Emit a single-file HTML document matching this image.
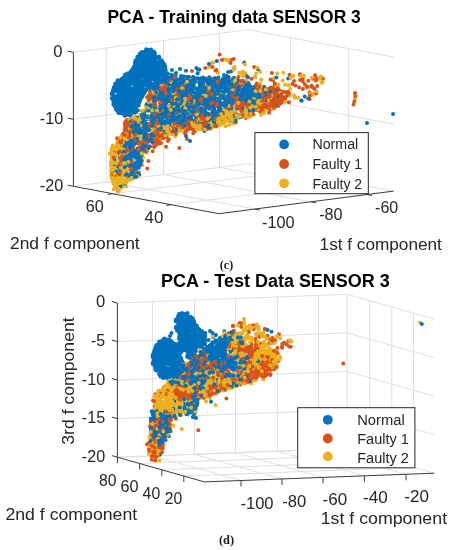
<!DOCTYPE html>
<html><head><meta charset="utf-8"><title>PCA SENSOR 3</title>
<style>html,body{margin:0;padding:0;background:#fff}svg{display:block}</style></head>
<body>
<svg width="454" height="550" viewBox="0 0 454 550">
<rect width="454" height="550" fill="#fff"/>
<line x1="106.3" y1="182.0" x2="106.3" y2="48.0" stroke="#dfdfdf" stroke-width="1"/>
<line x1="106.3" y1="182.0" x2="254.9" y2="209.0" stroke="#dfdfdf" stroke-width="1"/>
<line x1="163.5" y1="174.6" x2="163.5" y2="40.6" stroke="#dfdfdf" stroke-width="1"/>
<line x1="163.5" y1="174.6" x2="311.0" y2="201.8" stroke="#dfdfdf" stroke-width="1"/>
<line x1="219.5" y1="167.4" x2="219.5" y2="33.4" stroke="#dfdfdf" stroke-width="1"/>
<line x1="219.5" y1="167.4" x2="367.1" y2="194.5" stroke="#dfdfdf" stroke-width="1"/>
<line x1="290.6" y1="171.7" x2="290.6" y2="37.7" stroke="#dfdfdf" stroke-width="1"/>
<line x1="112.8" y1="193.7" x2="290.6" y2="171.7" stroke="#dfdfdf" stroke-width="1"/>
<line x1="348.4" y1="182.6" x2="348.4" y2="48.6" stroke="#dfdfdf" stroke-width="1"/>
<line x1="171.3" y1="204.7" x2="348.4" y2="182.6" stroke="#dfdfdf" stroke-width="1"/>
<line x1="73.4" y1="186.3" x2="248.1" y2="163.7" stroke="#dfdfdf" stroke-width="1"/>
<line x1="248.1" y1="163.7" x2="393.6" y2="191.1" stroke="#dfdfdf" stroke-width="1"/>
<line x1="73.4" y1="119.3" x2="248.1" y2="96.7" stroke="#dfdfdf" stroke-width="1"/>
<line x1="248.1" y1="96.7" x2="393.6" y2="124.1" stroke="#dfdfdf" stroke-width="1"/>
<line x1="73.4" y1="52.3" x2="248.1" y2="29.7" stroke="#dfdfdf" stroke-width="1"/>
<line x1="248.1" y1="29.7" x2="393.6" y2="57.1" stroke="#dfdfdf" stroke-width="1"/>
<line x1="152.5" y1="455.9" x2="152.5" y2="301.7" stroke="#dfdfdf" stroke-width="1"/>
<line x1="152.5" y1="455.9" x2="241.0" y2="480.5" stroke="#dfdfdf" stroke-width="1"/>
<line x1="194.5" y1="454.3" x2="194.5" y2="300.1" stroke="#dfdfdf" stroke-width="1"/>
<line x1="194.5" y1="454.3" x2="282.0" y2="479.0" stroke="#dfdfdf" stroke-width="1"/>
<line x1="235.5" y1="452.7" x2="235.5" y2="298.5" stroke="#dfdfdf" stroke-width="1"/>
<line x1="235.5" y1="452.7" x2="323.0" y2="477.4" stroke="#dfdfdf" stroke-width="1"/>
<line x1="277.3" y1="451.1" x2="277.3" y2="296.9" stroke="#dfdfdf" stroke-width="1"/>
<line x1="277.3" y1="451.1" x2="364.4" y2="475.8" stroke="#dfdfdf" stroke-width="1"/>
<line x1="318.5" y1="449.6" x2="318.5" y2="295.4" stroke="#dfdfdf" stroke-width="1"/>
<line x1="318.5" y1="449.6" x2="406.0" y2="474.3" stroke="#dfdfdf" stroke-width="1"/>
<line x1="347.2" y1="448.5" x2="347.2" y2="294.3" stroke="#dfdfdf" stroke-width="1"/>
<line x1="117.4" y1="457.2" x2="347.2" y2="448.5" stroke="#dfdfdf" stroke-width="1"/>
<line x1="369.7" y1="454.9" x2="369.7" y2="300.7" stroke="#dfdfdf" stroke-width="1"/>
<line x1="139.7" y1="463.5" x2="369.7" y2="454.9" stroke="#dfdfdf" stroke-width="1"/>
<line x1="391.8" y1="461.2" x2="391.8" y2="307.0" stroke="#dfdfdf" stroke-width="1"/>
<line x1="161.8" y1="469.8" x2="391.8" y2="461.2" stroke="#dfdfdf" stroke-width="1"/>
<line x1="413.5" y1="467.3" x2="413.5" y2="313.1" stroke="#dfdfdf" stroke-width="1"/>
<line x1="183.8" y1="476.1" x2="413.5" y2="467.3" stroke="#dfdfdf" stroke-width="1"/>
<line x1="117.4" y1="457.2" x2="347.2" y2="448.5" stroke="#dfdfdf" stroke-width="1"/>
<line x1="347.2" y1="448.5" x2="434.2" y2="473.2" stroke="#dfdfdf" stroke-width="1"/>
<line x1="117.4" y1="418.6" x2="347.2" y2="409.9" stroke="#dfdfdf" stroke-width="1"/>
<line x1="347.2" y1="409.9" x2="434.2" y2="434.6" stroke="#dfdfdf" stroke-width="1"/>
<line x1="117.4" y1="380.1" x2="347.2" y2="371.4" stroke="#dfdfdf" stroke-width="1"/>
<line x1="347.2" y1="371.4" x2="434.2" y2="396.1" stroke="#dfdfdf" stroke-width="1"/>
<line x1="117.4" y1="341.6" x2="347.2" y2="332.9" stroke="#dfdfdf" stroke-width="1"/>
<line x1="347.2" y1="332.9" x2="434.2" y2="357.6" stroke="#dfdfdf" stroke-width="1"/>
<line x1="117.4" y1="303.0" x2="347.2" y2="294.3" stroke="#dfdfdf" stroke-width="1"/>
<line x1="347.2" y1="294.3" x2="434.2" y2="319.0" stroke="#dfdfdf" stroke-width="1"/>
<path d="M135.4 125.4h.01M229.4 109.7h.01M116.3 177.9h.01M280.2 338.3h.01M174.8 398.7h.01M240.0 340.8h.01M150.9 109.2h.01M191.0 405.1h.01M231.3 343.8h.01M211.9 378.7h.01M146.8 111.1h.01M240.0 335.0h.01M113.7 183.9h.01M174.8 74.1h.01M196.2 381.4h.01M237.5 381.5h.01M180.1 378.8h.01M175.3 378.4h.01M260.9 361.1h.01M255.5 352.6h.01M177.5 400.9h.01M220.1 120.6h.01M200.5 102.0h.01M113.1 175.5h.01M170.7 399.1h.01M274.6 358.6h.01M209.0 115.6h.01M160.8 120.3h.01M212.3 393.6h.01M257.6 327.5h.01M268.5 100.0h.01M171.3 408.0h.01M257.7 97.4h.01M231.5 387.5h.01M230.6 120.9h.01M230.5 345.1h.01M125.0 122.6h.01M115.2 166.4h.01M187.1 411.7h.01M161.4 407.5h.01M165.2 387.8h.01M166.0 386.9h.01M139.5 135.7h.01M111.4 159.0h.01M153.2 130.9h.01M256.2 372.9h.01M264.9 361.0h.01M164.3 401.1h.01M151.6 426.0h.01M203.9 114.1h.01M177.3 378.7h.01M230.8 342.9h.01M173.5 395.1h.01M175.1 381.4h.01M238.7 361.5h.01M202.0 81.6h.01M238.3 103.3h.01M189.4 394.3h.01M255.2 90.3h.01M249.4 325.6h.01M236.3 108.3h.01M159.6 454.9h.01M256.7 346.1h.01M204.4 373.0h.01M246.7 84.8h.01M267.5 100.3h.01M222.1 123.4h.01M272.6 363.6h.01M251.5 358.9h.01M156.7 411.7h.01M112.1 167.3h.01M260.1 71.7h.01M135.0 123.5h.01M249.5 328.1h.01M123.5 186.3h.01M184.2 406.0h.01M132.6 123.4h.01M162.8 403.7h.01M232.7 123.5h.01M163.5 135.5h.01M124.5 184.1h.01M255.7 341.3h.01M133.7 130.0h.01M157.9 441.2h.01M223.8 374.0h.01M175.4 94.2h.01M140.1 136.1h.01M122.7 162.2h.01M241.3 73.9h.01" stroke="#EDB120" stroke-width="4.0" stroke-linecap="round" fill="none"/>
<path d="M200.7 82.3h.01M161.8 396.5h.01M163.2 428.6h.01M181.1 100.3h.01M157.5 128.8h.01M123.4 150.3h.01M184.9 372.1h.01M176.6 79.8h.01M198.1 371.0h.01M161.0 116.3h.01M166.9 390.8h.01M223.2 358.2h.01M191.8 396.3h.01M176.3 131.6h.01M219.1 356.4h.01M167.9 400.9h.01M273.1 80.6h.01M203.6 81.5h.01M211.2 82.8h.01M238.1 356.6h.01M173.0 84.3h.01M205.1 78.6h.01M294.0 81.1h.01M155.6 106.6h.01M153.2 117.4h.01M150.5 445.6h.01M260.6 369.1h.01M168.0 91.6h.01M172.6 116.9h.01M218.8 360.8h.01M217.4 361.3h.01M284.2 342.9h.01M146.3 129.8h.01M187.8 104.8h.01M153.0 400.5h.01M167.3 388.0h.01M202.8 362.1h.01M126.5 130.7h.01M269.2 103.2h.01M191.7 359.5h.01M244.4 372.7h.01M263.6 365.7h.01M260.2 348.9h.01M156.0 145.0h.01M184.8 133.3h.01M147.7 105.8h.01M263.1 374.9h.01M234.5 101.1h.01M278.9 102.3h.01M122.5 168.5h.01M233.1 347.9h.01M247.6 377.0h.01M210.9 80.3h.01M187.0 95.8h.01M275.6 100.6h.01M157.4 140.8h.01M286.8 92.6h.01M237.4 91.4h.01M217.2 362.8h.01M160.2 103.0h.01M240.6 81.6h.01M221.5 387.8h.01M124.1 163.9h.01M188.0 129.6h.01M122.7 134.3h.01M160.7 420.8h.01M158.2 454.1h.01M202.9 122.7h.01M175.8 130.8h.01M263.3 111.6h.01M133.7 146.0h.01M157.6 441.6h.01M219.0 365.8h.01M199.7 128.4h.01M224.0 359.5h.01M189.3 117.1h.01M268.1 93.4h.01M252.6 349.3h.01M277.6 96.4h.01M166.0 86.3h.01M247.8 370.6h.01M179.3 147.9h.01M202.0 358.8h.01M131.8 148.6h.01M316.5 79.4h.01M174.4 113.3h.01M170.3 411.0h.01M264.3 97.3h.01M190.0 397.0h.01M118.3 174.2h.01M231.4 386.4h.01M208.9 375.9h.01M131.8 145.3h.01M186.9 390.2h.01M198.3 430.2h.01M147.8 140.1h.01M172.0 116.3h.01M259.7 99.9h.01M249.5 374.7h.01M156.6 442.8h.01" stroke="#D95319" stroke-width="4.0" stroke-linecap="round" fill="none"/>
<path d="M127.1 132.9h.01M115.5 166.9h.01M248.5 329.9h.01M195.9 103.5h.01M219.4 113.5h.01M183.5 112.3h.01M155.0 437.8h.01M166.0 413.5h.01M208.0 118.7h.01M212.0 114.3h.01M274.3 363.1h.01M196.0 396.5h.01M199.4 388.7h.01M176.4 391.8h.01M185.7 371.2h.01M233.0 341.6h.01M213.7 111.7h.01M228.9 120.6h.01M194.2 389.2h.01M170.3 93.7h.01M134.3 128.8h.01M121.1 181.1h.01M303.6 76.8h.01M253.8 114.8h.01M221.7 380.1h.01M264.1 93.2h.01M261.5 373.0h.01M228.4 85.7h.01M122.8 143.5h.01M155.5 428.6h.01M271.1 103.1h.01M154.7 135.6h.01M158.6 135.1h.01M156.2 451.0h.01M150.2 436.3h.01M195.6 127.9h.01M313.6 93.8h.01M154.8 421.5h.01M208.6 394.7h.01M245.5 339.8h.01M190.1 80.3h.01M184.7 389.3h.01M151.5 126.7h.01M119.5 171.4h.01M263.4 102.0h.01M130.9 134.4h.01M159.8 396.9h.01M248.7 374.6h.01M153.3 450.4h.01M210.3 63.5h.01M146.5 110.9h.01M208.0 371.7h.01M153.3 110.3h.01M285.0 84.7h.01M253.0 107.4h.01M245.2 346.8h.01M168.1 134.5h.01M160.3 98.3h.01M276.5 361.2h.01M321.8 82.8h.01M157.3 416.3h.01M201.9 356.9h.01M188.5 398.7h.01M259.0 352.8h.01M262.8 342.7h.01M252.7 368.7h.01M230.8 106.2h.01M256.2 361.8h.01M265.2 106.3h.01M194.7 121.5h.01M212.6 366.3h.01M247.1 334.8h.01M274.3 354.6h.01M205.3 388.8h.01M237.2 374.2h.01M253.9 356.3h.01M354.8 98.7h.01M267.2 95.2h.01M115.1 156.2h.01M128.9 138.4h.01M149.2 135.4h.01M175.2 136.5h.01M208.2 388.8h.01M128.2 127.9h.01M171.7 397.8h.01M240.3 334.1h.01M151.0 120.7h.01M246.3 338.6h.01M143.0 157.7h.01M206.5 379.4h.01M154.0 91.7h.01M141.5 151.2h.01M125.6 137.2h.01M176.5 397.9h.01M126.5 182.0h.01M210.6 129.1h.01M256.2 110.1h.01M231.6 348.0h.01" stroke="#EDB120" stroke-width="4.0" stroke-linecap="round" fill="none"/>
<path d="M212.6 109.0h.01M136.2 137.6h.01M306.5 87.2h.01M150.8 441.1h.01M266.3 360.9h.01M232.6 103.2h.01M237.6 96.9h.01M275.5 106.2h.01M182.0 372.6h.01M195.8 372.0h.01M225.4 376.5h.01M261.3 99.9h.01M111.6 175.7h.01M239.4 101.0h.01M204.4 352.1h.01M216.6 342.9h.01M172.0 100.7h.01M208.9 104.1h.01M184.4 375.2h.01M175.2 113.8h.01M147.6 147.1h.01M124.4 142.2h.01M241.2 354.0h.01M158.3 445.6h.01M199.4 102.4h.01M158.8 446.6h.01M174.5 390.5h.01M257.1 366.4h.01M269.7 94.5h.01M246.9 382.1h.01M220.1 366.5h.01M180.2 95.7h.01M212.8 114.5h.01M128.0 155.6h.01M161.1 110.8h.01M244.2 111.8h.01M225.0 371.7h.01M139.4 118.1h.01M243.4 378.2h.01M241.3 327.0h.01M168.1 93.6h.01M190.8 368.4h.01M284.2 91.9h.01M179.9 375.8h.01M221.6 385.0h.01M194.3 396.5h.01M154.5 451.7h.01M259.1 374.1h.01M278.6 96.7h.01M248.5 349.6h.01M158.4 143.4h.01M278.5 360.8h.01M233.1 91.9h.01M177.4 411.5h.01M118.0 191.0h.01M158.3 394.2h.01M162.3 107.0h.01M197.4 400.3h.01M164.5 430.2h.01M155.4 134.3h.01M254.1 325.4h.01M238.8 101.5h.01M205.4 348.7h.01M184.1 98.8h.01M201.3 121.9h.01M255.6 86.3h.01M284.6 98.6h.01M157.8 424.7h.01M205.4 128.4h.01M231.0 91.3h.01M282.9 98.1h.01M257.5 364.0h.01M121.3 147.3h.01M169.3 383.9h.01M230.5 349.3h.01M267.3 335.7h.01M214.8 389.5h.01M258.2 89.7h.01M311.5 85.8h.01M153.8 116.0h.01M237.6 342.3h.01M249.4 360.4h.01M216.9 385.9h.01M131.8 135.7h.01M197.0 405.0h.01M184.0 130.2h.01M188.3 90.0h.01M204.2 392.8h.01M278.3 100.1h.01M200.5 120.8h.01" stroke="#D95319" stroke-width="4.0" stroke-linecap="round" fill="none"/>
<path d="M121.1 178.4h.01M117.9 144.1h.01M133.1 119.2h.01M249.4 358.0h.01M116.9 152.1h.01M253.0 368.0h.01M185.2 92.2h.01M166.2 124.1h.01M159.3 455.2h.01M249.1 108.8h.01M181.9 405.2h.01M191.8 391.6h.01M263.9 346.0h.01M164.9 123.2h.01M113.8 173.6h.01M200.5 377.2h.01M225.2 380.0h.01M184.4 397.2h.01M117.2 143.7h.01M190.8 93.0h.01M225.9 370.4h.01M187.0 406.6h.01M182.7 383.1h.01M189.1 387.2h.01M201.8 395.1h.01M157.2 396.7h.01M242.3 362.0h.01M176.9 381.6h.01M263.5 359.7h.01M242.7 379.1h.01M255.2 103.5h.01M152.3 448.5h.01M236.0 118.9h.01M262.0 374.2h.01M237.4 333.8h.01M143.7 112.9h.01M174.3 405.2h.01M196.2 122.6h.01M193.2 392.9h.01M175.8 393.7h.01M278.3 354.3h.01M204.0 354.3h.01M199.9 398.2h.01M178.4 412.9h.01M147.2 135.1h.01M250.4 350.8h.01M203.1 109.3h.01M224.7 59.2h.01M186.1 84.9h.01M283.3 72.8h.01M154.6 442.0h.01M151.4 116.3h.01M236.9 377.9h.01M219.5 366.3h.01M241.2 370.5h.01M161.4 406.1h.01M121.9 144.6h.01M168.1 402.2h.01M204.1 85.6h.01M134.7 140.6h.01M244.6 346.3h.01M170.3 398.5h.01M126.2 179.2h.01M167.7 386.1h.01M270.8 363.8h.01M148.5 102.6h.01M248.9 338.1h.01M118.5 176.6h.01M228.8 85.5h.01M181.4 100.9h.01M111.2 152.8h.01M182.6 107.8h.01M166.1 132.3h.01M127.6 120.9h.01M161.1 112.4h.01M193.8 393.9h.01M146.0 135.6h.01M171.6 403.8h.01M209.3 385.1h.01M157.6 138.9h.01M164.9 136.8h.01M204.8 397.8h.01M116.6 151.7h.01M274.8 365.4h.01M112.8 180.7h.01M217.0 112.9h.01M189.1 89.3h.01M236.2 333.9h.01M217.7 72.7h.01M215.6 115.0h.01M244.3 330.4h.01M253.3 366.8h.01M265.4 375.4h.01M166.5 126.9h.01M134.3 130.0h.01M180.8 405.3h.01M249.1 104.4h.01M149.4 136.9h.01M117.0 143.1h.01M169.0 403.1h.01M173.8 91.9h.01M211.8 386.5h.01M191.7 124.7h.01" stroke="#EDB120" stroke-width="4.0" stroke-linecap="round" fill="none"/>
<path d="M137.8 149.8h.01M129.8 179.6h.01M169.2 392.2h.01M274.5 91.8h.01M224.5 348.4h.01M199.6 99.6h.01M188.4 390.1h.01M167.9 141.0h.01M196.9 382.1h.01M273.1 103.9h.01M154.9 443.5h.01M156.0 429.9h.01M270.5 87.6h.01M309.8 92.4h.01M133.4 154.8h.01M237.8 373.2h.01M185.4 92.2h.01M255.4 338.8h.01M246.4 83.9h.01M248.6 351.9h.01M235.2 345.0h.01M254.6 378.0h.01M164.1 420.7h.01M200.1 100.4h.01M189.1 391.2h.01M279.0 334.2h.01M160.0 424.4h.01M126.3 158.3h.01M274.4 88.9h.01M268.0 370.6h.01M233.8 99.2h.01M188.8 94.5h.01M288.9 102.2h.01M174.1 378.0h.01M275.8 367.8h.01M230.8 98.8h.01M115.0 164.3h.01M127.3 123.5h.01M161.0 116.0h.01M180.7 120.1h.01M213.7 350.6h.01M190.9 97.5h.01M128.3 132.9h.01M288.4 341.0h.01M158.5 125.9h.01M268.1 93.4h.01M202.2 95.5h.01M153.7 424.8h.01M242.5 347.2h.01M167.9 83.9h.01M147.9 104.9h.01M254.8 360.3h.01M279.3 93.7h.01M249.5 373.9h.01M183.6 405.8h.01M153.0 451.5h.01M165.7 121.0h.01M225.0 389.9h.01M174.5 131.6h.01M159.2 141.2h.01M125.1 148.4h.01M120.2 149.6h.01M242.0 91.6h.01M153.8 100.1h.01M208.0 395.5h.01M219.4 377.2h.01M140.7 118.8h.01M272.9 361.7h.01M226.5 374.6h.01M206.9 395.0h.01M158.0 127.6h.01M265.6 375.5h.01M136.7 155.4h.01M143.0 143.6h.01M244.2 352.2h.01M224.4 86.4h.01M185.5 131.7h.01M284.4 342.8h.01M212.1 112.5h.01M259.3 368.6h.01M278.6 90.3h.01M254.6 349.3h.01M276.9 105.5h.01M226.8 107.6h.01" stroke="#D95319" stroke-width="4.0" stroke-linecap="round" fill="none"/>
<path d="M367.0 123.0h.01" stroke="#0072BD" stroke-width="4.0" stroke-linecap="round" fill="none"/>
<path d="M228.6 120.8h.01M255.7 357.3h.01M263.0 366.8h.01M202.9 394.2h.01M248.6 112.3h.01M248.6 364.0h.01M220.7 385.7h.01M159.3 394.2h.01M161.7 114.5h.01M118.0 171.8h.01M251.3 367.3h.01M273.4 356.5h.01M163.8 405.0h.01M233.8 344.7h.01M233.8 379.3h.01M155.4 128.2h.01M134.9 176.3h.01M160.9 452.5h.01M215.3 121.9h.01M261.1 114.9h.01M185.1 96.0h.01M117.6 147.4h.01M229.6 110.4h.01M257.4 335.2h.01M171.3 412.6h.01M118.7 180.0h.01M237.6 83.6h.01M151.1 434.2h.01M202.3 90.7h.01M178.9 101.0h.01M159.2 447.8h.01M181.0 399.1h.01M193.3 369.5h.01M162.6 403.8h.01M202.5 128.5h.01M175.4 123.1h.01M223.1 389.0h.01M211.1 380.2h.01M181.5 388.2h.01M166.5 408.3h.01M179.4 399.7h.01M135.1 121.2h.01M185.8 389.4h.01M121.3 142.5h.01M223.8 358.4h.01M238.4 334.2h.01M235.0 374.6h.01M177.0 383.2h.01M127.5 127.9h.01M227.6 385.3h.01M212.2 95.7h.01M269.4 354.4h.01M219.3 114.7h.01M116.7 173.3h.01M246.4 113.7h.01M290.2 89.0h.01M168.1 392.2h.01M226.6 120.4h.01M165.0 388.0h.01M115.7 164.0h.01M191.0 398.8h.01M220.6 366.6h.01M143.9 120.7h.01M172.7 127.1h.01M123.4 156.8h.01M180.3 379.9h.01M138.2 134.3h.01M188.3 408.7h.01" stroke="#EDB120" stroke-width="4.0" stroke-linecap="round" fill="none"/>
<path d="M164.1 420.2h.01M187.1 378.3h.01M151.8 129.5h.01M129.4 132.9h.01M147.6 107.0h.01M177.1 122.5h.01M209.9 85.2h.01M239.2 100.1h.01M279.6 90.4h.01M155.9 441.5h.01M186.0 130.1h.01M199.7 366.7h.01M159.6 143.6h.01M244.6 372.5h.01M245.8 379.6h.01M245.4 87.1h.01M162.6 109.2h.01M187.0 128.7h.01M230.8 60.6h.01M205.6 389.9h.01M159.2 391.1h.01M239.7 380.3h.01M232.4 102.6h.01M159.3 424.6h.01M268.7 373.4h.01M214.2 106.4h.01M186.3 124.9h.01M173.0 107.6h.01M148.3 148.2h.01M169.5 125.1h.01M197.1 404.5h.01M220.2 347.7h.01M203.8 104.8h.01M177.9 127.6h.01M133.8 120.5h.01M201.9 85.4h.01M195.4 389.2h.01M270.1 100.8h.01M248.9 113.8h.01M131.7 167.7h.01M323.0 78.9h.01M170.1 383.9h.01M155.6 399.2h.01M205.6 359.7h.01M229.5 95.2h.01M131.0 127.7h.01M213.8 342.3h.01M312.9 78.7h.01M250.3 360.5h.01M117.9 144.4h.01M164.3 82.3h.01M147.3 168.6h.01M226.6 375.4h.01M157.7 125.3h.01M208.5 106.1h.01M128.1 165.4h.01M156.0 436.2h.01M162.3 91.2h.01M172.5 119.3h.01M159.8 87.2h.01M214.8 392.1h.01M265.5 105.5h.01M161.2 443.1h.01M133.1 177.2h.01M119.6 158.3h.01M174.5 112.2h.01M151.5 90.1h.01M252.1 355.8h.01M204.5 97.8h.01M155.7 95.2h.01M203.5 377.0h.01M247.1 346.9h.01M138.9 172.7h.01M149.1 97.0h.01M238.5 99.8h.01M234.2 68.2h.01M185.1 391.4h.01M183.1 370.3h.01M256.6 342.6h.01M240.7 81.1h.01M204.7 356.2h.01M163.5 138.0h.01M237.8 89.1h.01M195.0 131.0h.01M252.2 350.8h.01M226.5 366.1h.01M289.5 74.8h.01" stroke="#D95319" stroke-width="4.0" stroke-linecap="round" fill="none"/>
<path d="M196.0 418.0h.01M210.7 104.9h.01M192.6 381.9h.01M139.9 126.4h.01M229.4 348.7h.01M194.2 111.6h.01M127.5 158.8h.01M213.1 372.9h.01M169.6 87.5h.01M220.7 369.2h.01M244.2 62.5h.01M195.2 402.3h.01M152.3 437.8h.01M195.7 404.3h.01M139.8 130.0h.01M226.8 359.8h.01M184.2 80.8h.01M214.3 388.9h.01M214.1 98.8h.01M146.2 135.2h.01M219.4 384.6h.01M228.8 102.4h.01M148.7 127.0h.01M215.8 369.0h.01M214.9 91.9h.01M220.5 361.2h.01M228.5 99.6h.01M136.9 155.6h.01M129.9 158.0h.01M167.1 95.1h.01M136.2 176.4h.01M248.4 83.1h.01M245.9 96.7h.01" stroke="#0072BD" stroke-width="4.0" stroke-linecap="round" fill="none"/>
<path d="M263.3 379.6h.01M170.1 407.1h.01M112.6 170.8h.01M126.4 173.1h.01M179.0 402.9h.01M179.6 378.5h.01M122.9 163.4h.01M153.1 450.1h.01M262.1 359.8h.01M181.5 382.9h.01M245.0 64.3h.01M159.2 137.3h.01M272.2 368.2h.01M165.5 407.1h.01M192.0 398.1h.01M238.9 384.4h.01M111.3 148.9h.01M206.1 388.0h.01M260.2 98.3h.01M224.7 116.2h.01M293.4 76.0h.01M263.9 356.6h.01M238.4 83.9h.01M238.2 352.9h.01M246.1 108.4h.01M164.2 122.1h.01M229.9 385.2h.01M243.0 109.1h.01M237.6 341.8h.01M160.4 123.5h.01M214.5 372.8h.01M237.0 360.0h.01M121.7 149.4h.01M117.2 184.1h.01M177.7 384.2h.01M215.2 370.9h.01M233.5 383.0h.01M182.6 384.2h.01M186.7 413.9h.01M261.8 350.4h.01M119.3 176.4h.01M268.3 338.8h.01M188.1 383.4h.01M159.4 453.7h.01M157.8 404.7h.01M237.8 366.3h.01M181.4 402.2h.01M167.5 393.0h.01M265.2 104.5h.01M168.1 391.3h.01M251.5 371.8h.01M155.9 398.3h.01M183.5 412.1h.01M198.3 119.9h.01" stroke="#EDB120" stroke-width="4.0" stroke-linecap="round" fill="none"/>
<path d="M155.7 452.4h.01M256.9 83.4h.01M174.3 387.6h.01M243.8 372.2h.01M239.3 86.3h.01M259.3 336.9h.01M275.5 93.4h.01M192.8 399.2h.01M179.2 108.9h.01M272.6 96.1h.01M221.3 345.7h.01M169.3 415.3h.01M167.1 393.8h.01M208.0 96.0h.01M186.4 403.7h.01M311.5 86.2h.01M281.7 91.6h.01M180.8 124.1h.01M196.8 122.5h.01M225.8 385.2h.01M228.1 99.7h.01M252.9 352.7h.01M158.5 443.3h.01M214.3 78.2h.01M278.7 94.4h.01M187.2 128.2h.01M245.5 362.7h.01M243.0 108.6h.01M255.2 86.6h.01M239.0 356.2h.01M179.9 378.4h.01M130.2 119.6h.01M202.0 120.2h.01M157.4 86.0h.01M157.0 432.0h.01M317.2 86.1h.01M252.2 348.7h.01M249.6 378.0h.01M186.3 370.7h.01M260.0 93.3h.01M125.7 145.3h.01M235.7 114.0h.01M204.5 371.9h.01M201.5 378.9h.01M168.6 92.2h.01M183.9 396.3h.01M248.8 116.6h.01M194.9 96.4h.01M124.6 147.3h.01M250.6 351.5h.01M176.6 395.9h.01M261.1 109.1h.01M186.7 376.2h.01M231.0 384.6h.01M177.9 123.8h.01M274.9 95.5h.01M235.7 352.1h.01M225.2 78.8h.01" stroke="#D95319" stroke-width="4.0" stroke-linecap="round" fill="none"/>
<path d="M173.1 121.3h.01M217.5 103.9h.01M232.4 114.3h.01M209.6 366.9h.01M176.3 117.4h.01M189.9 90.5h.01M190.6 407.9h.01M227.1 101.0h.01M132.4 167.9h.01M192.0 108.4h.01M170.3 110.7h.01M220.9 342.3h.01M124.6 130.3h.01M178.3 91.7h.01M220.5 362.5h.01M225.0 362.0h.01M188.9 116.9h.01M229.2 84.7h.01M199.2 369.6h.01M148.8 118.3h.01M149.3 108.1h.01M181.4 407.3h.01M204.3 365.6h.01M239.5 99.1h.01M205.7 350.0h.01M181.7 105.8h.01M113.9 165.8h.01M238.7 364.4h.01M183.6 118.2h.01M250.0 87.9h.01M178.9 410.7h.01M131.5 164.6h.01M236.1 363.6h.01M205.8 80.4h.01M205.2 122.5h.01M182.4 387.0h.01M154.5 426.1h.01M155.8 409.7h.01M203.2 376.7h.01M191.8 87.9h.01M164.4 117.4h.01M165.2 109.7h.01M201.4 80.7h.01M221.2 81.6h.01M221.3 355.8h.01M225.8 343.5h.01M177.4 120.2h.01M192.6 377.5h.01M202.1 85.2h.01M231.0 71.6h.01M259.3 94.5h.01M211.4 350.8h.01M249.2 87.4h.01M193.5 83.5h.01M242.6 366.9h.01M139.4 164.3h.01M128.7 145.4h.01M206.0 383.2h.01M217.5 90.1h.01M182.3 381.0h.01M145.1 125.8h.01M224.3 331.3h.01M245.5 88.1h.01M216.4 106.1h.01M198.8 377.9h.01M225.1 110.7h.01M223.3 349.3h.01M202.0 372.6h.01M172.8 114.7h.01M146.1 105.7h.01M169.0 110.2h.01M199.7 359.5h.01M187.8 367.1h.01M242.5 362.3h.01M226.7 335.5h.01M160.6 119.7h.01" stroke="#0072BD" stroke-width="4.0" stroke-linecap="round" fill="none"/>
<path d="M213.7 364.7h.01M171.9 417.2h.01M240.2 109.9h.01M113.3 181.5h.01M200.9 105.1h.01M172.8 93.1h.01M149.7 442.8h.01M205.6 118.6h.01M167.6 412.1h.01M256.4 359.2h.01M275.8 365.4h.01M228.9 344.2h.01M262.7 97.1h.01M183.6 382.3h.01M214.2 379.1h.01M186.4 377.9h.01M127.0 173.8h.01M118.0 145.6h.01M205.3 396.5h.01M218.9 113.0h.01M213.9 110.0h.01M170.2 407.9h.01M182.1 380.0h.01M243.9 324.4h.01M181.8 408.6h.01M148.9 453.7h.01M246.2 345.8h.01M159.0 454.4h.01M125.1 132.8h.01M270.8 367.9h.01M124.6 122.5h.01M153.9 442.1h.01M111.3 162.3h.01M150.5 99.1h.01M272.3 363.3h.01M254.3 348.2h.01M205.8 98.0h.01M166.2 395.9h.01M207.7 369.9h.01M113.6 152.1h.01M228.6 382.7h.01M112.4 173.5h.01M302.3 101.0h.01M420.0 322.8h.01M258.4 366.4h.01M189.2 390.3h.01M160.6 408.6h.01" stroke="#EDB120" stroke-width="4.0" stroke-linecap="round" fill="none"/>
<path d="M214.2 108.8h.01M221.4 381.6h.01M160.9 426.6h.01M268.7 370.9h.01M207.6 88.8h.01M183.7 384.6h.01M161.6 120.6h.01M240.6 383.9h.01M172.1 83.9h.01M196.9 117.4h.01M154.2 124.1h.01M163.0 427.0h.01M272.5 100.9h.01M127.9 171.1h.01M268.8 358.8h.01M202.6 118.2h.01M200.6 100.3h.01M259.5 103.6h.01M201.4 123.3h.01M262.0 89.3h.01M227.1 97.1h.01M267.6 369.7h.01M249.9 353.2h.01M132.2 155.2h.01M248.3 348.2h.01M205.8 128.6h.01M233.7 375.5h.01M295.4 85.6h.01M190.1 364.9h.01M253.4 379.6h.01M216.0 393.0h.01M168.8 429.2h.01M228.2 102.7h.01M258.7 107.9h.01M126.7 171.2h.01M261.3 357.9h.01M353.5 104.5h.01M224.0 342.8h.01M219.3 365.4h.01M186.4 378.0h.01M227.0 100.6h.01M237.5 355.8h.01M168.5 101.1h.01M322.2 78.3h.01M164.4 136.8h.01M153.1 142.8h.01M161.3 114.5h.01M269.3 343.3h.01M175.0 376.9h.01M198.4 398.7h.01M287.8 91.8h.01M155.5 451.3h.01" stroke="#D95319" stroke-width="4.0" stroke-linecap="round" fill="none"/>
<path d="M211.1 362.5h.01M198.6 384.4h.01M180.1 87.2h.01M223.0 342.2h.01M136.2 142.9h.01M216.0 351.8h.01M225.4 347.9h.01M204.3 88.9h.01M135.4 125.1h.01M229.8 374.3h.01M149.6 116.2h.01M194.5 372.9h.01M224.6 339.3h.01M189.9 116.4h.01M180.1 100.2h.01M244.3 371.2h.01M181.2 80.3h.01M218.6 347.0h.01M221.9 354.1h.01M226.9 348.9h.01M268.0 89.2h.01M151.2 104.0h.01M183.5 121.7h.01M225.2 81.1h.01M198.8 384.4h.01M136.7 163.1h.01M187.2 414.2h.01M249.0 367.5h.01M226.7 111.7h.01M180.9 385.1h.01M230.0 338.2h.01M191.4 127.0h.01M240.5 373.9h.01M219.7 85.4h.01M160.3 432.5h.01M243.8 353.4h.01M139.3 163.1h.01M213.3 110.4h.01M226.6 359.5h.01M208.2 387.8h.01M212.2 342.6h.01M133.2 144.3h.01M132.4 128.1h.01M192.2 391.1h.01M246.0 92.6h.01M214.9 82.4h.01M247.5 98.7h.01M210.6 85.4h.01M143.6 141.5h.01M215.9 106.2h.01M211.0 123.4h.01M163.7 120.6h.01M219.0 348.7h.01M232.4 361.2h.01M244.2 359.4h.01M179.1 115.3h.01M132.8 177.9h.01M139.3 122.5h.01M245.6 358.4h.01M213.8 108.9h.01M197.6 114.8h.01M202.6 83.4h.01M205.6 96.6h.01M199.1 384.0h.01M232.2 357.9h.01M214.8 94.8h.01M165.3 98.0h.01M144.9 131.0h.01M194.3 384.6h.01M163.5 437.3h.01M211.5 353.3h.01M202.9 101.1h.01M173.0 106.3h.01M199.1 101.8h.01M144.2 141.3h.01M130.8 175.7h.01M120.4 164.6h.01M227.1 360.6h.01M146.9 149.9h.01M248.6 103.4h.01M251.1 94.1h.01M234.0 83.2h.01M200.0 91.9h.01M190.9 81.9h.01M136.5 131.0h.01M179.2 399.8h.01M226.3 343.4h.01M206.8 346.7h.01M171.4 119.4h.01" stroke="#0072BD" stroke-width="4.0" stroke-linecap="round" fill="none"/>
<path d="M134.2 136.4h.01M242.4 333.4h.01M133.1 123.9h.01M230.0 382.2h.01M113.6 170.6h.01M119.0 183.7h.01M148.1 115.9h.01M269.6 363.2h.01M263.9 332.3h.01M226.6 110.2h.01M173.5 405.6h.01M153.0 133.4h.01M263.4 357.7h.01M195.8 391.0h.01M230.7 89.7h.01M129.5 120.5h.01M116.1 163.9h.01M246.1 336.5h.01M206.4 385.0h.01M195.2 387.1h.01M112.1 170.7h.01M240.1 353.3h.01M167.1 400.8h.01M154.9 443.7h.01M170.1 130.9h.01M166.9 410.2h.01M153.9 134.0h.01M254.5 380.5h.01M176.8 132.0h.01M289.4 95.6h.01M242.2 357.3h.01M225.1 388.6h.01M181.8 96.7h.01M250.5 359.4h.01M125.3 144.5h.01M168.0 381.5h.01M176.6 381.4h.01M213.3 62.6h.01M234.3 384.5h.01M228.6 347.2h.01M237.4 340.4h.01M149.6 443.3h.01M158.0 416.6h.01M223.7 114.3h.01M147.6 137.9h.01M206.1 397.2h.01M252.3 358.4h.01M174.9 402.0h.01M252.6 376.7h.01M179.7 399.2h.01M148.6 101.1h.01M197.8 78.4h.01M127.6 179.8h.01M268.9 358.1h.01M224.3 332.9h.01M263.2 351.1h.01M229.1 105.5h.01M118.9 174.4h.01M157.6 398.7h.01" stroke="#EDB120" stroke-width="4.0" stroke-linecap="round" fill="none"/>
<path d="M161.4 106.1h.01M117.7 146.4h.01M116.1 184.2h.01M177.3 392.8h.01M222.3 82.7h.01M228.9 382.5h.01M251.2 108.5h.01M155.4 134.2h.01M154.7 449.3h.01M158.4 88.6h.01M128.2 136.5h.01M130.4 131.4h.01M167.4 98.3h.01M195.4 390.1h.01M210.4 122.0h.01M239.3 323.2h.01M267.9 91.6h.01M275.1 94.2h.01M151.1 423.2h.01M227.4 367.3h.01M139.3 150.6h.01M166.5 101.3h.01M168.5 431.3h.01M251.4 101.3h.01M160.5 446.0h.01M240.7 377.5h.01M189.9 122.2h.01M264.8 372.4h.01M205.8 376.9h.01M273.3 107.8h.01M302.8 81.5h.01M268.7 110.3h.01M188.7 120.7h.01M235.8 122.6h.01M178.0 114.4h.01M265.2 351.0h.01M151.0 447.4h.01M151.8 94.6h.01M173.0 126.7h.01M184.5 393.3h.01M276.1 104.0h.01M121.4 149.4h.01M266.2 373.4h.01M256.5 84.5h.01M211.6 114.0h.01M121.0 144.2h.01M204.2 374.9h.01M155.6 419.0h.01M269.7 110.1h.01M158.8 138.2h.01M120.2 151.3h.01M246.4 374.9h.01M161.5 135.6h.01M274.3 86.1h.01M124.6 153.7h.01M213.0 371.1h.01M139.7 123.2h.01M231.3 349.6h.01" stroke="#D95319" stroke-width="4.0" stroke-linecap="round" fill="none"/>
<path d="M152.7 105.3h.01M154.8 434.1h.01M142.0 120.3h.01M229.1 379.0h.01M156.3 413.8h.01M123.1 159.4h.01M199.1 90.1h.01M185.4 97.2h.01M235.2 87.1h.01M242.5 96.5h.01M190.8 78.7h.01M214.2 370.3h.01M171.6 119.5h.01M262.6 98.2h.01M143.3 122.5h.01M197.5 104.9h.01M195.9 357.9h.01M175.6 106.8h.01M167.9 122.5h.01M121.1 144.3h.01M185.8 408.8h.01M226.3 357.9h.01M142.0 115.6h.01M228.8 85.7h.01M196.9 103.5h.01M166.9 432.4h.01M112.3 163.4h.01M178.9 107.5h.01M221.0 366.0h.01M221.2 385.6h.01M190.6 375.0h.01M137.8 162.2h.01M208.2 83.6h.01M230.6 87.6h.01M132.1 147.5h.01M164.2 95.3h.01M199.9 84.4h.01M206.9 351.7h.01M199.0 101.4h.01M209.3 96.2h.01M188.2 87.3h.01M228.5 346.2h.01M165.4 124.1h.01M191.6 109.0h.01M231.3 88.9h.01M156.9 440.9h.01M196.9 88.7h.01M212.8 95.6h.01M141.8 126.7h.01M165.6 436.0h.01M189.7 118.0h.01M159.5 421.7h.01M164.9 111.7h.01M224.0 75.0h.01M127.1 160.4h.01M228.2 375.0h.01M220.9 105.6h.01M165.7 435.6h.01M220.3 95.4h.01M206.5 113.9h.01M174.6 121.3h.01M125.1 166.5h.01M206.6 360.2h.01M226.3 363.3h.01M138.5 131.6h.01M129.7 143.7h.01M243.5 98.0h.01M160.7 414.3h.01M172.9 406.2h.01M192.3 378.1h.01M203.2 99.1h.01" stroke="#0072BD" stroke-width="4.0" stroke-linecap="round" fill="none"/>
<path d="M223.3 390.5h.01M237.8 337.0h.01M233.7 69.7h.01M152.5 112.5h.01M173.5 106.6h.01M273.9 78.4h.01M242.5 350.7h.01M156.9 400.7h.01M156.6 126.5h.01M117.9 139.5h.01M163.0 397.0h.01M251.4 383.6h.01M176.4 99.2h.01M231.8 113.9h.01M237.0 96.7h.01M234.9 342.7h.01M226.6 335.7h.01M195.6 375.6h.01M249.0 368.9h.01M297.8 97.8h.01M115.9 151.5h.01M255.9 334.3h.01M117.5 167.7h.01M243.6 324.2h.01M270.2 360.3h.01M124.0 162.3h.01M121.8 146.7h.01M276.0 86.2h.01M113.9 177.6h.01M259.9 346.9h.01M177.9 388.3h.01M210.6 91.6h.01M202.5 78.1h.01M165.7 409.0h.01M243.8 343.0h.01M261.0 356.3h.01M244.0 322.2h.01M250.7 107.0h.01M244.0 381.7h.01M170.7 421.1h.01M199.9 390.3h.01M113.5 173.7h.01M242.5 112.9h.01M180.5 106.1h.01M254.4 363.4h.01M231.9 384.9h.01M260.7 370.7h.01M240.4 364.4h.01M163.5 127.5h.01M193.5 395.3h.01M119.8 181.8h.01M209.5 67.1h.01M256.1 378.3h.01M228.2 108.3h.01M252.4 354.6h.01M208.1 377.4h.01M271.4 349.9h.01M247.9 365.1h.01M189.1 392.1h.01M235.9 111.4h.01M120.7 144.7h.01M127.8 140.2h.01M249.9 113.1h.01M179.0 100.2h.01M195.4 127.7h.01M154.6 447.7h.01M127.1 179.4h.01M214.4 113.2h.01M177.0 104.7h.01M187.5 111.0h.01" stroke="#EDB120" stroke-width="4.0" stroke-linecap="round" fill="none"/>
<path d="M284.7 97.8h.01M180.3 394.4h.01M198.6 97.9h.01M248.9 84.7h.01M114.9 175.8h.01M215.4 70.6h.01M130.6 167.0h.01M212.7 81.0h.01M272.7 96.0h.01M197.4 116.2h.01M180.2 121.4h.01M262.0 107.9h.01M185.9 374.7h.01M154.5 445.8h.01M179.3 95.7h.01M212.1 109.4h.01M248.9 331.9h.01M266.8 93.1h.01M152.3 107.7h.01M130.1 148.5h.01M243.3 355.6h.01M211.9 118.1h.01M282.2 347.8h.01M199.2 91.1h.01M218.8 365.0h.01M130.0 170.5h.01M184.0 373.8h.01M169.8 431.2h.01M178.3 396.4h.01M275.0 340.8h.01M184.4 380.9h.01M204.2 371.8h.01M289.3 93.4h.01M128.8 131.1h.01M194.7 106.4h.01M234.9 377.1h.01M173.7 78.9h.01M203.4 360.0h.01M200.3 87.7h.01M273.7 98.0h.01M217.2 392.7h.01M257.5 100.0h.01M151.6 456.3h.01M211.0 394.5h.01M225.6 106.2h.01M204.8 98.6h.01M236.1 101.5h.01M174.1 414.6h.01M204.0 374.8h.01M211.1 372.3h.01M158.1 89.1h.01" stroke="#D95319" stroke-width="4.0" stroke-linecap="round" fill="none"/>
<path d="M154.9 116.3h.01M144.1 126.4h.01M393.0 114.0h.01M206.7 350.1h.01M150.1 442.7h.01M162.1 102.5h.01M144.8 149.1h.01M130.6 163.5h.01M223.6 380.2h.01M161.9 100.1h.01M222.9 113.9h.01M274.8 99.8h.01M182.6 115.4h.01M216.1 346.7h.01M222.8 353.5h.01M204.6 367.4h.01M249.2 378.8h.01M265.6 90.5h.01M180.5 379.8h.01M188.7 85.2h.01M174.6 105.2h.01M201.3 375.6h.01M223.4 336.7h.01M225.7 368.0h.01M207.6 365.3h.01M214.5 115.3h.01M242.0 99.8h.01M157.7 433.2h.01M171.2 105.8h.01M139.7 119.1h.01M202.6 380.4h.01M207.4 346.9h.01M177.9 380.8h.01M138.5 163.3h.01M153.3 427.2h.01M182.2 98.5h.01M181.0 387.7h.01M152.6 427.2h.01M152.5 433.8h.01M213.0 356.4h.01M147.1 138.7h.01M213.1 361.5h.01M210.8 107.8h.01M201.5 370.1h.01M172.8 113.9h.01M170.8 86.5h.01M114.5 159.2h.01M196.6 94.9h.01M276.4 77.5h.01M228.5 355.5h.01M225.6 371.1h.01M135.4 156.8h.01M202.3 353.0h.01M157.9 88.1h.01M205.9 359.5h.01M194.5 362.0h.01M233.1 373.9h.01M118.8 167.7h.01M178.8 104.5h.01M157.1 94.3h.01M231.2 365.8h.01M193.8 86.9h.01M191.8 403.3h.01M129.2 166.0h.01M126.4 179.9h.01M195.9 383.5h.01M167.2 427.1h.01" stroke="#0072BD" stroke-width="4.0" stroke-linecap="round" fill="none"/>
<path d="M112.1 167.2h.01M122.4 142.1h.01M268.7 357.2h.01M257.3 366.4h.01M196.5 356.5h.01M205.5 396.7h.01M185.6 129.1h.01M221.4 123.5h.01M252.4 371.1h.01M166.0 432.0h.01M204.9 380.9h.01M128.1 127.9h.01M141.6 155.0h.01M126.7 143.3h.01M230.6 112.4h.01M231.7 387.4h.01M175.2 382.8h.01M146.0 118.1h.01M247.1 108.9h.01M176.1 101.1h.01M147.5 150.5h.01M128.6 170.0h.01M199.7 126.3h.01M225.8 111.3h.01M159.8 398.8h.01M193.2 389.5h.01M207.8 79.6h.01M169.7 405.1h.01M157.6 405.9h.01M225.3 373.1h.01M155.6 410.6h.01M188.6 387.3h.01M236.4 343.4h.01M185.6 407.9h.01M204.7 390.4h.01M223.4 381.9h.01M256.8 324.5h.01M197.5 128.7h.01M137.6 121.9h.01M180.0 376.6h.01M155.5 457.0h.01M225.0 120.2h.01M166.6 137.2h.01M128.1 123.3h.01M127.9 174.2h.01M175.9 395.8h.01M244.1 319.0h.01M179.1 379.0h.01M180.1 383.1h.01M152.5 447.7h.01M226.2 111.1h.01M183.9 91.5h.01M263.5 369.1h.01M248.8 365.3h.01M291.5 341.5h.01" stroke="#EDB120" stroke-width="4.0" stroke-linecap="round" fill="none"/>
<path d="M265.3 371.5h.01M158.4 142.1h.01M276.0 102.8h.01M263.5 99.9h.01M154.4 146.9h.01M190.6 390.4h.01M242.8 99.4h.01M259.6 89.3h.01M111.4 170.1h.01M206.9 117.9h.01M200.0 118.4h.01M175.9 418.7h.01M184.9 375.4h.01M269.0 369.8h.01M176.0 397.8h.01M257.6 110.1h.01M173.2 93.0h.01M208.5 392.4h.01M239.1 374.7h.01M222.4 376.4h.01M160.8 438.9h.01M162.2 437.7h.01M242.7 345.2h.01M270.3 338.9h.01M267.1 97.1h.01M208.8 389.5h.01M251.1 352.3h.01M204.9 375.6h.01M272.6 90.2h.01M156.6 122.2h.01M145.2 144.8h.01M190.0 105.1h.01M302.6 79.0h.01M150.1 146.6h.01M134.3 138.2h.01M234.2 89.5h.01M219.6 377.6h.01M211.2 120.5h.01M216.8 383.9h.01M127.7 122.4h.01M176.2 398.3h.01M163.8 108.7h.01M151.2 436.1h.01M153.6 142.4h.01M284.7 99.0h.01M244.7 113.8h.01M118.0 163.1h.01M262.1 104.0h.01M225.6 80.5h.01M148.4 130.0h.01M123.1 137.7h.01M232.8 334.2h.01M203.4 112.0h.01" stroke="#D95319" stroke-width="4.0" stroke-linecap="round" fill="none"/>
<path d="M133.6 165.3h.01M175.5 124.3h.01M158.7 97.9h.01M215.6 342.7h.01M169.4 105.8h.01M231.9 357.4h.01M205.9 355.9h.01M140.9 134.1h.01M219.2 349.5h.01M155.7 412.8h.01M217.2 91.4h.01M166.0 122.1h.01M223.1 94.4h.01M224.9 356.4h.01M214.8 104.4h.01M200.8 93.4h.01M210.4 87.7h.01M228.2 98.7h.01M202.6 381.0h.01M152.6 436.1h.01M227.1 358.6h.01M210.0 96.2h.01M172.1 416.6h.01M177.5 99.5h.01M237.0 108.0h.01M170.6 116.0h.01M263.6 100.0h.01M188.5 94.1h.01M119.7 168.2h.01M231.7 356.1h.01M165.5 91.3h.01M232.5 367.2h.01M247.0 107.1h.01M223.0 94.2h.01M130.7 155.8h.01M228.3 109.5h.01M241.6 361.7h.01M173.7 109.9h.01M229.6 88.7h.01M201.9 116.0h.01M149.7 128.6h.01M175.5 99.5h.01M170.5 84.3h.01M227.4 91.2h.01M255.4 98.1h.01M158.8 419.3h.01M213.9 365.0h.01M249.1 85.3h.01M224.6 351.4h.01M177.9 90.4h.01M186.1 123.6h.01M209.7 364.5h.01M129.6 154.7h.01M171.2 78.9h.01M158.4 426.5h.01M206.9 89.5h.01M231.8 356.6h.01M197.4 402.4h.01M212.7 346.8h.01M272.9 94.2h.01M157.0 90.5h.01M161.8 95.5h.01M209.0 90.2h.01M184.9 408.3h.01M252.5 101.6h.01M179.3 127.0h.01M239.6 117.4h.01M173.0 78.6h.01M178.7 86.9h.01M157.7 91.1h.01M214.8 116.6h.01M224.6 367.9h.01M220.7 337.7h.01M159.6 413.6h.01M184.2 117.3h.01M250.8 91.0h.01M121.5 157.4h.01M238.3 341.1h.01M169.8 107.8h.01M269.4 95.6h.01M186.6 117.7h.01" stroke="#0072BD" stroke-width="4.0" stroke-linecap="round" fill="none"/>
<path d="M248.2 77.4h.01M171.9 97.6h.01M240.7 338.8h.01M113.7 189.3h.01M240.4 381.7h.01M261.6 356.2h.01M259.9 354.6h.01M264.5 356.4h.01M138.0 143.8h.01M238.9 115.0h.01M169.9 386.2h.01M109.8 153.8h.01M211.5 127.9h.01M170.9 430.7h.01M253.5 359.3h.01M114.6 162.0h.01M212.6 381.7h.01M263.6 361.9h.01M165.7 423.1h.01M269.7 364.8h.01M177.0 410.3h.01M232.5 334.4h.01M204.8 127.9h.01M175.0 128.3h.01M208.5 384.1h.01M219.7 370.0h.01M233.1 111.0h.01M156.8 396.1h.01M217.3 124.6h.01M205.2 388.3h.01M214.4 384.3h.01M189.1 398.0h.01M112.2 166.8h.01M156.1 142.2h.01M114.4 147.8h.01M113.0 181.0h.01M123.2 182.3h.01M282.7 80.5h.01M135.9 140.2h.01M151.3 94.4h.01M157.1 98.0h.01M233.0 340.7h.01M157.5 406.3h.01M154.3 438.0h.01M202.2 127.5h.01M230.1 340.2h.01M142.1 152.4h.01M208.6 92.2h.01M172.8 387.4h.01M220.3 113.9h.01M232.9 119.5h.01M198.3 124.8h.01M270.2 105.9h.01" stroke="#EDB120" stroke-width="4.0" stroke-linecap="round" fill="none"/>
<path d="M280.6 96.4h.01M131.6 152.7h.01M134.8 172.4h.01M201.9 124.5h.01M233.6 334.3h.01M155.4 87.5h.01M270.3 366.7h.01M155.0 85.0h.01M197.2 390.1h.01M237.4 340.1h.01M138.6 151.9h.01M194.8 98.1h.01M271.0 95.5h.01M158.0 92.0h.01M137.7 129.8h.01M265.3 365.1h.01M261.5 105.6h.01M260.0 111.4h.01M224.8 347.2h.01M201.0 115.6h.01M316.2 93.6h.01M218.4 80.3h.01M189.4 393.6h.01M232.4 334.4h.01M173.0 398.7h.01M198.6 359.6h.01M199.9 396.3h.01M189.6 372.1h.01M252.7 108.2h.01M280.6 103.4h.01M233.8 330.8h.01M235.8 381.8h.01M156.7 112.7h.01M267.7 363.9h.01M250.2 107.8h.01M282.6 344.1h.01M163.5 107.3h.01M174.1 390.7h.01M241.0 349.4h.01M153.8 105.4h.01M131.2 152.4h.01M253.0 325.5h.01M232.6 103.1h.01M132.7 120.0h.01M240.7 323.1h.01M143.1 149.7h.01M234.3 347.5h.01M210.8 82.4h.01M231.7 387.5h.01M133.5 176.0h.01M206.8 127.0h.01M183.7 93.0h.01M167.5 108.7h.01M199.8 83.1h.01M178.4 128.9h.01M263.9 365.0h.01M114.9 150.2h.01M181.3 130.1h.01M281.2 95.4h.01" stroke="#D95319" stroke-width="4.0" stroke-linecap="round" fill="none"/>
<path d="M195.0 121.9h.01M188.8 386.6h.01M209.9 92.8h.01M138.7 155.7h.01M171.9 106.9h.01M192.2 115.1h.01M246.1 90.8h.01M167.6 106.4h.01M217.7 98.4h.01M176.6 408.4h.01M197.5 378.3h.01M239.2 343.8h.01M202.3 371.3h.01M225.9 346.8h.01M224.0 107.6h.01M195.2 81.8h.01M257.1 91.2h.01M301.2 100.6h.01M242.4 91.8h.01M128.4 159.6h.01M244.7 350.3h.01M139.0 117.8h.01M233.7 367.4h.01M153.0 112.4h.01M163.9 98.7h.01M215.0 364.8h.01M238.7 89.9h.01M160.9 416.5h.01M158.8 94.1h.01M215.9 334.9h.01M223.0 347.6h.01M240.0 374.4h.01M200.3 115.1h.01M120.7 159.4h.01M235.5 91.1h.01M176.2 127.3h.01M228.4 365.2h.01M209.6 84.6h.01M192.2 386.6h.01M192.0 376.5h.01M184.5 85.9h.01M203.4 92.8h.01M201.0 97.2h.01M242.1 93.7h.01M141.1 131.3h.01M142.5 120.9h.01M238.2 87.3h.01M203.2 82.6h.01M245.0 94.1h.01M150.1 106.8h.01M205.3 349.4h.01M157.2 111.2h.01M173.1 116.7h.01M228.4 339.0h.01M170.0 81.5h.01M155.9 413.9h.01M173.8 96.4h.01M187.3 387.2h.01M146.9 145.7h.01M208.7 347.4h.01M192.7 380.9h.01M249.6 90.9h.01M217.4 344.2h.01M212.9 88.3h.01M138.6 165.2h.01M133.5 155.7h.01M143.3 118.3h.01M202.6 102.2h.01M141.6 148.3h.01M154.5 432.4h.01M222.7 94.9h.01M156.6 95.5h.01M151.1 419.5h.01M182.6 86.5h.01M221.9 353.0h.01M140.8 119.2h.01" stroke="#0072BD" stroke-width="4.0" stroke-linecap="round" fill="none"/>
<path d="M160.6 129.4h.01M248.4 371.6h.01M153.7 458.9h.01M159.6 124.4h.01M119.7 138.9h.01M227.4 114.7h.01M158.1 112.8h.01M143.2 152.0h.01M177.6 383.9h.01M119.5 171.2h.01M117.7 144.7h.01M159.5 118.8h.01M221.5 386.8h.01M193.5 80.6h.01M142.3 155.0h.01M243.3 343.8h.01M152.4 441.6h.01M165.5 133.3h.01M122.0 172.9h.01M172.5 381.1h.01M112.7 166.7h.01M164.2 407.2h.01M162.8 388.8h.01M248.5 337.0h.01M194.5 391.5h.01M227.1 113.5h.01M268.6 349.9h.01M153.1 449.9h.01M163.9 393.8h.01M256.7 358.2h.01M177.0 385.3h.01M239.0 93.4h.01M122.7 184.5h.01M155.3 416.4h.01M112.0 178.8h.01M232.2 379.3h.01M227.2 116.9h.01M167.2 398.9h.01M233.0 119.4h.01M289.8 340.3h.01M240.3 354.3h.01M172.6 396.2h.01M276.8 355.0h.01M206.0 401.6h.01M193.8 122.7h.01M277.0 352.8h.01M129.1 177.7h.01M274.0 108.2h.01M112.6 179.7h.01M165.6 395.0h.01M191.7 381.2h.01M112.3 157.1h.01M269.1 348.7h.01M245.7 365.6h.01M233.7 373.8h.01" stroke="#EDB120" stroke-width="4.0" stroke-linecap="round" fill="none"/>
<path d="M201.8 95.3h.01M192.0 371.8h.01M273.2 96.5h.01M159.7 393.8h.01M173.6 87.5h.01M118.4 155.1h.01M191.5 124.5h.01M230.6 332.5h.01M201.6 371.4h.01M209.5 83.5h.01M199.5 117.4h.01M205.3 67.9h.01M192.6 111.5h.01M237.6 83.9h.01M272.0 88.3h.01M229.4 86.1h.01M262.6 364.9h.01M265.7 93.0h.01M201.0 128.6h.01M200.4 101.0h.01M278.2 106.0h.01M133.6 136.4h.01M204.2 94.7h.01M181.5 116.2h.01M242.5 84.4h.01M194.2 98.4h.01M274.6 90.0h.01M155.0 455.1h.01M218.2 361.6h.01M232.9 326.1h.01M250.4 381.2h.01M355.0 93.0h.01M247.2 375.6h.01M132.5 151.7h.01M267.5 361.7h.01M225.8 380.4h.01M231.0 338.4h.01M153.7 426.9h.01M212.7 112.2h.01M265.5 92.6h.01M135.7 151.8h.01M277.9 95.8h.01M260.8 371.2h.01M231.1 103.5h.01M255.0 368.0h.01" stroke="#D95319" stroke-width="4.0" stroke-linecap="round" fill="none"/>
<path d="M137.1 165.0h.01M143.0 145.5h.01M167.4 122.1h.01M181.3 93.0h.01M136.7 141.7h.01M224.2 92.7h.01M218.1 96.9h.01M225.8 78.7h.01M175.6 106.0h.01M126.8 164.2h.01M147.3 119.2h.01M211.9 84.1h.01M216.3 340.6h.01M247.0 356.3h.01M133.8 172.0h.01M204.4 131.0h.01M200.9 113.7h.01M132.7 175.7h.01M188.4 387.4h.01M222.7 355.3h.01M229.6 79.0h.01M182.4 409.1h.01M197.5 396.9h.01M195.7 405.5h.01M165.1 428.9h.01M181.5 91.6h.01M223.9 348.7h.01M211.4 350.4h.01M220.5 346.7h.01M214.4 348.1h.01M277.2 96.1h.01M154.7 135.5h.01M141.7 152.1h.01M171.9 108.0h.01M164.7 106.9h.01M162.2 419.0h.01M223.7 108.5h.01M248.3 375.9h.01M243.6 112.9h.01M168.8 436.2h.01M180.1 377.3h.01M203.5 93.2h.01M257.6 98.2h.01M196.6 88.6h.01M211.6 79.7h.01M225.4 336.0h.01M165.7 111.8h.01M173.2 77.8h.01M163.6 426.8h.01M202.5 365.4h.01M224.8 367.9h.01M223.5 109.4h.01M124.4 146.3h.01M199.4 365.1h.01M189.4 380.8h.01M192.1 84.5h.01M132.5 167.9h.01M224.6 354.7h.01M135.8 157.8h.01M167.0 124.6h.01M252.2 89.5h.01M126.3 143.0h.01M193.7 417.1h.01M168.6 120.6h.01M247.0 84.8h.01M165.0 119.4h.01M221.7 107.6h.01M197.2 369.7h.01M122.1 174.8h.01M201.5 395.1h.01M193.0 399.4h.01M176.9 411.3h.01M165.9 100.2h.01M159.9 454.5h.01M182.9 99.5h.01M182.7 90.8h.01M223.7 98.1h.01M148.7 135.7h.01M233.6 369.7h.01M209.5 367.0h.01M183.7 76.4h.01M218.0 370.9h.01M170.9 383.9h.01M226.1 347.9h.01M198.2 359.0h.01M155.5 419.8h.01M189.9 412.7h.01M180.8 92.1h.01" stroke="#0072BD" stroke-width="4.0" stroke-linecap="round" fill="none"/>
<path d="M177.0 408.4h.01M199.3 127.4h.01M185.2 408.9h.01M239.8 378.6h.01M312.3 95.1h.01M233.7 376.1h.01M276.4 367.9h.01M195.4 388.5h.01M265.9 354.2h.01M176.6 410.9h.01M143.6 112.3h.01M268.9 348.2h.01M213.9 382.7h.01M112.8 159.3h.01M149.1 101.1h.01M196.2 121.0h.01M215.4 114.7h.01M247.7 346.6h.01M186.6 408.3h.01M251.3 368.5h.01M166.0 94.2h.01M277.3 73.4h.01M122.5 146.7h.01M162.1 393.1h.01M273.0 361.2h.01M250.0 362.6h.01M222.1 117.1h.01M248.2 106.1h.01M261.9 336.5h.01M125.4 126.3h.01M223.2 117.5h.01M222.1 336.5h.01M112.4 156.6h.01M221.0 115.5h.01M178.8 397.0h.01M202.9 377.5h.01M266.5 100.1h.01M199.1 351.3h.01M164.6 408.6h.01M161.4 111.4h.01M233.7 120.2h.01M179.0 386.2h.01M213.4 382.1h.01M126.0 127.8h.01M225.8 382.2h.01M217.4 125.7h.01M157.2 445.1h.01M224.9 388.5h.01M218.8 119.5h.01M248.2 83.9h.01" stroke="#EDB120" stroke-width="4.0" stroke-linecap="round" fill="none"/>
<path d="M200.4 370.1h.01M155.4 394.2h.01M183.4 389.5h.01M155.8 96.1h.01M193.0 128.8h.01M241.2 375.3h.01M282.4 343.8h.01M240.0 359.4h.01M203.2 117.2h.01M126.5 137.0h.01M177.2 120.3h.01M234.1 347.9h.01M177.6 129.6h.01M195.9 386.4h.01M160.5 103.0h.01M265.1 372.7h.01M159.8 448.8h.01M203.0 122.6h.01M154.1 445.3h.01M173.2 414.0h.01M239.0 115.5h.01M246.2 83.2h.01M216.8 121.2h.01M181.6 395.9h.01M225.8 381.3h.01M206.1 360.4h.01M152.6 458.5h.01M154.7 440.5h.01M201.6 371.0h.01M184.6 363.2h.01M122.8 151.9h.01M227.5 381.9h.01M262.6 360.6h.01M126.8 119.8h.01M236.7 93.2h.01M149.0 103.8h.01M251.4 353.7h.01M193.8 104.1h.01M161.1 393.4h.01M173.0 91.2h.01M269.0 362.6h.01M211.1 114.7h.01M189.1 96.7h.01M248.3 100.2h.01M219.0 119.0h.01M254.8 358.2h.01M251.6 372.4h.01" stroke="#D95319" stroke-width="4.0" stroke-linecap="round" fill="none"/>
<path d="M198.0 362.8h.01M213.8 81.1h.01M168.2 408.7h.01M199.3 376.2h.01M231.4 361.4h.01M183.6 79.9h.01M151.3 430.6h.01M166.3 122.9h.01M171.5 132.6h.01M262.2 96.8h.01M118.8 162.4h.01M196.6 405.6h.01M129.5 161.4h.01M222.7 344.2h.01M207.0 106.7h.01M156.8 437.5h.01M169.1 85.4h.01M188.9 407.9h.01M162.7 95.6h.01M185.7 118.8h.01M179.1 117.6h.01M178.3 118.9h.01M180.1 91.5h.01M136.9 161.6h.01M245.4 98.0h.01M128.0 172.8h.01M174.8 416.2h.01M172.2 97.7h.01M194.1 408.3h.01M247.5 97.2h.01M136.7 172.0h.01M175.4 120.5h.01M206.5 92.0h.01M219.8 120.2h.01M183.5 118.7h.01M139.0 129.8h.01M212.8 111.8h.01M172.3 99.5h.01M221.4 103.7h.01M193.2 380.5h.01M186.4 91.0h.01M237.8 362.7h.01M190.9 92.8h.01M150.9 419.1h.01M207.7 348.5h.01M256.2 357.4h.01M187.3 84.1h.01M152.7 118.1h.01M240.1 374.9h.01M180.6 114.0h.01M186.6 102.6h.01M223.1 343.6h.01M158.9 429.9h.01M160.1 96.1h.01M219.9 92.8h.01M175.0 124.9h.01M215.9 348.1h.01M225.2 364.0h.01M163.7 436.8h.01M154.2 411.6h.01M232.0 105.1h.01M187.7 113.1h.01M225.9 87.1h.01M247.1 92.6h.01M202.8 387.8h.01M180.1 83.0h.01M241.0 116.8h.01M209.9 92.2h.01M237.7 90.0h.01M217.9 345.2h.01M216.8 84.1h.01M205.5 348.8h.01M250.5 105.4h.01M192.1 380.8h.01M220.7 87.9h.01M146.2 130.9h.01M216.8 379.7h.01M151.6 123.2h.01M178.5 382.1h.01M214.7 101.7h.01M158.9 115.2h.01M228.1 100.9h.01M237.1 82.6h.01M158.9 435.1h.01M231.2 366.1h.01M250.7 86.7h.01M219.0 109.2h.01M201.5 93.0h.01M175.1 95.4h.01M246.6 370.2h.01M205.6 355.2h.01" stroke="#0072BD" stroke-width="4.0" stroke-linecap="round" fill="none"/>
<path d="M114.9 154.9h.01M113.7 182.2h.01M239.8 333.0h.01M120.5 148.7h.01M159.5 392.4h.01M245.7 80.5h.01M193.1 403.9h.01M264.0 90.8h.01M214.3 380.3h.01M247.1 368.9h.01M218.8 376.2h.01M166.0 133.8h.01M221.3 121.6h.01M224.3 122.2h.01M169.1 415.2h.01M241.5 106.8h.01M228.0 387.5h.01M195.6 398.8h.01M185.9 104.0h.01M115.1 179.2h.01M256.7 360.7h.01M112.9 167.6h.01M191.8 399.3h.01M210.6 120.7h.01M156.7 400.5h.01M111.5 172.2h.01M225.9 380.3h.01M225.5 126.3h.01M262.6 359.6h.01M133.7 132.3h.01M246.4 327.2h.01M269.1 358.6h.01M144.2 119.4h.01M135.1 135.1h.01M260.3 88.4h.01M249.9 373.9h.01M246.3 115.1h.01M242.1 366.4h.01M256.1 379.8h.01M238.5 345.0h.01M250.0 113.3h.01M129.0 119.9h.01M179.8 413.3h.01M231.3 114.6h.01M217.3 369.9h.01M156.5 406.1h.01M203.6 360.3h.01M188.1 382.5h.01M251.4 337.7h.01M236.6 347.7h.01M322.5 81.8h.01M118.3 168.2h.01M121.2 181.6h.01M257.6 109.2h.01M214.5 376.6h.01" stroke="#EDB120" stroke-width="4.0" stroke-linecap="round" fill="none"/>
<path d="M152.1 437.9h.01M261.9 376.3h.01M167.8 82.3h.01M142.8 147.0h.01M253.6 104.8h.01M137.6 148.5h.01M272.6 104.7h.01M179.8 111.2h.01M151.3 128.6h.01M153.5 415.7h.01M234.4 121.0h.01M192.5 99.0h.01M234.0 97.9h.01M266.4 375.0h.01M157.5 427.5h.01M155.7 99.7h.01M210.0 345.6h.01M217.1 390.2h.01M154.4 413.4h.01M276.4 94.7h.01M242.2 344.5h.01M204.2 107.9h.01M248.2 105.1h.01M265.0 328.9h.01M270.5 103.5h.01M161.1 444.8h.01M130.3 171.0h.01M157.3 427.7h.01M218.6 81.7h.01M188.2 372.0h.01M180.2 118.8h.01M158.0 454.4h.01M193.2 390.3h.01M147.5 128.8h.01M167.0 389.3h.01M135.0 141.2h.01M279.0 92.0h.01M246.8 92.8h.01M219.2 363.2h.01M259.9 343.4h.01M123.3 143.7h.01M285.0 98.4h.01M227.9 386.7h.01M245.7 118.1h.01M204.8 368.4h.01M191.6 401.5h.01M269.0 112.8h.01M260.7 98.2h.01M208.4 128.3h.01M160.4 396.5h.01M355.3 96.0h.01M188.1 394.8h.01M249.9 370.6h.01M186.0 94.8h.01M190.4 396.1h.01M268.9 361.6h.01M133.4 171.9h.01M207.9 369.0h.01M199.7 366.5h.01" stroke="#D95319" stroke-width="4.0" stroke-linecap="round" fill="none"/>
<path d="M160.6 124.2h.01M214.8 358.8h.01M134.5 158.2h.01M224.7 106.8h.01M242.0 94.4h.01M222.9 84.8h.01M205.9 103.8h.01M159.1 121.9h.01M194.7 94.2h.01M194.4 383.9h.01M199.5 90.5h.01M199.7 85.8h.01M194.2 385.7h.01M195.6 78.2h.01M215.1 83.0h.01M246.9 91.3h.01M228.6 83.2h.01M210.5 86.8h.01M151.7 428.4h.01M269.6 91.9h.01M193.9 99.8h.01M186.9 411.2h.01M206.2 90.1h.01M241.6 379.7h.01M205.6 353.6h.01M139.2 174.7h.01M212.9 94.3h.01M137.2 119.3h.01M194.2 351.8h.01M140.2 157.8h.01M216.2 97.1h.01M167.6 420.5h.01M221.8 97.6h.01M238.7 367.3h.01M244.3 363.3h.01M203.1 85.8h.01M183.7 116.3h.01M244.2 108.4h.01M162.2 121.3h.01M246.0 99.9h.01M169.6 113.4h.01M138.0 153.4h.01M251.8 98.5h.01M207.9 89.2h.01M226.7 379.6h.01M140.8 138.7h.01M191.8 377.7h.01M191.3 410.6h.01M230.9 101.4h.01M187.5 79.5h.01M170.1 430.9h.01M193.6 85.0h.01M182.9 94.0h.01M173.0 88.3h.01M195.7 408.2h.01M134.3 130.2h.01M197.5 359.8h.01M175.7 87.8h.01M222.1 342.2h.01M179.8 406.2h.01M130.1 158.8h.01M188.3 87.8h.01M126.6 140.4h.01M144.0 133.9h.01M242.7 108.8h.01M248.9 347.1h.01M216.8 341.5h.01M150.2 140.9h.01M234.1 89.0h.01M160.6 108.1h.01M175.6 76.3h.01M230.4 357.1h.01M248.6 105.3h.01M187.1 405.0h.01" stroke="#0072BD" stroke-width="4.0" stroke-linecap="round" fill="none"/>
<path d="M196.3 126.1h.01M186.6 391.8h.01M194.2 128.8h.01M219.1 388.2h.01M196.0 384.8h.01M181.3 405.6h.01M233.2 337.4h.01M220.0 390.4h.01M163.1 408.5h.01M193.9 120.7h.01M123.7 138.3h.01M138.7 143.4h.01M254.8 368.0h.01M161.5 134.8h.01M210.6 383.8h.01M248.8 337.8h.01M239.2 72.7h.01M219.2 121.7h.01M182.1 105.1h.01M184.4 130.1h.01M212.6 62.6h.01M242.8 71.6h.01M169.8 382.5h.01M155.9 125.3h.01M114.3 183.9h.01M186.9 388.0h.01M178.2 408.6h.01M168.6 425.5h.01M308.1 87.8h.01M166.3 407.9h.01M216.6 126.8h.01M137.1 154.3h.01M111.3 172.4h.01M119.1 163.7h.01M158.3 391.2h.01M178.4 386.6h.01M248.3 117.1h.01M158.5 409.8h.01M231.0 113.4h.01M172.8 84.4h.01M229.1 125.1h.01M267.5 355.6h.01M146.4 105.0h.01M113.0 160.4h.01M236.0 348.8h.01M253.9 360.9h.01M175.9 123.2h.01M232.7 339.2h.01" stroke="#EDB120" stroke-width="4.0" stroke-linecap="round" fill="none"/>
<path d="M166.9 80.9h.01M195.6 124.3h.01M202.3 113.2h.01M201.3 82.9h.01M221.0 367.6h.01M232.3 346.1h.01M316.0 80.4h.01M140.2 127.9h.01M188.0 396.2h.01M208.1 98.9h.01M168.6 98.1h.01M258.8 372.2h.01M158.2 434.1h.01M219.1 366.1h.01M247.3 84.8h.01M133.1 124.4h.01M171.4 391.3h.01M125.3 152.0h.01M188.7 399.3h.01M147.1 97.2h.01M236.4 92.9h.01M253.1 371.5h.01M192.0 71.0h.01M299.8 74.7h.01M253.6 351.8h.01M158.6 394.4h.01M213.6 370.1h.01M150.9 431.7h.01M144.5 135.9h.01M225.7 380.6h.01M242.6 91.9h.01M160.2 430.1h.01M278.0 90.0h.01M236.9 102.7h.01M135.1 132.0h.01M204.0 80.8h.01M198.1 90.3h.01M216.5 69.9h.01M238.7 103.7h.01M266.6 105.6h.01M209.1 384.3h.01M155.2 401.9h.01M207.2 87.3h.01M175.0 104.2h.01M172.0 111.2h.01M153.7 440.5h.01M164.8 84.7h.01M166.2 408.8h.01M155.2 402.3h.01M120.7 152.2h.01M160.9 109.3h.01M154.9 107.1h.01M240.0 97.1h.01M113.0 171.4h.01M204.2 127.2h.01M218.1 82.4h.01M162.9 422.0h.01M246.7 379.0h.01M179.1 128.1h.01" stroke="#D95319" stroke-width="4.0" stroke-linecap="round" fill="none"/>
<path d="M229.9 119.9h.01M159.4 95.2h.01M213.4 92.3h.01M197.3 101.6h.01M174.1 105.0h.01M221.5 345.1h.01M240.5 347.6h.01M221.1 352.2h.01M200.8 94.2h.01M236.0 91.3h.01M248.6 92.9h.01M181.2 80.4h.01M176.7 109.8h.01M141.7 139.4h.01M138.8 159.9h.01M212.0 350.3h.01M158.1 409.6h.01M149.9 139.2h.01M119.8 147.9h.01M250.8 99.4h.01M202.1 383.7h.01M200.9 80.8h.01M131.0 175.8h.01M172.8 111.0h.01M205.0 99.4h.01M175.6 90.0h.01M208.2 353.7h.01M172.8 106.2h.01M208.5 97.6h.01M237.1 108.2h.01M187.1 95.9h.01M188.7 107.7h.01M247.8 98.1h.01M141.7 120.1h.01M138.5 167.7h.01M179.4 101.4h.01M193.0 88.7h.01M132.9 166.0h.01M198.1 70.2h.01M254.6 91.5h.01M179.1 93.4h.01M206.5 376.9h.01M208.9 64.0h.01M192.1 94.8h.01M224.6 353.7h.01M167.8 427.0h.01M232.3 369.3h.01M161.1 413.4h.01M233.9 77.7h.01M135.8 156.3h.01M227.8 358.6h.01M176.9 90.6h.01M170.3 113.0h.01M168.7 92.4h.01M240.4 378.4h.01M206.4 359.7h.01M126.2 162.0h.01M222.6 106.2h.01M205.4 89.7h.01M168.4 116.6h.01M196.0 384.5h.01M134.5 155.7h.01M230.3 94.3h.01M209.7 105.5h.01M221.8 370.1h.01M183.6 80.8h.01M213.7 367.6h.01M162.8 101.3h.01M172.2 117.0h.01M222.9 376.8h.01M170.4 120.2h.01M223.3 86.4h.01M210.0 85.2h.01M267.6 330.1h.01M229.8 364.7h.01M247.6 103.9h.01M198.7 373.6h.01M165.1 100.2h.01M129.0 148.4h.01M225.9 342.7h.01M224.6 106.7h.01" stroke="#0072BD" stroke-width="4.0" stroke-linecap="round" fill="none"/>
<path d="M159.5 449.4h.01M210.2 398.3h.01M201.6 392.5h.01M212.5 370.9h.01M172.9 407.3h.01M275.8 353.3h.01M217.9 392.2h.01M245.1 73.0h.01M266.0 91.7h.01M254.3 327.8h.01M184.7 91.9h.01M164.3 409.2h.01M253.3 370.6h.01M187.3 385.4h.01M137.0 118.4h.01M227.2 387.9h.01M152.8 122.6h.01M145.8 105.5h.01M155.2 454.4h.01M153.3 413.7h.01M121.0 187.9h.01M222.9 121.1h.01M276.1 364.3h.01M132.4 119.3h.01M211.4 108.6h.01M142.2 165.1h.01M196.6 125.6h.01M122.2 178.5h.01M204.5 392.5h.01M231.1 355.6h.01M117.7 186.8h.01M320.8 76.4h.01M200.7 127.0h.01M201.4 395.3h.01M155.3 446.8h.01M216.7 390.0h.01M177.0 405.5h.01M213.7 382.9h.01M207.1 92.7h.01M200.1 386.6h.01M251.1 371.2h.01M210.0 95.3h.01M187.5 386.9h.01M243.7 345.6h.01M163.8 409.5h.01M264.0 366.9h.01M161.1 138.0h.01M175.8 398.0h.01M249.3 113.5h.01M247.9 112.6h.01M230.0 377.3h.01M267.1 110.1h.01M201.5 378.1h.01M236.1 374.5h.01M270.6 360.1h.01M174.8 381.4h.01M140.4 120.7h.01M175.4 411.8h.01" stroke="#EDB120" stroke-width="4.0" stroke-linecap="round" fill="none"/>
<path d="M267.0 365.5h.01M160.6 135.7h.01M268.7 367.3h.01M256.8 359.0h.01M180.2 397.7h.01M208.5 80.4h.01M154.7 86.5h.01M157.5 128.2h.01M187.9 107.1h.01M206.1 92.7h.01M186.5 119.4h.01M147.0 135.7h.01M152.9 428.4h.01M157.4 120.8h.01M160.7 393.4h.01M304.8 84.3h.01M202.7 374.6h.01M255.7 370.2h.01M190.1 373.1h.01M124.3 155.7h.01M153.9 459.2h.01M133.8 149.7h.01M153.7 89.7h.01M198.6 358.5h.01M254.6 87.9h.01M170.4 424.7h.01M130.2 127.6h.01M169.6 412.8h.01M153.3 428.3h.01M193.9 357.4h.01M219.3 87.9h.01M245.6 358.5h.01M268.9 97.3h.01M243.2 378.9h.01M157.6 84.3h.01M224.8 389.3h.01M163.1 394.9h.01M240.4 384.5h.01M209.4 368.2h.01M161.9 138.0h.01M138.8 147.9h.01M205.6 117.6h.01M151.9 459.8h.01M185.1 126.6h.01M131.7 169.0h.01" stroke="#D95319" stroke-width="4.0" stroke-linecap="round" fill="none"/>
<path d="M182.5 89.8h.01M216.7 105.9h.01M160.0 106.7h.01M209.5 94.2h.01M158.9 436.3h.01M126.5 149.3h.01M139.1 158.6h.01M203.3 356.5h.01M168.0 427.5h.01M182.8 109.6h.01M183.3 107.5h.01M237.3 355.9h.01M170.7 99.1h.01M288.1 78.4h.01M183.6 380.9h.01M209.5 357.9h.01M118.9 166.8h.01M212.7 353.1h.01M152.6 93.6h.01M141.2 115.4h.01M225.2 344.7h.01M207.8 120.8h.01M304.7 96.5h.01M153.5 102.8h.01M202.4 81.7h.01M221.1 369.7h.01M202.6 359.7h.01M213.3 118.7h.01M145.0 127.7h.01M187.6 125.7h.01M166.6 422.1h.01M234.7 363.6h.01M174.6 404.8h.01M246.0 91.6h.01M188.9 112.2h.01M194.8 357.3h.01M117.8 166.0h.01M253.9 108.4h.01M139.9 151.1h.01M164.6 97.4h.01M236.4 86.7h.01M257.9 69.2h.01M139.2 165.8h.01M224.9 356.8h.01M224.7 374.7h.01M141.2 164.3h.01M172.3 415.1h.01M203.8 371.8h.01M210.8 86.0h.01M162.3 436.0h.01M211.9 381.0h.01M234.2 364.8h.01M114.9 156.3h.01M140.8 132.9h.01M210.6 352.0h.01M163.9 103.2h.01M202.7 113.4h.01M237.7 108.2h.01M244.5 370.9h.01M182.4 95.2h.01M171.4 124.5h.01M215.1 95.8h.01M163.5 104.9h.01M208.4 90.6h.01M172.3 381.3h.01M220.4 90.9h.01M254.9 92.3h.01M135.2 151.8h.01M138.9 157.4h.01M180.5 92.8h.01M207.7 89.9h.01M178.5 379.3h.01M160.5 414.3h.01M141.4 118.1h.01M205.7 380.4h.01M161.5 99.6h.01M135.7 143.3h.01M172.6 112.0h.01M124.6 160.5h.01M162.0 436.9h.01M225.5 89.8h.01M199.6 109.4h.01M153.2 417.1h.01M251.4 88.6h.01M165.4 105.6h.01" stroke="#0072BD" stroke-width="4.0" stroke-linecap="round" fill="none"/>
<path d="M125.2 137.3h.01M235.2 112.3h.01M114.2 146.7h.01M230.3 388.0h.01M190.4 388.8h.01M125.1 135.8h.01M264.9 89.5h.01M241.5 356.7h.01M157.5 400.9h.01M169.5 383.4h.01M177.2 100.1h.01M241.4 381.9h.01M251.6 338.7h.01M269.8 356.5h.01M161.9 396.1h.01M121.0 142.3h.01M175.7 99.6h.01M154.7 96.0h.01M263.0 357.0h.01M190.9 92.4h.01M240.3 347.8h.01M163.6 390.9h.01M180.1 404.9h.01M230.4 337.9h.01M216.5 370.6h.01M232.0 79.3h.01M219.4 384.1h.01M165.6 87.1h.01M211.4 380.8h.01M141.3 163.2h.01M231.8 384.6h.01M257.5 361.5h.01M188.8 387.1h.01M118.5 138.9h.01M119.7 150.7h.01M171.7 134.2h.01M165.2 129.7h.01M264.7 346.2h.01M168.5 392.7h.01M177.9 382.2h.01M276.7 363.9h.01M114.5 178.9h.01M212.6 394.3h.01M153.6 457.1h.01M148.2 147.4h.01M118.4 145.1h.01M138.0 118.2h.01M152.2 449.2h.01M243.4 338.2h.01M246.1 108.3h.01M170.1 412.1h.01M117.0 184.5h.01M171.5 419.7h.01M234.4 67.0h.01M183.5 129.7h.01M154.5 408.0h.01M237.8 385.4h.01M187.2 405.0h.01M274.5 343.1h.01M219.1 381.1h.01M255.0 372.3h.01" stroke="#EDB120" stroke-width="4.0" stroke-linecap="round" fill="none"/>
<path d="M237.6 84.7h.01M183.3 86.5h.01M196.7 396.6h.01M146.4 125.3h.01M270.9 370.0h.01M183.7 86.2h.01M193.6 106.0h.01M162.7 445.7h.01M216.3 106.1h.01M207.8 78.4h.01M153.2 419.2h.01M261.2 374.4h.01M242.4 104.3h.01M175.8 130.3h.01M232.5 115.3h.01M182.7 128.0h.01M258.4 106.2h.01M228.6 333.2h.01M188.7 365.7h.01M158.4 84.0h.01M193.2 133.2h.01M251.3 343.5h.01M261.1 100.6h.01M155.8 428.8h.01M191.3 83.5h.01M223.8 86.9h.01M259.0 369.3h.01M269.5 370.6h.01M274.2 364.4h.01M263.4 369.6h.01M155.2 451.4h.01M177.2 90.8h.01M227.4 384.5h.01M223.2 388.1h.01M292.6 84.0h.01M232.5 375.2h.01M156.8 433.0h.01M151.9 88.5h.01M238.2 86.3h.01M213.8 352.2h.01M268.4 357.3h.01M197.1 122.4h.01M270.8 367.2h.01M146.9 134.9h.01M251.5 78.7h.01M184.3 391.3h.01M269.6 102.4h.01M243.9 85.6h.01" stroke="#D95319" stroke-width="4.0" stroke-linecap="round" fill="none"/>
<path d="M167.3 427.2h.01M210.5 353.9h.01M129.3 171.5h.01M215.6 340.6h.01M121.7 159.7h.01M127.0 142.3h.01M156.6 429.6h.01M221.1 367.2h.01M193.6 377.7h.01M241.3 369.9h.01M208.5 339.9h.01M245.8 94.1h.01M226.7 86.1h.01M219.2 100.3h.01M215.0 102.2h.01M232.9 101.8h.01M239.6 87.1h.01M210.8 97.0h.01M264.4 87.0h.01M162.5 123.3h.01M125.0 170.0h.01M182.0 101.0h.01M167.5 115.0h.01M227.0 364.4h.01M167.8 91.2h.01M257.3 98.1h.01M156.1 100.0h.01M238.7 89.6h.01M165.2 119.0h.01M240.1 116.9h.01M231.6 108.3h.01M138.4 158.5h.01M155.5 100.5h.01M162.7 101.4h.01M250.9 90.6h.01M135.4 162.2h.01M219.1 102.3h.01M224.4 367.7h.01M170.0 431.6h.01M211.2 85.5h.01M221.2 111.6h.01M213.1 82.3h.01M114.6 160.4h.01M211.5 120.6h.01M171.3 114.5h.01M205.9 92.9h.01M152.7 432.0h.01M149.7 116.2h.01M249.3 90.8h.01M157.8 431.3h.01M211.8 122.2h.01M188.1 389.9h.01M189.4 400.1h.01M223.2 93.7h.01M210.3 86.1h.01M206.0 102.5h.01M219.8 354.7h.01M159.8 426.7h.01M180.9 88.9h.01M248.4 102.0h.01M151.9 111.8h.01M185.1 409.4h.01M138.0 118.4h.01M187.4 88.6h.01M191.9 406.4h.01M222.9 94.3h.01M167.7 112.8h.01M147.4 126.9h.01M189.1 406.8h.01M227.9 363.2h.01M196.6 124.2h.01M200.8 106.6h.01M184.1 112.2h.01M215.2 364.9h.01M134.0 150.9h.01M193.0 110.0h.01M222.4 369.1h.01M198.2 111.1h.01M190.1 86.7h.01" stroke="#0072BD" stroke-width="4.0" stroke-linecap="round" fill="none"/>
<path d="M160.9 110.4h.01M189.5 409.0h.01M219.0 116.8h.01M116.6 155.4h.01M243.1 374.0h.01M237.0 349.7h.01M196.1 129.2h.01M239.8 116.3h.01M136.7 137.5h.01M113.5 148.0h.01M153.2 437.1h.01M219.8 370.6h.01M248.6 366.1h.01M187.3 388.6h.01M262.5 335.3h.01M167.4 404.1h.01M254.0 368.5h.01M187.8 407.3h.01M151.5 424.1h.01M251.2 356.9h.01M209.3 377.1h.01M121.9 135.3h.01M118.8 139.4h.01M176.3 377.9h.01M234.2 375.1h.01M113.4 147.8h.01M182.0 400.6h.01M280.5 357.0h.01M156.0 410.8h.01M207.4 395.4h.01M152.4 447.2h.01M120.5 162.8h.01M271.2 343.4h.01M176.2 125.2h.01M221.3 124.0h.01M164.6 395.1h.01M153.8 107.3h.01M187.2 391.4h.01M146.8 110.4h.01M124.6 128.5h.01M128.3 127.4h.01M222.9 117.9h.01M239.3 381.1h.01M177.8 102.1h.01M116.2 146.9h.01M234.6 119.6h.01M156.8 139.3h.01M279.4 359.5h.01M159.4 406.3h.01M251.8 361.8h.01M172.5 91.3h.01M112.8 175.3h.01M181.4 415.0h.01M204.7 392.1h.01M112.1 161.4h.01M258.8 327.0h.01M161.2 406.1h.01M243.3 383.0h.01M157.0 408.0h.01M148.1 118.5h.01M166.1 397.1h.01" stroke="#EDB120" stroke-width="4.0" stroke-linecap="round" fill="none"/>
<path d="M251.0 103.8h.01M214.9 360.3h.01M264.8 107.2h.01M202.7 84.8h.01M243.7 85.1h.01M188.2 392.7h.01M129.8 147.0h.01M252.5 356.0h.01M144.3 133.2h.01M187.7 127.1h.01M174.9 82.1h.01M118.3 173.4h.01M147.8 142.5h.01M173.0 411.4h.01M161.6 131.5h.01M274.1 102.9h.01M178.3 124.5h.01M256.0 108.3h.01M181.0 124.4h.01M267.5 95.9h.01M263.0 107.6h.01M155.5 453.5h.01M149.0 442.7h.01M230.7 60.0h.01M176.0 396.9h.01M273.9 96.3h.01M263.9 376.7h.01M268.4 93.5h.01M189.1 398.7h.01M231.9 346.9h.01M229.0 81.2h.01M193.5 114.0h.01M286.8 344.5h.01M256.9 368.8h.01M230.5 101.9h.01M262.9 366.1h.01M277.3 89.9h.01M309.7 99.1h.01M250.2 362.8h.01M247.5 363.1h.01M238.6 359.5h.01M264.2 370.2h.01M213.5 385.5h.01M186.9 81.9h.01M274.0 369.3h.01M168.8 84.6h.01M268.3 107.8h.01M177.2 129.3h.01M206.2 348.3h.01M238.2 367.1h.01M183.5 121.2h.01" stroke="#D95319" stroke-width="4.0" stroke-linecap="round" fill="none"/>
<path d="M177.9 104.7h.01M219.1 105.5h.01M136.5 137.6h.01M191.2 376.3h.01M169.7 88.5h.01M236.4 353.9h.01M207.1 100.9h.01M155.0 419.9h.01M167.8 113.1h.01M191.7 94.2h.01M180.1 124.7h.01M208.5 347.5h.01M140.9 156.0h.01M223.2 355.2h.01M167.0 100.4h.01M230.4 367.2h.01M209.8 345.7h.01M141.0 123.8h.01M261.2 357.9h.01M205.6 103.5h.01M220.3 360.3h.01M122.1 146.6h.01M169.8 99.8h.01M221.3 85.4h.01M219.7 338.2h.01M155.0 89.2h.01M165.8 103.2h.01M188.5 104.4h.01M262.9 99.8h.01M183.1 110.8h.01M206.8 359.1h.01M188.4 80.0h.01M249.0 110.3h.01M128.4 176.2h.01M150.7 420.9h.01M164.7 120.9h.01M205.4 87.8h.01M253.0 88.2h.01M141.3 116.1h.01M197.6 112.1h.01M191.6 401.9h.01M252.3 110.5h.01M210.5 356.0h.01M213.0 357.7h.01M196.9 109.3h.01M216.8 82.1h.01M142.8 124.8h.01M215.2 91.8h.01M163.9 422.0h.01M141.0 123.1h.01M181.0 79.7h.01M254.9 104.4h.01M219.6 102.9h.01M195.8 118.5h.01M153.7 130.6h.01M224.6 377.1h.01M211.7 347.0h.01M143.0 130.4h.01M196.6 89.0h.01M251.7 93.2h.01M209.0 92.7h.01M206.2 93.4h.01M177.2 80.0h.01M168.4 124.9h.01M231.7 86.3h.01M191.3 110.0h.01M155.5 119.8h.01M218.1 365.0h.01M196.6 399.9h.01M146.6 117.2h.01M121.3 156.4h.01M200.5 123.5h.01M236.8 344.8h.01M141.1 155.5h.01M172.5 114.3h.01M149.0 110.6h.01M253.2 107.6h.01" stroke="#0072BD" stroke-width="4.0" stroke-linecap="round" fill="none"/>
<path d="M121.9 148.8h.01M153.0 92.6h.01M176.7 381.4h.01M209.2 371.1h.01M120.7 157.2h.01M288.6 85.3h.01M168.8 386.6h.01M204.0 110.1h.01M221.2 120.2h.01M258.1 376.2h.01M178.3 412.5h.01M157.5 447.9h.01M128.6 146.3h.01M243.0 112.1h.01M198.5 72.2h.01M245.5 373.7h.01M132.9 135.1h.01M176.1 403.2h.01M193.4 125.1h.01M228.4 335.8h.01M193.3 96.1h.01M245.6 330.2h.01M184.2 398.5h.01M245.5 351.3h.01M230.4 379.6h.01M167.6 402.8h.01M181.7 406.0h.01M178.8 403.1h.01M186.0 383.8h.01M241.6 350.0h.01M173.8 396.1h.01M178.5 126.9h.01M158.2 398.9h.01M179.9 376.6h.01M156.1 132.1h.01M255.4 101.1h.01M190.2 108.9h.01M166.3 408.4h.01M168.2 386.9h.01M114.9 184.6h.01M196.5 124.3h.01M114.2 156.5h.01M163.0 128.9h.01M201.9 357.0h.01M214.8 89.1h.01M135.5 170.2h.01M294.8 97.8h.01M118.9 147.4h.01M113.9 154.9h.01M222.3 117.3h.01" stroke="#EDB120" stroke-width="4.0" stroke-linecap="round" fill="none"/>
<path d="M157.6 142.4h.01M247.6 375.3h.01M164.9 86.3h.01M206.3 124.8h.01M210.2 104.0h.01M244.2 99.6h.01M226.0 374.4h.01M186.4 374.4h.01M199.3 379.8h.01M207.9 362.0h.01M246.3 75.8h.01M124.7 157.9h.01M266.5 100.6h.01M226.6 379.4h.01M166.0 146.8h.01M169.2 390.6h.01M221.8 366.4h.01M189.0 100.3h.01M221.4 121.2h.01M236.4 355.4h.01M234.0 112.1h.01M242.4 341.4h.01M281.9 346.8h.01M166.6 423.6h.01M247.6 382.0h.01M250.8 347.4h.01M261.0 100.1h.01M185.4 373.7h.01M207.1 129.1h.01M176.1 134.0h.01M178.4 129.9h.01M226.7 103.7h.01M155.8 122.4h.01M264.3 91.1h.01M251.4 355.1h.01M187.8 116.9h.01M185.6 103.7h.01M238.5 346.5h.01M274.6 102.9h.01M246.9 380.6h.01M146.2 151.9h.01M161.4 126.9h.01M209.6 368.5h.01M216.6 123.1h.01M198.5 365.5h.01M200.9 106.2h.01M184.6 394.3h.01M233.8 98.2h.01M122.6 144.2h.01M199.3 364.1h.01M210.9 123.9h.01M220.6 385.4h.01M189.1 385.4h.01M182.2 80.1h.01M249.9 379.7h.01M154.2 127.1h.01" stroke="#D95319" stroke-width="4.0" stroke-linecap="round" fill="none"/>
<path d="M243.0 93.2h.01M220.2 102.6h.01M268.9 89.8h.01M234.2 82.8h.01M192.1 105.4h.01M132.8 141.8h.01M217.0 356.9h.01M245.2 90.2h.01M227.1 357.8h.01M143.1 140.9h.01M242.1 359.6h.01M231.6 350.6h.01M193.5 412.8h.01M185.7 410.5h.01M153.3 104.2h.01M232.6 356.1h.01M207.8 378.2h.01M192.2 394.1h.01M220.8 96.8h.01M215.8 98.9h.01M213.1 351.0h.01M138.8 133.7h.01M161.7 97.4h.01M145.4 133.5h.01M215.3 79.3h.01M219.5 100.2h.01M162.9 91.2h.01M190.0 94.4h.01M265.3 100.8h.01M192.0 383.9h.01M114.7 166.0h.01M170.8 419.4h.01M189.9 123.9h.01M216.3 114.4h.01M216.4 346.7h.01M216.8 103.0h.01M171.4 416.5h.01M167.5 413.0h.01M226.8 82.8h.01M199.8 115.2h.01M140.9 134.2h.01M223.3 358.0h.01M228.3 342.4h.01M159.9 98.6h.01M232.9 367.0h.01M222.1 371.1h.01M198.4 386.6h.01M174.0 120.7h.01M203.8 348.7h.01M140.4 151.9h.01M129.7 142.0h.01M213.3 364.0h.01M190.9 84.2h.01M211.7 79.2h.01M242.8 89.3h.01M208.5 362.7h.01M182.4 79.2h.01M171.6 121.9h.01M228.1 72.0h.01M224.6 361.8h.01M197.2 371.7h.01M174.7 110.3h.01M138.5 128.2h.01M193.4 364.4h.01M230.3 88.9h.01M212.9 89.9h.01M208.5 371.1h.01M210.4 352.7h.01M168.2 79.9h.01M152.5 413.9h.01M194.6 413.7h.01M208.6 125.1h.01M218.8 107.2h.01M126.2 157.1h.01M209.3 359.4h.01M153.5 433.8h.01M207.1 90.7h.01M248.5 102.2h.01M204.3 110.5h.01M195.2 399.0h.01M188.9 380.5h.01M215.1 102.0h.01" stroke="#0072BD" stroke-width="4.0" stroke-linecap="round" fill="none"/>
<path d="M185.6 111.4h.01M261.5 96.3h.01M188.8 383.6h.01M168.1 382.6h.01M224.7 379.7h.01M247.1 112.0h.01M275.8 350.0h.01M265.3 356.4h.01M188.2 404.3h.01M195.1 100.3h.01M244.4 356.0h.01M175.6 404.8h.01M223.2 117.0h.01M178.8 127.0h.01M171.1 81.8h.01M211.2 80.0h.01M196.9 393.7h.01M251.9 112.9h.01M243.0 369.6h.01M161.0 412.7h.01M193.9 396.3h.01M161.2 110.6h.01M126.1 175.5h.01M151.7 446.3h.01M237.0 342.8h.01M160.8 411.8h.01M127.5 128.4h.01M122.0 149.5h.01M235.1 335.2h.01M178.8 404.4h.01M183.6 124.9h.01M160.1 404.6h.01M259.0 357.6h.01M172.5 411.9h.01M110.9 161.9h.01M213.7 376.0h.01M264.6 351.5h.01M186.8 126.3h.01M163.0 404.2h.01M316.6 91.5h.01M184.0 115.6h.01M209.6 361.6h.01M163.3 387.2h.01M267.8 351.6h.01M174.1 388.4h.01M236.2 384.1h.01M207.7 385.3h.01M245.3 375.6h.01M181.8 429.0h.01M172.5 403.4h.01M157.2 454.7h.01M177.6 378.4h.01M132.0 126.8h.01M258.5 346.1h.01M131.2 178.9h.01M233.5 382.9h.01M145.1 109.7h.01M205.0 393.3h.01" stroke="#EDB120" stroke-width="4.0" stroke-linecap="round" fill="none"/>
<path d="M166.2 127.8h.01M160.8 429.0h.01M163.1 442.9h.01M177.0 386.7h.01M152.8 451.9h.01M225.4 110.7h.01M163.3 438.6h.01M213.8 393.3h.01M151.4 120.0h.01M196.5 369.9h.01M254.8 350.5h.01M265.9 365.9h.01M246.2 374.3h.01M250.2 363.9h.01M271.9 72.9h.01M158.9 435.7h.01M274.7 102.7h.01M228.0 96.7h.01M270.5 79.6h.01M200.1 373.4h.01M179.4 111.5h.01M194.6 392.4h.01M253.5 329.2h.01M153.4 141.5h.01M123.6 175.6h.01M279.3 99.7h.01M155.7 436.4h.01M241.4 93.5h.01M237.9 95.9h.01M157.3 94.7h.01M218.1 375.3h.01M149.3 450.7h.01M167.9 426.1h.01M278.6 103.9h.01M190.3 373.4h.01M154.8 143.0h.01M193.7 121.1h.01M148.4 127.9h.01M216.2 363.4h.01M261.5 91.4h.01M203.5 366.7h.01M214.2 390.7h.01M125.9 151.8h.01M207.5 115.4h.01M190.2 84.8h.01M203.1 85.7h.01M277.2 89.6h.01M153.5 139.8h.01M130.4 166.0h.01M204.3 350.5h.01M223.6 122.0h.01M234.3 96.0h.01" stroke="#D95319" stroke-width="4.0" stroke-linecap="round" fill="none"/>
<path d="M193.8 370.4h.01M139.9 133.3h.01M162.2 424.3h.01M136.3 166.6h.01M140.6 162.4h.01M152.4 123.9h.01M182.7 114.6h.01M196.9 401.9h.01M189.2 82.5h.01M226.9 83.9h.01M164.2 104.5h.01M136.2 158.8h.01M120.6 186.1h.01M204.1 357.7h.01M255.1 77.2h.01M154.4 413.3h.01M226.4 83.8h.01M127.6 158.1h.01M193.9 362.7h.01M179.5 122.7h.01M190.5 362.3h.01M139.2 163.8h.01M207.4 80.5h.01M265.2 96.2h.01M193.3 78.6h.01M225.2 376.3h.01M201.1 85.9h.01M151.1 97.9h.01M204.9 97.5h.01M253.8 103.5h.01M172.0 75.6h.01M184.3 377.3h.01M222.4 340.0h.01M162.0 121.5h.01M181.3 83.8h.01M221.1 98.1h.01M198.0 78.4h.01M154.4 134.4h.01M180.7 91.8h.01M210.1 353.7h.01M217.3 92.8h.01M211.2 352.8h.01M218.1 91.0h.01M195.0 92.6h.01M193.6 354.4h.01M188.8 404.6h.01M233.0 79.3h.01M203.4 388.7h.01M212.2 100.3h.01M235.5 94.6h.01M174.4 401.4h.01M194.7 374.5h.01M139.0 129.2h.01M188.1 106.1h.01M254.0 95.6h.01M236.9 94.4h.01M126.9 158.7h.01M192.2 399.4h.01M221.7 87.2h.01M263.4 95.2h.01M220.7 387.6h.01M241.6 368.6h.01M127.0 161.3h.01M229.4 81.2h.01M154.9 110.2h.01M208.0 105.3h.01M200.9 79.4h.01M191.8 383.5h.01M164.8 131.2h.01M179.2 394.4h.01M204.8 344.1h.01M186.8 77.0h.01M191.9 402.3h.01M175.0 84.2h.01M228.6 77.0h.01M251.5 377.5h.01M192.5 405.3h.01M151.1 429.9h.01" stroke="#0072BD" stroke-width="4.0" stroke-linecap="round" fill="none"/>
<path d="M157.1 411.3h.01M232.9 383.4h.01M206.4 383.3h.01M164.1 127.9h.01M122.7 143.0h.01M209.9 121.7h.01M141.6 135.2h.01M256.1 353.5h.01M124.5 183.4h.01M154.1 142.7h.01M167.2 126.6h.01M191.7 128.8h.01M231.9 356.8h.01M129.7 126.2h.01M270.2 352.8h.01M177.7 382.8h.01M238.2 360.1h.01M212.7 123.9h.01M185.2 112.2h.01M164.4 397.1h.01M246.4 110.5h.01M177.9 402.8h.01M249.5 367.9h.01M229.7 339.5h.01M264.0 113.2h.01M209.2 121.4h.01M252.0 327.7h.01M157.5 109.3h.01M173.7 93.3h.01M200.5 120.4h.01M157.8 109.2h.01M126.0 186.2h.01M218.4 115.6h.01M192.1 385.9h.01M255.2 106.6h.01M255.8 363.7h.01M258.6 361.0h.01M168.7 128.4h.01M167.8 403.5h.01M189.0 110.4h.01M169.7 131.7h.01M262.8 101.6h.01M159.9 400.1h.01M188.7 387.3h.01M179.3 131.0h.01M290.9 341.4h.01M123.3 149.1h.01M181.2 410.0h.01M225.9 117.2h.01M160.0 434.9h.01M166.6 402.8h.01M180.5 102.6h.01M273.1 351.9h.01M259.9 351.9h.01" stroke="#EDB120" stroke-width="4.0" stroke-linecap="round" fill="none"/>
<path d="M290.8 346.7h.01M150.0 426.2h.01M155.8 131.3h.01M187.8 128.8h.01M168.3 423.1h.01M266.5 89.4h.01M274.9 83.6h.01M267.5 366.4h.01M198.6 374.0h.01M134.3 141.0h.01M178.0 393.1h.01M132.1 169.0h.01M229.9 107.3h.01M154.0 146.4h.01M219.8 372.7h.01M164.3 421.2h.01M284.8 99.6h.01M263.0 105.8h.01M113.7 157.8h.01M268.6 99.0h.01M182.9 85.7h.01M276.4 105.2h.01M209.9 93.7h.01M190.5 395.0h.01M121.0 137.7h.01M157.2 109.8h.01M188.0 373.3h.01M212.8 391.6h.01M153.3 141.6h.01M166.2 86.2h.01M263.7 99.8h.01M156.5 142.3h.01M190.7 105.0h.01M314.4 88.8h.01M237.6 104.6h.01M235.5 349.5h.01M168.4 413.4h.01M164.3 428.2h.01M127.3 126.1h.01M196.5 361.4h.01M276.7 103.2h.01M170.1 429.0h.01M123.4 134.1h.01M234.6 92.4h.01M151.1 419.8h.01M250.1 378.2h.01M236.4 91.6h.01M134.1 173.4h.01M127.8 148.6h.01M154.9 123.8h.01M156.2 436.8h.01M254.2 66.9h.01M239.6 105.6h.01M165.2 411.2h.01" stroke="#D95319" stroke-width="4.0" stroke-linecap="round" fill="none"/>
<path d="M172.2 109.4h.01M147.2 125.1h.01M194.7 380.7h.01M200.3 80.7h.01M186.3 414.1h.01M228.0 342.7h.01M148.0 140.3h.01M135.2 158.7h.01M199.2 89.4h.01M241.1 96.9h.01M137.6 149.5h.01M206.9 350.6h.01M226.0 338.8h.01M225.1 351.0h.01M225.0 82.9h.01M166.2 108.3h.01M155.1 89.6h.01M145.8 139.9h.01M218.7 116.1h.01M193.2 363.1h.01M184.7 92.1h.01M195.1 107.1h.01M208.1 92.8h.01M164.2 439.1h.01M175.9 129.8h.01M159.1 438.1h.01M174.2 89.9h.01M210.8 345.1h.01M208.0 105.1h.01M240.9 116.4h.01M208.8 347.5h.01M257.3 93.4h.01M152.0 106.4h.01M178.3 113.1h.01M125.2 183.5h.01M198.2 102.5h.01M146.8 104.1h.01M155.2 117.5h.01M210.5 82.2h.01M200.0 105.0h.01M138.1 149.0h.01M140.0 164.6h.01M245.1 358.6h.01M180.0 414.9h.01M163.9 90.0h.01M246.1 90.6h.01M160.4 91.0h.01M170.9 121.8h.01M166.1 432.3h.01M213.8 82.8h.01M212.8 98.5h.01M248.2 100.2h.01M179.7 79.2h.01M174.9 117.2h.01M217.4 354.1h.01M220.5 343.6h.01M240.9 98.4h.01M135.7 159.7h.01M221.8 346.2h.01M186.3 103.6h.01M187.5 78.6h.01M246.7 90.8h.01M171.8 119.6h.01M138.6 167.5h.01M216.6 81.0h.01M144.3 112.8h.01M218.8 343.4h.01M187.2 77.4h.01M248.2 372.9h.01M120.0 174.0h.01M169.3 108.3h.01M238.2 87.4h.01M165.2 430.6h.01M221.8 368.8h.01M160.6 114.6h.01M128.6 159.8h.01M185.1 110.4h.01M230.6 92.2h.01M145.3 131.2h.01M186.1 89.4h.01" stroke="#0072BD" stroke-width="4.0" stroke-linecap="round" fill="none"/>
<path d="M234.8 386.4h.01M117.2 163.9h.01M230.6 119.0h.01M161.9 412.4h.01M157.7 129.6h.01M256.2 378.2h.01M207.9 364.0h.01M130.3 127.8h.01M221.6 385.6h.01M161.6 448.5h.01M266.4 339.1h.01M209.4 84.9h.01M252.6 366.5h.01M242.4 382.9h.01M168.5 415.3h.01M182.5 130.9h.01M253.2 369.4h.01M214.6 369.7h.01M261.3 79.5h.01M183.1 384.1h.01M231.8 112.6h.01M158.9 415.7h.01M234.7 106.4h.01M148.9 102.2h.01M193.8 104.9h.01M219.9 125.0h.01M157.1 404.0h.01M257.1 333.2h.01M208.4 114.0h.01M129.8 139.2h.01M202.9 374.5h.01M125.6 169.8h.01M122.4 172.9h.01M260.4 356.1h.01M165.7 392.4h.01M167.9 126.3h.01M250.1 342.3h.01M290.7 77.8h.01M163.4 410.3h.01M188.8 391.8h.01M244.7 351.4h.01M223.4 109.0h.01M167.1 130.1h.01M152.5 104.5h.01M173.1 405.4h.01M271.3 358.6h.01M158.4 394.3h.01M125.1 171.3h.01M228.5 348.8h.01M141.6 110.8h.01M206.9 393.6h.01M156.7 428.9h.01M254.2 360.7h.01M203.7 110.3h.01M278.6 84.5h.01M187.4 89.2h.01M221.7 376.3h.01M255.9 106.6h.01M224.8 116.7h.01M173.8 375.8h.01" stroke="#EDB120" stroke-width="4.0" stroke-linecap="round" fill="none"/>
<path d="M158.4 438.2h.01M187.3 393.1h.01M200.1 96.1h.01M244.3 349.7h.01M212.8 362.4h.01M157.1 112.6h.01M222.0 385.3h.01M300.2 74.3h.01M191.8 391.8h.01M247.3 375.4h.01M247.2 365.7h.01M166.3 88.9h.01M239.4 348.1h.01M257.9 369.7h.01M156.9 120.6h.01M183.6 122.3h.01M235.6 84.8h.01M267.4 373.3h.01M133.7 173.6h.01M170.8 411.4h.01M199.2 100.0h.01M198.0 359.5h.01M238.7 342.8h.01M158.3 99.4h.01M262.1 87.0h.01M251.0 355.5h.01M312.5 87.2h.01M210.8 79.5h.01M193.3 129.8h.01M302.9 89.0h.01M195.7 405.7h.01M210.7 394.8h.01M201.9 113.7h.01M180.9 393.4h.01M343.2 363.6h.01M195.9 397.4h.01M168.0 385.2h.01M190.6 128.5h.01M216.2 118.3h.01M192.7 106.3h.01M224.0 83.5h.01M160.5 110.4h.01M242.7 345.9h.01M190.4 105.7h.01M268.5 368.6h.01M233.7 59.1h.01M221.2 369.5h.01M168.4 82.1h.01M181.9 126.1h.01M242.8 377.4h.01M250.8 369.8h.01M198.2 110.4h.01M191.4 103.5h.01" stroke="#D95319" stroke-width="4.0" stroke-linecap="round" fill="none"/>
<path d="M165.0 133.9h.01M149.8 136.2h.01M192.8 412.4h.01M218.7 111.6h.01M169.4 79.3h.01M227.5 99.9h.01M204.4 103.1h.01M162.7 99.4h.01M240.2 115.9h.01M172.6 83.9h.01M159.5 412.0h.01M227.7 100.7h.01M176.2 82.2h.01M259.6 95.7h.01M191.4 101.4h.01M142.8 113.2h.01M178.8 386.2h.01M210.1 100.4h.01M209.9 100.6h.01M154.0 89.2h.01M150.8 418.7h.01M214.2 384.5h.01M151.7 411.3h.01M148.3 127.0h.01M140.5 135.9h.01M191.8 85.8h.01M135.2 121.9h.01M156.9 118.8h.01M127.9 172.3h.01M211.4 86.9h.01M179.1 392.6h.01M147.8 110.2h.01M210.2 353.6h.01M184.1 370.8h.01M264.1 87.5h.01M168.3 110.1h.01M188.0 106.8h.01M168.3 100.0h.01M191.0 80.3h.01M231.8 85.7h.01M199.2 361.8h.01M129.3 150.7h.01M237.7 79.7h.01M189.2 109.8h.01M217.7 97.5h.01M218.2 100.0h.01M172.9 81.3h.01M244.8 98.2h.01M135.0 161.6h.01M204.0 80.2h.01M134.9 166.5h.01M226.4 374.9h.01M239.8 372.3h.01M132.6 172.3h.01M217.2 97.1h.01M197.4 403.1h.01M223.5 78.6h.01M211.4 360.8h.01M217.4 357.3h.01M139.6 157.7h.01M165.3 423.1h.01M211.1 90.0h.01M152.7 142.4h.01M194.0 112.3h.01M159.2 439.9h.01M146.0 124.4h.01M184.1 403.6h.01M199.4 104.3h.01M168.4 417.0h.01M182.7 100.6h.01M156.8 93.6h.01M192.7 396.2h.01M201.5 98.0h.01M148.8 99.9h.01M253.8 103.7h.01" stroke="#0072BD" stroke-width="4.0" stroke-linecap="round" fill="none"/>
<path d="M229.2 86.9h.01M181.9 404.0h.01M154.3 444.5h.01M122.0 144.8h.01M185.2 108.2h.01M179.7 383.2h.01M142.3 136.6h.01M228.3 105.7h.01M311.6 77.8h.01M226.3 59.8h.01M250.7 89.0h.01M157.3 131.1h.01M257.3 371.2h.01M201.3 390.9h.01M166.5 395.8h.01M152.7 133.1h.01M234.1 111.7h.01M187.5 391.1h.01M228.4 60.7h.01M167.6 403.1h.01M114.5 167.7h.01M189.3 378.0h.01M268.9 100.6h.01M188.7 387.7h.01M245.3 115.7h.01M114.9 187.7h.01M272.0 338.0h.01M196.0 392.7h.01M150.5 448.8h.01M267.7 346.5h.01M147.0 145.0h.01M249.5 365.4h.01M229.5 116.3h.01M276.3 366.6h.01M221.8 108.4h.01M159.4 460.6h.01M176.4 406.4h.01M221.4 93.4h.01M263.9 342.1h.01M165.2 133.7h.01M169.0 395.4h.01M269.8 106.1h.01M159.2 137.7h.01M261.4 359.5h.01M280.5 93.1h.01M230.5 346.8h.01M151.1 431.7h.01" stroke="#EDB120" stroke-width="4.0" stroke-linecap="round" fill="none"/>
<path d="M186.5 98.1h.01M235.2 380.4h.01M277.3 352.7h.01M253.4 88.2h.01M275.5 98.9h.01M242.1 106.1h.01M126.3 124.6h.01M272.8 338.2h.01M202.8 80.1h.01M212.4 67.1h.01M130.4 145.0h.01M194.4 391.1h.01M205.6 377.7h.01M183.7 381.7h.01M280.7 95.7h.01M150.9 95.3h.01M269.0 90.6h.01M172.4 384.7h.01M203.2 103.5h.01M118.8 164.7h.01M237.9 371.6h.01M186.5 392.0h.01M117.3 148.4h.01M251.6 344.9h.01M166.5 88.5h.01M267.9 373.5h.01M271.1 94.6h.01M249.8 357.2h.01M222.8 387.1h.01M128.9 149.9h.01M148.9 448.9h.01M175.6 98.5h.01M121.0 142.6h.01M171.8 415.9h.01M261.9 95.1h.01M172.2 131.4h.01M249.2 377.0h.01M187.9 367.5h.01M156.8 140.4h.01M277.2 90.0h.01M272.3 340.7h.01M158.6 424.0h.01M156.8 134.5h.01M160.8 110.7h.01M264.4 89.7h.01M235.4 113.7h.01M235.4 85.2h.01M177.9 389.3h.01M259.1 90.0h.01M277.4 347.9h.01M188.3 366.1h.01M264.6 97.9h.01M161.5 429.8h.01M242.3 84.8h.01" stroke="#D95319" stroke-width="4.0" stroke-linecap="round" fill="none"/>
<path d="M242.2 115.6h.01M237.4 339.9h.01M248.1 90.3h.01M213.5 358.5h.01M221.6 80.7h.01M198.5 380.3h.01M245.3 94.4h.01M169.2 79.0h.01M195.0 369.9h.01M167.1 121.3h.01M199.8 93.6h.01M209.3 77.2h.01M257.3 90.4h.01M163.1 93.1h.01M197.5 101.1h.01M191.2 365.6h.01M208.8 114.2h.01M141.6 149.0h.01M205.0 375.1h.01M217.0 97.8h.01M161.0 93.8h.01M151.9 116.3h.01M192.1 111.3h.01M154.9 406.3h.01M231.7 340.6h.01M232.7 89.3h.01M157.1 410.7h.01M193.1 398.6h.01M172.6 85.2h.01M203.4 100.1h.01M208.7 346.7h.01M179.6 115.6h.01M145.0 115.6h.01M192.7 79.0h.01M231.8 385.8h.01M148.9 116.9h.01M144.1 149.6h.01M193.0 372.9h.01M142.1 142.5h.01M184.6 115.9h.01M174.2 130.4h.01M210.3 359.5h.01M131.4 143.2h.01M197.1 389.7h.01M209.4 346.2h.01M180.8 116.2h.01M159.8 95.9h.01M179.7 386.1h.01M230.3 357.7h.01M152.0 125.5h.01M224.0 339.7h.01M208.7 107.4h.01M198.3 78.8h.01M197.0 361.3h.01M245.0 99.8h.01M191.3 371.3h.01M232.1 98.7h.01M129.3 144.4h.01M200.2 385.0h.01M181.6 81.7h.01M135.2 159.9h.01M224.9 90.1h.01M213.2 112.0h.01M211.7 358.4h.01M223.6 363.7h.01M170.4 381.9h.01M242.6 81.1h.01M166.0 419.0h.01M214.2 109.7h.01M172.1 381.4h.01M155.3 412.1h.01M201.6 380.3h.01M225.2 336.8h.01M214.1 122.8h.01M207.5 368.5h.01M134.5 127.4h.01M232.8 366.7h.01M230.1 85.9h.01M231.0 361.0h.01M218.7 374.5h.01M118.2 152.8h.01M168.0 98.7h.01M149.2 146.6h.01M235.2 83.2h.01M202.5 81.6h.01M192.7 79.4h.01M191.1 116.7h.01" stroke="#0072BD" stroke-width="4.0" stroke-linecap="round" fill="none"/>
<path d="M196.2 392.8h.01M114.1 168.9h.01M226.7 113.9h.01M197.9 112.5h.01M272.4 367.4h.01M256.1 73.4h.01M119.2 160.8h.01M259.3 103.1h.01M220.7 373.0h.01M169.9 410.3h.01M149.4 446.1h.01M152.7 444.0h.01M115.0 163.0h.01M234.5 117.5h.01M181.2 388.9h.01M213.3 126.7h.01M226.1 385.6h.01M171.0 398.2h.01M223.9 384.7h.01M136.3 119.1h.01M159.3 398.9h.01M219.3 389.2h.01M257.4 353.7h.01M214.3 390.2h.01M263.5 354.3h.01M155.0 408.0h.01M170.2 405.7h.01M228.1 358.7h.01M268.6 372.2h.01M156.5 131.7h.01M215.4 405.0h.01M175.2 123.2h.01M235.0 353.2h.01M157.3 93.3h.01M257.2 67.7h.01M230.7 383.3h.01M179.4 382.1h.01M148.6 107.5h.01M156.5 405.3h.01M182.0 400.0h.01M202.7 384.1h.01M275.6 357.6h.01M148.5 115.5h.01M151.3 89.9h.01M165.9 405.3h.01M234.1 343.1h.01M226.1 382.5h.01M233.7 377.4h.01" stroke="#EDB120" stroke-width="4.0" stroke-linecap="round" fill="none"/>
<path d="M270.0 106.0h.01M185.9 386.1h.01M271.1 104.0h.01M124.9 124.3h.01M210.6 364.7h.01M163.3 416.0h.01M154.9 115.3h.01M252.6 366.4h.01M200.6 355.3h.01M148.7 128.7h.01M211.9 371.1h.01M271.6 366.3h.01M227.7 384.8h.01M289.1 346.5h.01M209.1 395.5h.01M211.3 104.4h.01M205.8 355.1h.01M170.8 418.6h.01M160.9 402.4h.01M257.1 373.9h.01M179.4 395.8h.01M152.7 151.2h.01M158.4 116.8h.01M177.9 125.8h.01M113.0 174.1h.01M181.5 386.8h.01M239.3 108.3h.01M158.1 123.4h.01M134.9 133.0h.01M257.5 347.9h.01M260.3 363.9h.01M272.6 362.6h.01M254.1 86.8h.01M265.7 371.2h.01M241.7 371.1h.01M155.1 456.7h.01M212.5 94.0h.01M186.4 376.1h.01M270.6 92.1h.01M206.0 122.0h.01M154.2 442.0h.01M207.1 393.8h.01M180.6 376.3h.01M207.1 389.7h.01M246.0 348.1h.01M263.2 361.5h.01M158.9 447.8h.01M247.5 100.2h.01M266.5 357.3h.01M203.3 397.8h.01M354.3 101.5h.01M254.7 86.7h.01M213.1 78.8h.01" stroke="#D95319" stroke-width="4.0" stroke-linecap="round" fill="none"/>
<path d="M195.8 386.1h.01M207.7 105.6h.01M138.8 141.8h.01M145.9 129.1h.01M141.8 161.0h.01M171.3 88.9h.01M149.9 105.6h.01M256.7 97.0h.01M223.2 352.7h.01M196.6 399.9h.01M124.5 163.8h.01M198.3 380.2h.01M151.9 115.8h.01M243.0 369.1h.01M156.1 115.7h.01M170.7 110.5h.01M125.8 129.5h.01M128.7 134.4h.01M216.8 358.1h.01M218.2 121.6h.01M220.5 109.0h.01M220.3 355.6h.01M231.2 341.4h.01M159.5 136.1h.01M249.8 95.4h.01M143.6 124.1h.01M161.7 91.3h.01M191.3 382.4h.01M233.4 375.8h.01M170.5 101.5h.01M213.5 83.6h.01M229.3 373.9h.01M152.5 135.8h.01M209.9 127.6h.01M223.0 358.5h.01M167.3 90.0h.01M236.1 357.2h.01M171.8 120.0h.01M223.2 79.0h.01M203.5 372.2h.01M158.4 98.1h.01M210.5 371.9h.01M200.8 366.1h.01M194.6 107.8h.01M235.2 88.7h.01M189.5 404.9h.01M162.1 91.0h.01M236.7 92.3h.01M132.7 160.3h.01M202.5 86.8h.01M169.1 96.5h.01M135.5 165.1h.01M246.7 376.7h.01M226.1 99.6h.01M233.6 382.8h.01M161.8 119.2h.01M189.2 118.0h.01M234.6 99.0h.01M187.7 410.4h.01M203.6 96.6h.01M207.7 107.0h.01M253.5 95.2h.01M244.7 362.2h.01M165.6 134.1h.01M213.3 353.1h.01M227.3 80.9h.01M139.3 123.5h.01M195.5 383.5h.01M223.0 78.7h.01M265.3 92.5h.01M136.0 129.1h.01M228.7 363.4h.01M164.6 94.3h.01M228.7 91.4h.01M131.6 153.4h.01M142.1 146.8h.01M238.6 374.0h.01M225.7 342.5h.01M143.0 136.4h.01M252.1 96.3h.01M201.2 94.2h.01M175.2 82.7h.01M195.7 376.3h.01M192.6 83.2h.01M216.0 368.5h.01M124.8 155.2h.01M172.9 111.9h.01" stroke="#0072BD" stroke-width="4.0" stroke-linecap="round" fill="none"/>
<path d="M185.4 363.7h.01M273.1 361.8h.01M169.8 394.1h.01M276.5 359.5h.01M167.1 109.8h.01M260.2 83.2h.01M219.9 378.4h.01M112.7 146.4h.01M167.0 435.7h.01M230.8 354.2h.01M137.0 136.2h.01M224.1 122.1h.01M303.8 75.8h.01M184.8 103.1h.01M197.8 396.0h.01M135.7 127.7h.01M208.2 381.1h.01M203.5 391.0h.01M160.5 132.0h.01M232.3 117.2h.01M166.9 404.0h.01M266.4 344.8h.01M257.6 362.4h.01M257.8 361.4h.01M120.1 183.1h.01M150.1 102.7h.01M285.2 101.7h.01M158.7 398.8h.01M138.4 122.1h.01M249.2 366.0h.01M235.1 335.5h.01M111.4 170.2h.01M250.8 116.3h.01M171.2 82.0h.01M171.1 390.7h.01M160.6 402.7h.01M222.9 118.1h.01M263.4 348.1h.01M226.9 111.4h.01M294.1 95.5h.01M179.6 115.0h.01M244.1 117.1h.01M229.2 378.7h.01M187.1 402.7h.01M125.7 179.4h.01M256.0 91.2h.01M210.7 382.5h.01M117.3 148.4h.01M172.5 415.0h.01M153.1 110.1h.01M258.4 368.5h.01" stroke="#EDB120" stroke-width="4.0" stroke-linecap="round" fill="none"/>
<path d="M257.7 375.0h.01M228.6 117.4h.01M215.3 100.3h.01M175.9 393.8h.01M231.1 94.9h.01M204.3 365.7h.01M274.2 108.1h.01M142.5 125.6h.01M273.9 351.1h.01M173.8 129.2h.01M146.6 134.3h.01M220.7 370.3h.01M283.2 99.1h.01M246.1 103.8h.01M244.8 377.0h.01M169.1 96.8h.01M162.7 448.6h.01M181.5 392.6h.01M187.0 139.0h.01M127.4 134.0h.01M201.0 99.1h.01M152.6 456.1h.01M263.2 365.7h.01M242.0 104.4h.01M161.0 443.8h.01M169.0 419.4h.01M166.3 394.0h.01M238.4 76.9h.01M161.3 448.3h.01M165.3 120.4h.01M115.8 154.4h.01M150.2 139.3h.01M201.0 373.1h.01M125.2 127.2h.01M195.8 113.4h.01M242.2 81.7h.01M138.9 143.4h.01M207.4 394.4h.01M242.4 115.8h.01M183.2 396.8h.01M156.0 96.7h.01M164.7 119.5h.01M196.6 121.4h.01M201.3 365.0h.01M182.1 394.9h.01M206.6 365.7h.01M133.1 154.7h.01M244.1 351.6h.01M158.6 135.1h.01" stroke="#D95319" stroke-width="4.0" stroke-linecap="round" fill="none"/>
<path d="M308.2 98.5h.01M220.8 112.8h.01M202.3 371.5h.01M230.4 360.4h.01M261.5 88.9h.01M163.6 411.9h.01M134.1 160.3h.01M206.4 102.7h.01M215.7 351.0h.01M187.8 118.8h.01M172.5 108.6h.01M172.2 383.7h.01M210.0 98.7h.01M238.4 90.4h.01M169.3 86.2h.01M186.9 86.8h.01M232.2 87.2h.01M221.9 95.8h.01M180.5 103.2h.01M163.0 415.7h.01M183.1 377.1h.01M189.3 85.5h.01M120.2 158.1h.01M169.0 97.1h.01M194.2 373.4h.01M206.3 91.4h.01M215.8 94.7h.01M214.3 355.7h.01M228.4 373.9h.01M197.5 73.5h.01M203.8 104.2h.01M196.5 385.7h.01M246.0 101.6h.01M140.4 115.0h.01M199.5 109.7h.01M230.0 340.8h.01M148.3 147.9h.01M195.2 115.6h.01M230.4 351.4h.01M216.3 111.8h.01M190.2 408.9h.01M214.3 353.7h.01M234.7 368.9h.01M155.4 131.1h.01M178.2 94.4h.01M204.4 381.4h.01M124.1 159.1h.01M208.2 356.7h.01M200.7 388.5h.01M125.6 157.6h.01M167.1 423.6h.01M132.0 145.7h.01M193.3 361.4h.01M189.2 80.2h.01M133.5 154.2h.01M164.0 115.6h.01M150.4 105.3h.01M256.7 102.4h.01M225.7 101.0h.01M158.6 92.9h.01M222.2 85.6h.01M160.8 423.8h.01M198.8 92.9h.01M190.0 141.0h.01M223.5 87.2h.01M216.4 87.4h.01M155.6 114.7h.01M224.0 81.2h.01M192.6 86.4h.01M179.7 407.6h.01M254.0 87.6h.01M200.8 382.6h.01M130.9 165.7h.01M149.8 87.7h.01M240.9 361.1h.01M220.8 82.4h.01M174.2 416.1h.01M204.3 381.5h.01M209.7 346.7h.01M153.7 122.5h.01M248.2 84.0h.01M166.6 102.5h.01M209.1 80.1h.01M170.0 95.5h.01M204.5 110.3h.01M155.2 113.0h.01M277.4 89.2h.01M177.3 377.3h.01" stroke="#0072BD" stroke-width="4.0" stroke-linecap="round" fill="none"/>
<path d="M240.0 116.4h.01M253.9 99.0h.01M122.5 182.3h.01M211.9 125.1h.01M164.1 119.3h.01M241.9 346.7h.01M177.8 99.4h.01M200.7 374.1h.01M257.1 371.3h.01M157.0 92.0h.01M126.7 134.5h.01M233.4 100.0h.01M126.6 139.5h.01M199.3 128.9h.01M262.0 349.2h.01M178.1 402.0h.01M174.2 387.0h.01M118.3 188.7h.01M219.2 119.9h.01M272.9 109.0h.01M252.2 375.9h.01M243.7 73.8h.01M154.5 396.4h.01M275.1 361.1h.01M259.9 351.3h.01M176.9 97.2h.01M131.3 178.7h.01M275.7 106.8h.01M233.8 113.8h.01M196.6 350.3h.01M172.1 401.2h.01M152.1 110.5h.01M259.2 353.5h.01M260.6 355.6h.01M159.3 126.8h.01M237.7 372.4h.01M189.6 77.4h.01M237.3 362.7h.01M140.0 137.2h.01M239.7 376.8h.01M213.3 369.3h.01M173.2 426.1h.01M165.7 385.4h.01M113.2 149.0h.01M204.2 395.3h.01M257.9 362.8h.01M239.5 116.5h.01M231.9 116.1h.01M183.2 389.7h.01M171.2 87.7h.01M218.3 368.9h.01" stroke="#EDB120" stroke-width="4.0" stroke-linecap="round" fill="none"/>
<path d="M119.9 172.7h.01M165.9 90.1h.01M238.0 371.0h.01M208.5 83.4h.01M153.4 437.8h.01M162.4 81.8h.01M190.6 398.7h.01M203.0 354.8h.01M188.8 92.5h.01M149.1 99.8h.01M268.9 363.7h.01M315.0 75.3h.01M157.8 119.3h.01M219.4 390.5h.01M162.3 135.1h.01M201.4 106.7h.01M121.7 171.1h.01M281.7 102.3h.01M276.6 366.7h.01M148.4 136.8h.01M141.5 141.0h.01M253.8 377.0h.01M148.9 95.3h.01M196.5 108.0h.01M260.9 96.5h.01M195.3 362.8h.01M148.3 134.8h.01M124.6 152.7h.01M160.4 110.1h.01M258.6 90.1h.01M243.0 359.0h.01M131.5 127.0h.01M154.8 439.8h.01M162.9 429.7h.01M236.9 347.2h.01M172.8 124.1h.01M190.5 391.5h.01M224.3 362.4h.01M159.0 136.6h.01M281.5 95.4h.01M247.6 379.7h.01M221.7 362.3h.01M255.5 377.8h.01M128.5 137.1h.01M270.3 374.3h.01M245.4 94.8h.01M247.8 347.9h.01M165.5 436.6h.01M200.0 378.5h.01M121.0 158.3h.01M235.2 102.6h.01M307.3 86.5h.01M308.3 80.7h.01M227.8 370.6h.01" stroke="#D95319" stroke-width="4.0" stroke-linecap="round" fill="none"/>
<path d="M140.4 126.1h.01M162.7 94.6h.01M135.2 164.6h.01M196.4 98.5h.01M184.6 380.2h.01M169.8 415.9h.01M231.6 365.2h.01M166.1 117.5h.01M181.9 116.1h.01M216.2 351.6h.01M173.3 98.0h.01M209.0 83.9h.01M174.0 117.5h.01M167.0 95.6h.01M237.3 366.7h.01M165.0 416.7h.01M201.5 81.9h.01M166.4 427.5h.01M143.2 118.6h.01M116.2 171.4h.01M198.2 96.6h.01M224.2 83.4h.01M126.2 174.8h.01M227.2 358.2h.01M201.9 383.5h.01M219.6 95.5h.01M145.3 134.4h.01M253.2 101.3h.01M196.3 68.1h.01M226.2 104.3h.01M258.1 361.2h.01M222.5 371.8h.01M195.9 375.2h.01M184.7 111.3h.01M249.0 381.5h.01M130.3 158.7h.01M142.2 135.1h.01M221.6 352.5h.01M235.1 349.4h.01M218.4 77.4h.01M221.4 84.8h.01M246.4 86.1h.01M143.0 115.1h.01M159.8 427.5h.01M208.8 120.1h.01M228.4 89.5h.01M190.7 404.9h.01M185.0 121.7h.01M124.5 145.9h.01M229.7 102.1h.01M137.4 117.6h.01M169.6 91.0h.01M201.5 92.6h.01M222.0 371.3h.01M224.5 102.7h.01M124.1 168.2h.01M155.0 435.7h.01M154.5 431.6h.01M243.5 92.5h.01M234.8 334.9h.01M247.4 110.6h.01M196.9 363.2h.01M165.9 114.7h.01M192.1 106.8h.01M215.6 84.4h.01M205.0 114.7h.01M249.7 97.6h.01M171.4 88.8h.01M205.5 108.7h.01M202.6 345.0h.01M275.9 105.4h.01M135.3 124.0h.01M265.3 96.5h.01M202.8 98.7h.01M207.6 98.7h.01M187.7 91.0h.01M179.8 116.0h.01M142.6 116.4h.01M231.3 362.9h.01M131.0 121.4h.01M143.0 126.2h.01M235.1 115.8h.01M151.4 125.1h.01M214.8 386.3h.01" stroke="#0072BD" stroke-width="4.0" stroke-linecap="round" fill="none"/>
<path d="M244.6 377.8h.01M151.9 442.3h.01M235.2 352.4h.01M260.3 333.2h.01M224.8 120.4h.01M139.2 119.1h.01M249.0 112.6h.01M118.9 191.3h.01M310.6 93.8h.01M161.7 412.1h.01M264.7 336.7h.01M170.8 110.0h.01M160.6 129.6h.01M166.7 399.8h.01M116.9 178.3h.01M200.8 354.6h.01M196.3 121.3h.01M208.3 371.6h.01M120.5 155.4h.01M272.0 364.4h.01M189.5 387.8h.01M140.8 125.6h.01M116.1 149.7h.01M245.5 383.2h.01M113.4 169.0h.01M168.3 384.9h.01M217.2 95.3h.01M205.8 394.3h.01M194.5 385.1h.01M183.2 373.0h.01M231.9 112.5h.01M235.2 335.3h.01M255.0 77.2h.01M235.7 350.6h.01M175.4 397.4h.01M272.9 95.3h.01M208.4 355.4h.01M221.0 122.5h.01M229.2 382.0h.01M111.9 177.8h.01M123.3 171.0h.01M143.2 113.1h.01M233.3 82.6h.01M318.9 78.7h.01M177.2 387.6h.01M250.4 327.5h.01M173.6 105.7h.01M116.9 180.0h.01M126.0 135.2h.01M163.8 402.8h.01M256.1 345.9h.01M227.2 113.2h.01M242.3 366.0h.01M157.8 439.1h.01M124.2 168.4h.01M130.2 179.3h.01" stroke="#EDB120" stroke-width="4.0" stroke-linecap="round" fill="none"/>
<path d="M208.2 91.2h.01M145.8 147.4h.01M129.7 162.1h.01M237.7 105.3h.01M196.2 114.7h.01M260.6 88.8h.01M268.5 369.5h.01M197.3 390.8h.01M195.1 121.8h.01M154.3 447.2h.01M121.1 140.2h.01M120.0 161.8h.01M167.4 114.7h.01M119.6 151.6h.01M125.1 134.9h.01M254.2 372.9h.01M241.6 111.3h.01M270.7 364.0h.01M232.9 379.6h.01M256.2 89.4h.01M195.3 393.7h.01M272.2 360.0h.01M265.3 359.4h.01M255.6 348.1h.01M201.8 99.3h.01M215.2 118.6h.01M152.0 97.0h.01M192.4 359.5h.01M117.1 138.2h.01M226.4 398.5h.01M253.1 113.9h.01M309.8 95.8h.01M231.1 95.2h.01M177.9 94.9h.01M274.7 93.2h.01M251.6 372.3h.01M250.9 348.8h.01M281.5 94.1h.01M266.0 105.6h.01M243.8 82.4h.01M154.2 428.1h.01M208.7 390.8h.01M125.0 130.2h.01M284.2 97.4h.01M224.2 80.4h.01" stroke="#D95319" stroke-width="4.0" stroke-linecap="round" fill="none"/>
<path d="M153.5 414.2h.01M197.3 382.5h.01M250.1 97.8h.01M249.4 110.7h.01M231.8 332.2h.01M132.9 155.8h.01M124.5 156.8h.01M220.2 351.8h.01M165.6 82.3h.01M237.9 337.4h.01M253.7 101.6h.01M197.0 106.3h.01M194.7 81.0h.01M205.0 349.7h.01M259.7 94.3h.01M216.1 78.6h.01M243.4 83.7h.01M214.0 80.7h.01M253.3 93.9h.01M247.4 358.2h.01M147.5 117.0h.01M192.8 417.0h.01M150.9 428.0h.01M195.5 106.1h.01M193.1 76.7h.01M162.2 106.9h.01M144.0 138.8h.01M165.6 107.5h.01M270.4 91.4h.01M239.2 367.5h.01M213.6 350.4h.01M129.4 148.4h.01M236.7 92.7h.01M211.1 358.2h.01M224.4 80.2h.01M167.4 420.7h.01M167.1 416.6h.01M203.7 376.0h.01M218.7 362.2h.01M129.6 155.1h.01M217.8 93.5h.01M246.1 96.5h.01M129.3 143.0h.01M196.6 112.9h.01M196.1 395.6h.01M179.7 411.7h.01M190.8 383.5h.01M224.3 347.5h.01M134.7 122.7h.01M231.1 357.4h.01M178.0 83.9h.01M224.0 366.1h.01M215.1 78.3h.01M213.7 84.4h.01M144.8 122.7h.01M210.5 347.7h.01M181.9 81.2h.01M207.7 349.4h.01M231.8 364.6h.01M130.7 140.6h.01M226.5 88.1h.01M184.7 399.2h.01M227.1 360.3h.01M229.1 361.2h.01M250.1 100.8h.01M216.8 352.0h.01M202.7 383.4h.01M242.3 95.4h.01M155.2 108.6h.01M142.4 131.0h.01M219.6 111.2h.01M144.5 136.5h.01M161.5 97.3h.01M264.3 97.0h.01M202.4 351.6h.01M165.8 116.5h.01M185.2 376.9h.01M243.4 91.0h.01M171.0 97.3h.01M183.9 113.1h.01M139.4 159.5h.01M154.2 118.6h.01M207.1 113.3h.01M225.4 106.4h.01M226.3 75.7h.01M189.7 381.7h.01M215.7 114.5h.01" stroke="#0072BD" stroke-width="4.0" stroke-linecap="round" fill="none"/>
<path d="M260.4 90.9h.01M117.7 187.9h.01M218.2 119.3h.01M192.9 122.9h.01M159.9 408.7h.01M140.3 115.4h.01M115.9 154.6h.01M157.4 413.3h.01M162.4 83.7h.01M140.7 135.8h.01M276.7 337.2h.01M126.9 181.3h.01M167.2 387.1h.01M203.5 94.1h.01M236.8 340.7h.01M152.7 424.0h.01M265.8 89.4h.01M173.5 403.4h.01M233.4 345.9h.01M242.8 348.1h.01M208.9 384.9h.01M235.3 80.3h.01" stroke="#EDB120" stroke-width="4.0" stroke-linecap="round" fill="none"/>
<path d="M145.7 143.2h.01M256.4 374.0h.01M257.1 376.8h.01M154.5 452.5h.01M128.4 150.5h.01M213.0 377.7h.01M162.0 452.3h.01M199.6 119.6h.01M274.6 96.4h.01M205.7 125.2h.01M215.5 387.4h.01M195.6 355.7h.01M268.1 374.3h.01M239.7 325.0h.01M275.1 103.9h.01M186.0 131.3h.01M228.6 371.7h.01M204.7 119.5h.01M258.2 371.5h.01M216.2 126.1h.01M157.0 123.0h.01M191.1 404.8h.01M161.1 130.1h.01M316.9 78.3h.01M169.8 420.3h.01M185.9 89.9h.01M241.6 349.5h.01M233.8 92.6h.01M175.4 122.6h.01M231.9 348.6h.01M152.7 435.5h.01M199.3 102.7h.01" stroke="#D95319" stroke-width="4.0" stroke-linecap="round" fill="none"/>
<path d="M199.5 376.3h.01M154.3 104.5h.01M138.8 152.8h.01M164.9 417.9h.01M184.6 407.5h.01M186.6 368.8h.01M178.9 111.5h.01M196.1 405.5h.01M161.5 432.1h.01M219.3 89.9h.01M234.2 358.8h.01M193.5 96.5h.01M196.5 370.7h.01M187.8 404.2h.01M216.9 61.1h.01M199.1 355.9h.01M234.5 115.6h.01M168.4 128.8h.01M242.6 93.6h.01M169.4 79.7h.01M155.3 434.2h.01M144.9 122.6h.01M189.1 377.9h.01M234.9 363.0h.01M223.7 341.0h.01M164.7 121.6h.01M209.2 108.7h.01M188.2 341.3h.01M198.3 341.6h.01M128.2 105.3h.01M190.9 330.6h.01M153.7 65.1h.01M127.8 111.4h.01M199.9 331.4h.01M195.8 337.9h.01M164.2 356.6h.01M122.6 105.7h.01M182.9 368.0h.01M128.4 85.6h.01M122.8 105.7h.01M191.4 354.4h.01M148.0 81.2h.01M158.5 358.5h.01M162.7 346.4h.01M181.4 365.8h.01M188.5 329.7h.01M175.3 371.6h.01M164.6 366.9h.01M132.9 72.2h.01M213.0 337.0h.01M187.0 321.4h.01M179.4 328.7h.01M190.5 328.9h.01M162.3 362.5h.01M129.1 100.7h.01M161.4 361.7h.01M125.9 98.2h.01M154.4 67.3h.01M129.3 108.4h.01M246.6 97.8h.01M126.5 107.1h.01M192.2 343.8h.01M161.9 60.6h.01M166.6 357.9h.01M149.1 74.2h.01M163.6 363.6h.01M154.7 52.7h.01M149.9 81.3h.01M133.7 67.2h.01M172.5 356.1h.01M149.4 83.6h.01M180.2 348.3h.01M203.0 334.1h.01M205.4 361.7h.01M163.4 81.6h.01M129.6 95.4h.01M164.4 436.1h.01M167.2 374.2h.01M138.5 79.1h.01M146.5 130.5h.01M176.2 356.6h.01M154.3 56.9h.01M200.1 342.8h.01M186.2 329.5h.01M180.7 123.1h.01M160.1 351.6h.01M195.2 344.0h.01M135.1 95.4h.01M191.4 320.0h.01M243.2 365.3h.01M170.5 374.2h.01M143.4 91.2h.01M188.1 343.5h.01M158.9 344.4h.01M159.1 71.0h.01M138.3 125.5h.01M138.2 62.6h.01M201.1 339.5h.01M192.4 318.4h.01M194.2 343.4h.01M157.3 71.5h.01M131.6 71.6h.01M139.8 92.3h.01M130.5 90.4h.01M174.7 347.0h.01M118.6 110.4h.01M131.5 173.3h.01M195.2 334.9h.01M181.7 327.6h.01M214.1 356.6h.01M208.8 104.7h.01M138.6 82.7h.01M171.3 350.1h.01M136.8 93.3h.01M144.4 74.8h.01M148.8 73.7h.01M138.6 70.9h.01M126.2 91.6h.01M169.2 341.0h.01M166.7 339.5h.01M167.1 376.0h.01M195.0 342.2h.01M158.9 81.1h.01M152.2 53.5h.01M193.7 353.2h.01M164.1 72.2h.01M249.7 86.6h.01M167.1 373.9h.01M239.2 100.1h.01M126.4 144.5h.01M196.0 393.1h.01M159.7 109.8h.01M166.0 361.9h.01M174.2 353.4h.01" stroke="#0072BD" stroke-width="4.0" stroke-linecap="round" fill="none"/>
<path d="M243.0 75.9h.01M173.0 124.4h.01M244.6 370.4h.01M229.3 116.4h.01M198.7 382.9h.01M137.2 176.6h.01M231.7 112.2h.01M242.7 353.2h.01M246.9 327.5h.01M201.5 394.7h.01M234.7 380.3h.01M248.2 371.4h.01M195.5 411.8h.01M165.0 388.2h.01M191.1 407.8h.01M167.9 400.7h.01" stroke="#EDB120" stroke-width="4.0" stroke-linecap="round" fill="none"/>
<path d="M168.8 139.3h.01M166.2 136.9h.01M201.8 365.3h.01M148.4 161.0h.01M171.9 103.6h.01M255.9 344.7h.01M262.4 364.8h.01M209.5 386.6h.01M155.1 103.7h.01M120.0 141.7h.01M217.5 81.8h.01M230.5 63.0h.01M278.9 103.2h.01M233.0 325.7h.01M127.1 122.3h.01M221.9 377.7h.01M271.5 100.9h.01M239.2 347.7h.01M155.4 131.6h.01M264.8 329.1h.01" stroke="#D95319" stroke-width="4.0" stroke-linecap="round" fill="none"/>
<path d="M149.9 50.1h.01M186.9 341.5h.01M163.5 77.5h.01M119.0 80.2h.01M169.6 361.9h.01M160.5 65.3h.01M141.2 98.1h.01M151.6 52.5h.01M131.5 82.1h.01M111.8 98.2h.01M255.7 101.8h.01M128.6 91.5h.01M185.0 378.4h.01M151.8 51.6h.01M119.4 103.4h.01M121.8 95.8h.01M125.9 159.9h.01M211.0 401.8h.01M150.0 79.8h.01M139.7 61.0h.01M231.3 82.9h.01M165.7 339.4h.01M155.9 65.9h.01M153.5 66.4h.01M148.4 74.1h.01M189.8 355.0h.01M251.0 93.1h.01M225.6 375.3h.01M152.6 68.1h.01M152.5 55.8h.01M159.4 342.2h.01M226.0 105.2h.01M137.2 103.6h.01M174.0 369.1h.01M121.9 113.5h.01M190.4 327.7h.01M213.5 109.5h.01M172.7 374.8h.01M167.5 357.0h.01M185.8 93.2h.01M161.9 72.3h.01M170.6 352.6h.01M156.3 92.2h.01M144.5 56.9h.01M163.6 373.6h.01M136.1 82.1h.01M200.6 346.0h.01M178.6 350.5h.01M180.4 342.3h.01M130.3 104.0h.01M187.0 329.5h.01M170.5 99.6h.01M144.9 79.7h.01M139.3 138.8h.01M160.7 80.3h.01M152.1 67.4h.01M222.3 342.8h.01M196.0 338.6h.01M181.2 323.1h.01M137.9 96.1h.01M151.1 55.4h.01M145.6 62.9h.01M195.6 347.0h.01M149.8 82.9h.01M242.6 367.9h.01M167.7 363.2h.01M146.6 74.8h.01M125.0 88.7h.01M162.2 71.7h.01M123.9 80.5h.01M127.0 80.9h.01M182.2 314.4h.01M160.9 62.5h.01M123.8 83.3h.01M212.7 353.6h.01M181.3 345.6h.01M144.7 54.6h.01M188.4 333.4h.01M168.0 84.0h.01M115.6 106.8h.01M223.8 343.7h.01M142.0 51.9h.01M171.8 363.4h.01M177.7 79.5h.01M194.0 347.5h.01M132.5 106.5h.01M185.5 329.8h.01M140.5 59.5h.01M151.9 120.7h.01M202.5 110.6h.01M129.9 79.7h.01M142.6 56.2h.01M179.2 369.9h.01M133.3 78.6h.01M171.7 367.4h.01M162.5 77.5h.01M135.7 84.9h.01M166.8 353.6h.01M186.6 341.3h.01M159.0 366.6h.01M139.3 55.3h.01M140.0 54.6h.01M156.0 348.6h.01M163.7 79.3h.01M157.9 76.8h.01M148.8 78.3h.01M171.3 371.3h.01M171.1 74.7h.01M155.4 347.7h.01M177.3 321.6h.01M173.8 83.3h.01M198.8 343.5h.01M194.1 330.0h.01M182.8 319.7h.01M220.4 340.2h.01M199.1 346.6h.01M133.2 93.3h.01M166.1 78.7h.01M113.2 89.6h.01M144.7 90.8h.01M152.3 51.9h.01M199.4 69.6h.01M213.2 372.0h.01M127.3 77.3h.01M114.5 98.5h.01M175.7 121.7h.01M122.2 84.4h.01M135.8 62.6h.01M242.2 94.2h.01M180.8 369.5h.01M201.1 354.4h.01M161.7 348.8h.01M172.2 103.1h.01M159.0 81.7h.01M190.0 325.6h.01M149.4 69.1h.01M251.5 89.3h.01M161.3 346.2h.01M156.1 363.2h.01M140.6 59.4h.01M152.9 73.9h.01M129.9 87.8h.01M168.4 113.6h.01M153.8 120.7h.01M140.6 67.1h.01M191.3 119.2h.01M215.2 86.5h.01M163.2 373.1h.01M200.4 338.0h.01M193.8 324.5h.01M152.8 412.9h.01M144.0 138.5h.01" stroke="#0072BD" stroke-width="4.0" stroke-linecap="round" fill="none"/>
<path d="M116.2 178.7h.01M141.5 153.2h.01M124.9 165.1h.01M162.6 408.5h.01M158.4 450.9h.01M156.4 395.5h.01M117.7 160.4h.01M252.2 106.3h.01M124.5 180.9h.01M260.7 86.8h.01M162.0 390.5h.01M226.1 111.3h.01M149.5 437.7h.01M255.1 357.2h.01M181.7 381.5h.01M133.0 118.0h.01M180.8 388.8h.01M207.0 388.5h.01M170.6 398.2h.01M245.1 344.3h.01M156.3 129.7h.01M175.6 97.8h.01" stroke="#EDB120" stroke-width="4.0" stroke-linecap="round" fill="none"/>
<path d="M155.3 460.6h.01M236.7 106.0h.01M129.3 136.5h.01M164.1 86.8h.01M160.0 87.3h.01M165.8 93.3h.01M162.2 88.9h.01M180.0 399.8h.01M247.9 351.5h.01M145.8 142.2h.01M171.1 100.2h.01M217.5 391.1h.01M238.0 345.1h.01M278.0 88.2h.01M132.7 120.9h.01M271.5 104.8h.01M157.7 442.4h.01M188.1 396.9h.01M300.1 79.9h.01M244.1 350.0h.01M204.2 126.0h.01" stroke="#D95319" stroke-width="4.0" stroke-linecap="round" fill="none"/>
<path d="M184.8 344.9h.01M126.5 100.5h.01M132.4 112.3h.01M188.2 357.5h.01M179.4 357.3h.01M153.7 360.6h.01M138.3 102.2h.01M180.4 314.9h.01M139.2 73.4h.01M187.8 351.2h.01M193.0 343.5h.01M190.2 374.5h.01M121.8 83.1h.01M141.9 115.5h.01M117.4 80.6h.01M166.0 431.0h.01M199.5 123.8h.01M135.1 81.2h.01M236.8 101.4h.01M158.7 363.0h.01M122.6 96.0h.01M173.1 374.2h.01M115.3 90.4h.01M177.8 325.8h.01M178.1 362.7h.01M146.2 68.9h.01M162.3 73.2h.01M129.3 109.7h.01M200.1 335.4h.01M225.7 85.4h.01M175.2 361.2h.01M118.6 112.4h.01M160.1 75.1h.01M186.3 348.0h.01M220.0 108.5h.01M150.5 63.5h.01M167.6 349.8h.01M169.1 370.7h.01M175.6 321.2h.01M180.8 352.1h.01M155.4 362.7h.01M172.1 374.9h.01M145.2 90.1h.01M154.9 62.4h.01M182.4 366.4h.01M115.1 102.8h.01M271.5 331.7h.01M239.8 363.6h.01M221.2 370.1h.01M113.5 102.2h.01M159.5 444.7h.01M174.5 343.9h.01M150.6 441.1h.01M169.0 353.6h.01M161.3 73.8h.01M118.6 86.2h.01M111.8 93.5h.01M194.2 321.3h.01M119.4 94.2h.01M175.1 360.0h.01M113.9 90.0h.01M169.8 90.2h.01M127.8 102.4h.01M162.2 367.6h.01M155.9 67.5h.01M186.6 351.1h.01M147.1 60.1h.01M119.9 94.6h.01M202.4 86.3h.01M147.4 81.5h.01M154.8 85.5h.01M156.1 67.0h.01M181.4 323.2h.01M189.9 355.0h.01M160.8 74.2h.01M178.6 323.9h.01M183.6 333.3h.01M138.0 97.0h.01M164.4 78.2h.01M145.8 145.9h.01M152.7 60.0h.01M255.2 90.0h.01M121.8 106.0h.01M121.8 103.5h.01M183.1 336.7h.01M160.3 74.3h.01M148.8 70.3h.01M190.0 327.1h.01M217.7 92.8h.01M175.0 373.2h.01M160.9 418.6h.01M169.5 350.6h.01M175.0 80.0h.01M192.3 331.8h.01M135.8 100.0h.01M128.0 95.1h.01M178.9 346.4h.01M211.0 349.2h.01M128.0 73.3h.01M146.2 69.2h.01M199.2 340.2h.01M206.5 127.3h.01M192.7 354.5h.01M182.0 349.4h.01M201.8 331.0h.01M157.1 67.3h.01M173.4 409.0h.01M197.2 329.6h.01M194.6 378.9h.01M137.7 103.5h.01M134.7 66.2h.01M162.0 118.8h.01M154.1 74.7h.01M188.4 352.8h.01M140.2 60.7h.01M186.5 327.5h.01M141.1 84.9h.01M177.5 346.6h.01M157.3 356.6h.01M150.4 80.1h.01M168.6 371.2h.01M253.5 93.4h.01M147.5 67.1h.01M189.8 357.8h.01M231.4 84.5h.01M159.6 81.2h.01M201.2 344.4h.01M128.5 95.0h.01M171.5 365.1h.01M207.5 83.0h.01M138.0 76.9h.01M116.3 97.4h.01M216.0 353.2h.01M198.9 330.4h.01M183.6 346.6h.01M140.2 54.5h.01M161.2 353.7h.01M177.0 365.9h.01M132.4 108.3h.01M174.4 362.6h.01M185.5 95.6h.01M177.0 330.4h.01M215.2 94.5h.01M158.6 82.2h.01M151.6 76.6h.01" stroke="#0072BD" stroke-width="4.0" stroke-linecap="round" fill="none"/>
<path d="M115.7 187.3h.01M301.1 75.9h.01M228.1 120.4h.01M116.6 179.5h.01M164.6 386.4h.01M242.4 84.5h.01M241.2 353.9h.01M188.4 391.5h.01M245.9 110.3h.01M111.9 149.8h.01M201.5 107.4h.01M238.2 325.6h.01M206.2 372.5h.01M255.3 91.1h.01M112.8 145.6h.01M123.7 153.8h.01M192.0 391.1h.01M246.1 338.6h.01" stroke="#EDB120" stroke-width="4.0" stroke-linecap="round" fill="none"/>
<path d="M186.3 124.7h.01M140.2 144.4h.01M256.0 370.6h.01M250.5 374.9h.01M212.4 368.3h.01M242.8 380.6h.01M161.0 143.1h.01M177.9 393.4h.01M234.4 89.6h.01M286.7 96.0h.01M238.8 350.4h.01M189.3 96.4h.01M201.6 115.5h.01M188.7 364.1h.01M177.3 90.1h.01M247.2 106.3h.01" stroke="#D95319" stroke-width="4.0" stroke-linecap="round" fill="none"/>
<path d="M191.7 345.2h.01M156.2 65.3h.01M195.5 366.3h.01M176.1 374.6h.01M160.5 374.3h.01M191.0 346.0h.01M163.9 348.7h.01M126.6 100.4h.01M135.3 98.1h.01M148.7 62.3h.01M173.5 361.8h.01M165.6 70.0h.01M201.4 108.4h.01M125.2 92.1h.01M154.3 436.6h.01M177.0 364.4h.01M161.8 69.2h.01M182.0 347.2h.01M230.2 365.3h.01M126.4 115.1h.01M192.5 330.4h.01M178.3 382.8h.01M186.2 327.2h.01M173.6 366.0h.01M224.1 80.8h.01M154.6 53.3h.01M152.8 418.8h.01M142.1 86.7h.01M163.4 368.4h.01M192.2 353.3h.01M155.9 351.3h.01M188.0 334.3h.01M222.4 91.5h.01M169.8 371.1h.01M176.3 327.5h.01M186.0 70.8h.01M164.9 73.5h.01M140.7 56.4h.01M177.4 375.0h.01M120.7 98.5h.01M188.6 328.3h.01M230.0 337.4h.01M169.5 375.9h.01M166.6 109.3h.01M202.9 341.0h.01M168.4 364.3h.01M177.4 325.4h.01M133.2 72.4h.01M123.6 80.2h.01M175.1 371.8h.01M146.7 139.1h.01M190.3 328.4h.01M177.9 354.2h.01M169.0 363.4h.01M165.7 76.0h.01M155.2 60.5h.01M121.5 81.3h.01M202.9 355.1h.01M126.6 74.9h.01M165.4 376.0h.01M142.2 77.2h.01M137.8 86.7h.01M191.3 342.9h.01M202.8 344.1h.01M166.6 347.7h.01M137.0 81.7h.01M175.1 353.4h.01M236.4 385.4h.01M155.7 364.5h.01M179.6 117.4h.01M224.4 359.7h.01M133.8 71.6h.01M146.7 81.1h.01M133.2 92.5h.01M168.1 354.8h.01M179.7 320.2h.01M138.7 105.5h.01M194.4 324.6h.01M174.6 358.5h.01M181.6 121.6h.01M163.8 122.5h.01M123.7 113.3h.01M148.7 68.6h.01M130.2 107.1h.01M125.4 86.2h.01M136.3 108.7h.01M193.2 321.3h.01M167.8 371.1h.01M154.0 416.8h.01M146.1 57.3h.01M188.9 343.0h.01M132.7 73.4h.01M177.6 359.9h.01M119.8 91.3h.01M197.2 346.6h.01M152.9 364.3h.01M175.8 103.2h.01M136.6 83.3h.01M167.1 376.1h.01M154.0 61.6h.01M139.4 80.3h.01M159.2 348.0h.01M130.1 115.4h.01M185.1 333.9h.01M192.4 320.0h.01M129.0 78.5h.01M173.9 360.9h.01M159.4 58.0h.01M138.1 101.7h.01M169.9 344.9h.01M177.6 345.1h.01M218.6 361.2h.01M186.8 317.5h.01M189.0 342.8h.01M177.1 99.5h.01M167.8 358.3h.01M152.4 70.8h.01M205.0 79.2h.01M173.3 374.4h.01M163.8 81.3h.01M136.0 107.6h.01M190.0 327.2h.01M209.6 356.2h.01M151.4 57.2h.01M162.3 79.5h.01M126.3 77.0h.01M149.0 57.3h.01M201.3 395.5h.01M132.7 141.0h.01M199.0 329.6h.01M193.3 321.8h.01M161.2 69.0h.01M162.8 64.3h.01M125.3 107.9h.01M225.1 99.4h.01M153.5 77.4h.01M121.2 106.5h.01M203.9 364.0h.01M155.7 350.2h.01M133.8 95.0h.01M122.8 107.6h.01M127.2 75.1h.01M199.7 344.4h.01M183.5 331.8h.01M173.1 91.6h.01M213.1 80.1h.01M181.8 339.1h.01M162.4 341.6h.01M210.4 80.1h.01M181.4 338.0h.01M155.0 351.4h.01M159.1 354.7h.01M186.8 89.5h.01M119.9 169.5h.01" stroke="#0072BD" stroke-width="4.0" stroke-linecap="round" fill="none"/>
<path d="M194.7 375.0h.01M167.7 128.5h.01M319.8 78.8h.01M196.5 373.3h.01M157.0 110.4h.01M205.9 96.0h.01M172.1 409.7h.01M230.5 114.4h.01M116.8 162.8h.01M165.6 135.6h.01M245.8 111.0h.01" stroke="#EDB120" stroke-width="4.0" stroke-linecap="round" fill="none"/>
<path d="M281.6 101.2h.01M201.0 111.5h.01M262.2 355.9h.01M202.5 351.4h.01M249.4 362.2h.01M147.0 444.2h.01M154.6 138.6h.01M201.0 360.7h.01M218.1 372.4h.01M239.5 379.4h.01M228.4 379.6h.01M264.3 106.2h.01M189.6 399.2h.01M261.6 101.1h.01M270.4 374.9h.01M243.7 368.3h.01M197.2 386.4h.01M243.8 104.2h.01M149.9 91.4h.01M252.2 112.0h.01M197.3 366.9h.01" stroke="#D95319" stroke-width="4.0" stroke-linecap="round" fill="none"/>
<path d="M137.4 56.7h.01M180.5 357.9h.01M157.5 130.0h.01M187.2 318.4h.01M238.1 375.8h.01M167.2 357.7h.01M187.2 369.9h.01M190.1 320.8h.01M181.3 322.8h.01M137.2 101.6h.01M119.9 82.4h.01M161.0 80.9h.01M158.3 117.3h.01M184.1 399.3h.01M129.9 107.2h.01M119.0 87.3h.01M160.5 368.7h.01M168.9 429.3h.01M126.5 99.0h.01M177.7 370.6h.01M141.2 65.5h.01M187.5 404.0h.01M215.3 99.4h.01M142.0 53.6h.01M135.5 84.3h.01M175.8 319.9h.01M164.8 373.2h.01M198.5 329.1h.01M128.8 104.3h.01M166.7 369.8h.01M135.4 104.7h.01M164.2 365.7h.01M162.0 357.5h.01M182.0 87.0h.01M124.7 167.1h.01M197.0 326.3h.01M156.1 67.1h.01M204.6 337.4h.01M152.0 66.0h.01M126.6 76.0h.01M115.5 90.6h.01M225.6 366.9h.01M118.5 85.1h.01M157.1 63.9h.01M161.5 354.1h.01M179.0 314.3h.01M179.2 366.3h.01M211.2 354.9h.01M129.0 108.5h.01M155.3 78.9h.01M192.6 121.3h.01M132.4 72.0h.01M194.3 388.1h.01M160.5 366.3h.01M137.6 84.9h.01M177.6 357.8h.01M149.6 51.3h.01M159.8 349.8h.01M140.3 55.3h.01M145.1 84.0h.01M121.1 92.3h.01M127.3 93.6h.01M156.6 358.2h.01M145.1 53.3h.01M168.9 351.2h.01M183.5 328.7h.01M137.4 71.1h.01M244.4 99.8h.01M113.7 87.2h.01M143.8 84.5h.01M200.8 352.1h.01M133.2 81.2h.01M157.2 359.3h.01M193.7 342.1h.01M120.7 101.4h.01M149.9 60.7h.01M145.9 77.8h.01M179.7 336.1h.01M240.8 337.5h.01M195.9 342.1h.01M166.8 353.5h.01M140.4 74.5h.01M124.4 99.5h.01M132.6 96.0h.01M152.8 85.3h.01M145.5 84.9h.01M146.2 49.2h.01M194.7 332.4h.01M153.0 88.3h.01M171.4 368.2h.01M190.0 337.1h.01M119.3 112.9h.01M176.8 86.8h.01M130.4 83.2h.01M132.8 111.6h.01M165.2 343.4h.01M122.5 80.7h.01M150.8 71.5h.01M139.1 94.5h.01M164.5 103.3h.01M195.2 407.9h.01M180.5 328.5h.01M189.2 319.2h.01M122.7 108.4h.01M158.6 72.1h.01M169.2 347.8h.01M184.2 318.2h.01M163.1 433.2h.01M158.5 64.8h.01M194.2 337.9h.01M178.2 122.2h.01M203.1 77.4h.01M158.1 87.9h.01M227.9 95.4h.01M122.0 79.2h.01M135.2 89.0h.01M199.6 116.2h.01M193.6 340.9h.01M142.6 88.3h.01M122.3 89.8h.01M143.6 68.4h.01M160.2 363.1h.01M161.4 344.3h.01M137.1 86.1h.01M194.3 326.7h.01M113.5 91.0h.01M155.4 363.2h.01M159.9 369.8h.01M160.2 121.0h.01M218.4 367.2h.01M253.5 110.6h.01M159.8 69.8h.01M183.1 332.6h.01M164.0 358.3h.01M145.3 66.8h.01M126.2 86.8h.01M154.8 57.2h.01M147.9 75.1h.01M157.9 368.3h.01M177.5 348.9h.01M163.1 372.9h.01M180.3 344.9h.01M120.6 109.1h.01M158.9 56.7h.01M118.4 100.6h.01M130.0 110.7h.01M194.6 399.4h.01M143.9 70.1h.01M135.0 85.5h.01M134.7 74.9h.01M222.9 360.5h.01M166.5 372.8h.01M162.4 433.9h.01M194.8 327.8h.01M144.1 72.7h.01M140.1 74.8h.01" stroke="#0072BD" stroke-width="4.0" stroke-linecap="round" fill="none"/>
<path d="M134.5 115.9h.01M219.6 118.2h.01M269.6 365.1h.01M239.8 369.0h.01M131.8 177.7h.01M120.4 137.8h.01M264.9 359.2h.01M157.5 441.0h.01M125.7 182.8h.01M169.2 394.1h.01M217.8 122.2h.01M128.3 171.7h.01M196.8 114.5h.01M230.3 347.7h.01M128.1 161.9h.01M249.3 101.6h.01M276.2 363.7h.01M111.4 164.2h.01M163.3 431.5h.01" stroke="#EDB120" stroke-width="4.0" stroke-linecap="round" fill="none"/>
<path d="M263.2 105.6h.01M203.4 358.2h.01M174.6 77.5h.01M259.1 86.3h.01M125.7 121.8h.01M162.2 446.5h.01M237.5 101.4h.01M162.8 421.8h.01M155.1 421.5h.01M174.2 123.7h.01M234.9 98.6h.01M138.7 149.2h.01M207.4 359.4h.01M228.2 356.1h.01M249.6 114.5h.01M235.5 99.4h.01M142.3 141.4h.01M151.7 445.7h.01M158.5 419.4h.01M261.8 100.5h.01M200.3 118.9h.01" stroke="#D95319" stroke-width="4.0" stroke-linecap="round" fill="none"/>
<path d="M173.9 357.8h.01M229.7 376.3h.01M120.8 96.3h.01M194.0 360.6h.01M144.0 57.1h.01M179.4 333.8h.01M162.7 376.9h.01M191.3 324.5h.01M125.7 97.9h.01M168.5 376.8h.01M166.2 75.9h.01M179.8 329.6h.01M178.0 358.5h.01M165.2 66.3h.01M192.4 321.7h.01M140.9 88.6h.01M242.2 98.6h.01M118.3 83.4h.01M155.1 350.3h.01M131.7 88.7h.01M160.8 346.1h.01M115.2 98.0h.01M188.1 330.9h.01M165.7 351.3h.01M140.0 133.1h.01M201.3 343.4h.01M175.9 382.2h.01M240.4 379.4h.01M142.7 91.2h.01M146.6 74.8h.01M118.5 104.1h.01M124.1 108.3h.01M159.9 347.2h.01M169.7 347.8h.01M177.8 328.0h.01M190.3 353.8h.01M130.4 90.1h.01M121.5 96.4h.01M140.1 53.2h.01M244.5 368.4h.01M158.5 71.2h.01M122.1 88.8h.01M184.0 342.1h.01M238.7 87.7h.01M144.9 91.9h.01M139.3 64.6h.01M123.5 93.9h.01M119.3 95.7h.01M161.2 97.3h.01M139.4 58.1h.01M136.4 92.5h.01M195.9 334.6h.01M183.3 339.8h.01M178.0 329.4h.01M165.9 372.2h.01M199.0 340.4h.01M115.5 100.0h.01M180.6 366.7h.01M154.6 357.3h.01M178.4 98.9h.01M136.7 75.3h.01M218.8 347.8h.01M125.8 87.5h.01M137.6 99.3h.01M157.7 68.0h.01M188.5 321.3h.01M153.9 67.2h.01M151.0 49.6h.01M134.3 89.0h.01M171.8 355.5h.01M203.2 92.2h.01M127.4 76.3h.01M156.9 63.4h.01M159.5 362.5h.01M139.7 91.0h.01M129.6 86.9h.01M165.2 66.4h.01M126.6 77.5h.01M186.4 347.1h.01M157.6 67.0h.01M140.0 66.3h.01M181.0 76.0h.01M192.7 324.5h.01M182.0 88.3h.01M179.8 353.6h.01M179.3 338.1h.01M163.9 366.9h.01M181.7 344.4h.01M200.7 78.5h.01M191.4 324.8h.01M196.7 340.4h.01M194.1 336.4h.01M138.3 84.6h.01M118.7 83.8h.01M179.5 332.9h.01M126.7 109.4h.01M154.4 434.5h.01M186.5 322.3h.01M212.6 343.2h.01M136.2 60.3h.01M142.9 122.2h.01M136.0 176.7h.01M137.8 100.8h.01M146.5 51.7h.01M195.1 408.7h.01M134.9 176.6h.01M145.8 77.4h.01M136.1 96.8h.01M161.9 344.7h.01M186.2 331.8h.01M185.6 113.1h.01M188.1 333.5h.01M134.8 62.7h.01M177.5 329.0h.01M133.4 99.0h.01M165.4 341.3h.01M141.6 66.6h.01M154.6 65.2h.01M201.0 88.9h.01M235.6 363.0h.01M187.6 313.3h.01M122.5 80.6h.01M159.7 120.2h.01M209.1 79.7h.01M116.6 99.0h.01M135.7 100.0h.01M152.6 363.0h.01M165.6 356.9h.01M124.0 107.4h.01M124.7 89.9h.01M166.5 348.7h.01M179.5 345.2h.01M178.5 315.4h.01M135.4 127.5h.01M142.9 93.9h.01M185.4 385.6h.01M151.8 134.1h.01M158.6 362.5h.01M187.1 336.8h.01M154.5 55.5h.01M166.1 344.3h.01M158.9 360.6h.01M137.5 97.9h.01M178.8 366.6h.01M133.5 98.7h.01M212.4 354.5h.01M181.1 329.1h.01M160.8 128.3h.01" stroke="#0072BD" stroke-width="4.0" stroke-linecap="round" fill="none"/>
<path d="M190.7 401.5h.01M277.1 336.1h.01M134.4 159.8h.01M271.0 365.8h.01M160.4 410.2h.01M110.9 165.6h.01M258.6 329.5h.01M239.4 366.0h.01M135.1 118.4h.01M255.9 359.6h.01M274.0 361.5h.01M259.4 99.5h.01M180.0 411.3h.01M250.5 114.0h.01M250.3 107.7h.01" stroke="#EDB120" stroke-width="4.0" stroke-linecap="round" fill="none"/>
<path d="M247.1 351.1h.01M280.2 98.5h.01M157.7 131.4h.01M271.0 88.6h.01M274.0 107.6h.01M132.3 123.9h.01M179.5 392.3h.01M169.1 114.8h.01M250.8 373.7h.01M223.2 374.5h.01M217.3 104.2h.01M170.4 79.2h.01M189.2 374.4h.01M264.7 103.9h.01M269.6 95.6h.01M156.5 456.8h.01M242.2 85.4h.01M265.6 98.2h.01" stroke="#D95319" stroke-width="4.0" stroke-linecap="round" fill="none"/>
<path d="M188.5 324.5h.01M170.5 364.4h.01M120.0 93.3h.01M157.4 70.0h.01M132.8 73.7h.01M133.6 132.4h.01M136.4 94.4h.01M145.0 67.5h.01M127.2 78.0h.01M140.6 68.5h.01M217.4 91.5h.01M159.3 358.9h.01M116.3 87.1h.01M179.2 336.9h.01M193.7 376.7h.01M172.0 345.3h.01M163.3 377.9h.01M150.8 83.2h.01M179.8 338.1h.01M175.4 351.8h.01M122.3 86.3h.01M241.1 342.2h.01M133.5 96.7h.01M194.3 350.8h.01M155.9 362.8h.01M158.1 80.3h.01M125.5 83.9h.01M210.0 331.0h.01M165.5 71.0h.01M122.0 92.9h.01M161.8 441.5h.01M159.3 78.6h.01M246.1 99.6h.01M209.3 372.7h.01M181.5 325.0h.01M135.0 112.1h.01M165.1 103.9h.01M159.8 353.8h.01M137.6 86.5h.01M181.5 346.8h.01M156.3 370.4h.01M152.7 354.8h.01M184.7 350.1h.01M146.6 72.2h.01M185.4 348.7h.01M184.4 96.6h.01M130.8 93.2h.01M153.1 76.4h.01M172.4 347.4h.01M122.5 113.2h.01M126.0 110.8h.01M163.2 113.8h.01M150.1 73.3h.01M185.3 314.6h.01M182.0 96.9h.01M181.3 325.3h.01M169.5 359.8h.01M166.8 340.1h.01M167.1 342.5h.01M153.8 357.8h.01M172.0 70.0h.01M183.7 315.1h.01M219.0 353.4h.01M248.0 93.5h.01M223.6 95.9h.01M134.4 106.0h.01M153.6 363.9h.01M242.3 343.6h.01M145.8 73.7h.01M233.2 91.3h.01M147.0 123.9h.01M130.1 74.9h.01M139.7 101.1h.01M170.0 361.7h.01M136.4 64.4h.01M210.1 351.5h.01M129.3 84.7h.01M240.4 94.9h.01M252.5 88.6h.01M202.0 345.7h.01M153.7 97.5h.01M163.7 418.4h.01M162.7 74.1h.01M421.8 323.9h.01M195.9 345.4h.01M159.3 73.3h.01M153.1 69.9h.01M165.6 439.9h.01M124.4 89.8h.01M170.2 362.4h.01M138.6 84.3h.01M165.5 356.3h.01M212.7 106.3h.01M133.4 110.2h.01M151.1 51.4h.01M156.9 57.7h.01M125.4 105.7h.01M176.3 356.8h.01M191.9 325.1h.01M148.6 71.7h.01M136.7 86.4h.01M136.0 77.3h.01M230.0 98.5h.01M139.2 92.1h.01M118.9 103.0h.01M202.9 334.1h.01M137.1 64.9h.01M128.6 89.6h.01M173.0 104.1h.01M180.5 333.2h.01M135.9 157.4h.01M129.1 87.4h.01M130.4 91.4h.01M118.8 109.6h.01M171.9 375.3h.01M157.5 74.7h.01M146.8 53.3h.01M161.4 72.0h.01M123.6 110.7h.01M154.5 97.3h.01M162.9 72.0h.01M134.4 93.5h.01M191.2 349.4h.01M162.0 417.2h.01M120.1 98.5h.01M153.7 352.5h.01M235.6 120.5h.01M190.2 341.0h.01M213.8 90.6h.01M132.5 91.4h.01M126.7 89.6h.01M194.2 325.6h.01M157.2 355.3h.01M167.9 346.4h.01M180.7 340.6h.01M199.1 82.6h.01M138.0 87.7h.01M154.4 58.6h.01M169.4 350.7h.01M192.7 339.7h.01M190.4 88.4h.01M183.0 82.3h.01M181.8 351.4h.01M135.9 152.3h.01M154.2 70.7h.01M141.9 54.4h.01M170.8 346.8h.01M199.4 329.9h.01M188.4 319.5h.01M182.8 319.0h.01M151.9 79.0h.01M188.0 319.7h.01M192.2 320.3h.01M178.3 370.4h.01M188.4 350.8h.01M132.6 93.5h.01" stroke="#0072BD" stroke-width="4.0" stroke-linecap="round" fill="none"/>
<path d="M207.5 118.7h.01M163.4 393.6h.01M252.2 340.6h.01M261.4 104.6h.01M228.2 121.0h.01M209.2 87.9h.01M169.3 408.8h.01M182.0 88.1h.01M200.0 125.2h.01M243.4 365.7h.01M168.9 105.9h.01M243.4 329.7h.01M238.2 103.1h.01M257.7 102.2h.01M228.2 379.3h.01M236.3 115.6h.01M199.5 118.8h.01M152.3 129.5h.01M258.2 342.0h.01M256.3 355.6h.01" stroke="#EDB120" stroke-width="4.0" stroke-linecap="round" fill="none"/>
<path d="M228.4 385.6h.01M212.7 102.2h.01M197.9 394.2h.01M189.2 120.3h.01M154.6 114.4h.01M157.4 139.8h.01M230.9 343.2h.01M177.6 89.0h.01M149.8 96.3h.01M175.9 387.2h.01M299.0 87.6h.01M128.7 125.5h.01M247.1 381.5h.01M201.2 118.0h.01M242.7 103.1h.01M248.8 347.3h.01M189.4 126.5h.01M188.3 379.9h.01M211.3 388.0h.01" stroke="#D95319" stroke-width="4.0" stroke-linecap="round" fill="none"/>
<path d="M141.3 53.3h.01M144.1 55.9h.01M161.8 364.6h.01M145.5 75.7h.01M189.7 328.2h.01M157.6 348.7h.01M158.6 441.1h.01M156.0 346.6h.01M123.8 93.9h.01M136.4 108.9h.01M163.6 349.0h.01M218.6 87.4h.01M177.5 371.2h.01M189.3 347.6h.01M141.8 83.2h.01M196.9 334.7h.01M140.3 67.0h.01M240.8 94.2h.01M193.7 338.3h.01M161.2 376.4h.01M173.3 86.4h.01M155.9 67.9h.01M115.2 105.2h.01M194.2 346.0h.01M179.7 317.2h.01M245.3 88.3h.01M126.4 104.1h.01M178.0 330.9h.01M147.8 86.6h.01M165.3 374.7h.01M164.1 439.0h.01M194.7 347.5h.01M160.6 414.0h.01M247.8 77.3h.01M142.2 68.7h.01M171.5 361.7h.01M167.0 350.8h.01M179.2 320.9h.01M189.8 117.9h.01M178.4 330.6h.01M132.6 78.0h.01M137.1 69.1h.01M128.6 89.8h.01M153.7 360.7h.01M188.4 345.2h.01M143.8 64.9h.01M169.7 368.2h.01M116.2 96.8h.01M178.9 363.7h.01M223.2 103.2h.01M223.1 350.4h.01M138.7 72.7h.01M177.3 353.7h.01M136.5 103.3h.01M180.9 324.0h.01M160.0 351.7h.01M182.3 345.0h.01M197.2 344.7h.01M191.3 403.1h.01M199.9 103.5h.01M161.6 104.9h.01M155.8 368.4h.01M192.5 322.1h.01M233.2 100.2h.01M125.3 88.2h.01M120.4 107.9h.01M225.3 353.4h.01M190.1 352.2h.01M129.6 103.3h.01M168.0 372.1h.01M157.0 351.7h.01M176.6 362.0h.01M137.9 95.7h.01M174.1 85.7h.01M180.3 353.5h.01M159.7 374.8h.01M195.9 340.7h.01M232.2 363.2h.01M239.4 367.8h.01M168.5 362.2h.01M169.7 349.4h.01M186.9 343.3h.01M172.3 374.1h.01M186.2 321.1h.01M134.1 109.9h.01M186.0 136.0h.01M165.2 68.8h.01M191.1 344.5h.01M183.6 119.7h.01M115.9 109.5h.01M177.1 318.9h.01M143.9 121.1h.01M123.0 88.5h.01M124.8 75.6h.01M126.6 92.6h.01M118.6 94.2h.01M149.7 88.0h.01M183.2 325.5h.01M231.5 362.7h.01M118.4 88.2h.01M247.8 87.1h.01M120.5 100.7h.01M154.3 358.7h.01M115.6 85.2h.01M122.3 79.1h.01M127.5 82.9h.01M187.9 319.3h.01M140.1 60.6h.01M184.5 337.7h.01M191.6 90.8h.01M163.6 66.8h.01M188.7 336.9h.01M181.4 333.7h.01M173.4 343.6h.01M179.2 351.6h.01M171.2 370.2h.01M213.3 115.8h.01M188.0 352.2h.01M150.0 72.9h.01M194.7 330.7h.01M248.3 96.0h.01M149.7 75.0h.01M209.4 107.9h.01M151.0 139.2h.01M167.3 374.0h.01M162.0 359.5h.01M123.7 151.7h.01M158.8 363.7h.01M180.4 367.3h.01M192.2 321.2h.01M168.1 357.4h.01M179.1 325.6h.01M157.4 70.6h.01M128.7 87.4h.01M138.0 154.7h.01M159.0 56.7h.01M167.6 121.4h.01M157.9 67.0h.01M159.7 364.0h.01M189.7 91.8h.01M234.2 369.6h.01M137.5 138.8h.01M132.9 110.6h.01M165.2 77.2h.01M143.0 68.1h.01M162.9 367.5h.01M115.7 98.4h.01M187.9 335.0h.01M149.0 56.5h.01" stroke="#0072BD" stroke-width="4.0" stroke-linecap="round" fill="none"/>
<path d="M261.8 371.2h.01M236.3 346.2h.01M212.4 336.3h.01M221.2 114.1h.01M229.9 348.2h.01M167.2 131.4h.01M204.9 129.6h.01M120.9 168.0h.01M140.5 138.7h.01M272.2 354.3h.01M232.4 342.9h.01M192.9 124.8h.01M232.6 90.3h.01M124.5 163.0h.01M114.4 173.6h.01M174.6 387.8h.01M160.4 410.0h.01M169.5 387.6h.01M232.3 119.9h.01M191.8 122.7h.01M155.9 404.5h.01M185.0 98.8h.01M122.2 176.7h.01" stroke="#EDB120" stroke-width="4.0" stroke-linecap="round" fill="none"/>
<path d="M262.9 94.8h.01M122.2 156.3h.01M149.6 96.9h.01M217.9 374.1h.01M215.0 126.2h.01M157.4 132.0h.01M229.2 346.8h.01M222.0 60.0h.01M249.9 354.2h.01M176.8 120.6h.01M219.7 54.4h.01M176.1 389.9h.01M149.4 123.7h.01M161.3 102.8h.01M234.8 379.7h.01M211.4 103.3h.01M134.9 135.0h.01M262.8 105.8h.01M166.3 86.3h.01" stroke="#D95319" stroke-width="4.0" stroke-linecap="round" fill="none"/>
<path d="M259.6 97.3h.01M140.2 69.5h.01M140.5 75.7h.01M169.6 374.3h.01M134.3 68.8h.01M137.8 81.1h.01M205.1 110.5h.01M176.7 328.9h.01M184.5 125.4h.01M178.7 90.8h.01M187.1 104.7h.01M162.1 73.3h.01M148.9 130.3h.01M187.2 321.4h.01M168.4 89.6h.01M112.9 100.0h.01M192.0 341.2h.01M141.0 76.0h.01M133.3 79.0h.01M131.6 71.0h.01M197.7 337.1h.01M141.0 64.7h.01M130.1 146.5h.01M152.0 83.9h.01M137.1 61.8h.01M221.9 349.2h.01M130.9 102.0h.01M185.4 377.1h.01M126.6 174.3h.01M188.9 338.5h.01M177.0 119.2h.01M192.5 344.1h.01M121.8 109.1h.01M204.2 340.0h.01M198.6 367.4h.01M166.5 361.2h.01M166.7 345.0h.01M181.7 315.6h.01M139.1 60.9h.01M143.2 67.7h.01M171.5 333.0h.01M218.7 353.0h.01M117.3 106.5h.01M139.2 102.8h.01M148.7 57.0h.01M143.8 114.2h.01M223.7 348.1h.01M197.3 329.0h.01M247.9 92.8h.01M161.9 348.6h.01M177.6 327.5h.01M167.5 111.9h.01M135.7 64.4h.01M205.4 101.7h.01M213.2 355.3h.01M178.5 108.1h.01M213.0 80.9h.01M131.9 77.6h.01M150.2 65.1h.01M134.5 102.6h.01M188.8 76.9h.01M114.4 95.9h.01M160.8 342.6h.01M194.1 368.5h.01M204.9 333.0h.01M136.8 61.1h.01M184.9 342.4h.01M192.0 91.3h.01M217.8 391.3h.01M192.4 347.9h.01M227.3 82.0h.01M132.4 110.3h.01M134.0 107.1h.01M132.5 78.8h.01M194.7 325.9h.01M188.0 330.1h.01M168.5 100.8h.01M136.4 130.3h.01M209.3 359.3h.01M173.3 356.0h.01M168.7 359.7h.01M231.4 92.7h.01M178.1 319.4h.01M134.4 103.9h.01M138.1 101.2h.01M162.4 347.5h.01M137.9 64.0h.01M146.9 65.4h.01M192.2 376.1h.01M167.1 373.5h.01M129.2 87.9h.01M139.4 67.0h.01M205.3 341.0h.01M128.4 111.8h.01M199.0 334.4h.01M128.0 99.4h.01M145.4 58.7h.01M182.8 340.7h.01M120.4 99.7h.01M116.6 88.0h.01M198.8 334.5h.01M130.3 92.2h.01M135.3 169.4h.01M117.2 88.4h.01M219.9 89.3h.01M178.6 347.3h.01M153.3 358.1h.01M204.7 336.9h.01M180.9 372.6h.01M179.5 345.8h.01M149.0 60.9h.01M175.8 372.7h.01M131.8 126.3h.01M208.7 349.3h.01M178.6 356.7h.01M145.4 51.9h.01M148.2 55.1h.01M120.1 91.8h.01M232.4 84.8h.01M144.9 82.8h.01M132.5 101.0h.01M119.2 81.1h.01M155.9 368.8h.01M151.9 61.7h.01M152.6 62.3h.01M162.8 377.0h.01M158.9 373.7h.01M146.8 68.6h.01M166.0 345.8h.01M201.3 111.8h.01M142.7 54.1h.01M183.9 330.9h.01M184.0 341.6h.01M146.5 78.7h.01M151.7 61.1h.01M145.6 72.3h.01M184.3 322.3h.01M128.0 74.2h.01M203.3 339.2h.01M174.1 364.6h.01M207.7 347.2h.01M176.4 350.5h.01M180.0 363.8h.01M186.4 333.9h.01M134.3 67.6h.01M182.2 337.7h.01" stroke="#0072BD" stroke-width="4.0" stroke-linecap="round" fill="none"/>
<path d="M187.0 81.7h.01M185.3 411.7h.01" stroke="#EDB120" stroke-width="4.0" stroke-linecap="round" fill="none"/>
<path d="M181.0 325.0h.01M138.0 92.2h.01M147.8 59.0h.01M181.1 338.1h.01M178.5 320.8h.01M190.6 316.7h.01M231.4 362.1h.01M180.4 360.6h.01M202.6 375.6h.01M181.7 347.2h.01M134.8 73.2h.01M155.2 66.6h.01M161.6 356.4h.01M125.8 94.8h.01M158.6 345.6h.01M181.8 337.1h.01M195.0 328.9h.01M164.2 338.6h.01M137.4 62.4h.01M150.8 76.3h.01M147.9 87.6h.01M147.1 77.9h.01M143.8 82.0h.01M164.1 340.3h.01M175.1 355.9h.01M198.8 346.0h.01M177.5 374.4h.01M122.9 77.9h.01M114.7 99.9h.01M162.3 365.4h.01M165.4 359.1h.01M180.0 337.0h.01M175.1 370.6h.01M199.3 335.4h.01M125.9 80.8h.01M156.1 358.0h.01M124.8 99.5h.01M155.3 349.3h.01M185.7 313.7h.01M127.2 113.9h.01M161.6 82.4h.01M123.0 82.7h.01M189.9 318.3h.01M176.7 369.8h.01M175.3 358.2h.01M182.4 319.7h.01M168.1 349.8h.01M144.0 93.6h.01M192.4 354.3h.01M133.3 88.5h.01M186.9 331.2h.01M155.9 360.0h.01M155.8 347.2h.01M191.5 317.9h.01M137.7 61.2h.01M187.2 332.5h.01M128.8 105.2h.01M178.8 320.8h.01M164.2 370.4h.01M197.8 342.5h.01M154.7 364.2h.01M162.0 364.1h.01M150.8 78.1h.01M192.6 352.4h.01M172.0 355.8h.01M140.0 63.5h.01M137.8 110.4h.01M113.3 97.0h.01M131.1 76.7h.01M117.7 106.4h.01M173.6 363.5h.01M131.4 70.6h.01M125.4 87.6h.01M115.1 83.7h.01M122.7 106.1h.01M145.3 68.9h.01M125.9 96.6h.01M117.1 82.7h.01M193.0 328.2h.01M127.0 85.3h.01M190.6 338.2h.01M193.2 326.8h.01M180.6 361.3h.01M193.9 345.4h.01M127.2 106.7h.01M169.1 377.1h.01M129.1 91.4h.01M148.8 82.1h.01M118.3 92.1h.01M173.2 354.1h.01M163.9 64.6h.01M147.1 56.6h.01M186.7 340.0h.01M152.8 77.7h.01M151.4 63.8h.01M184.2 332.2h.01M178.7 372.7h.01M183.3 335.8h.01M165.7 371.2h.01M158.8 360.4h.01M153.4 357.9h.01M143.4 56.3h.01M150.1 65.2h.01M140.7 62.9h.01M142.5 96.4h.01M161.0 350.2h.01M154.9 352.2h.01M128.0 94.0h.01M141.2 87.2h.01M152.6 62.1h.01M116.9 91.5h.01M119.1 85.1h.01M189.3 316.8h.01M163.1 367.3h.01M154.4 359.5h.01M138.4 84.4h.01M179.4 343.1h.01M191.1 329.8h.01M183.7 335.4h.01M158.7 71.2h.01M182.1 313.1h.01M137.9 68.5h.01M126.5 93.1h.01M187.7 326.8h.01M140.9 55.1h.01M133.0 79.2h.01M172.3 364.1h.01M158.6 75.5h.01M178.3 316.5h.01M168.3 362.9h.01M162.9 349.9h.01M132.5 97.4h.01M172.2 350.7h.01M202.3 339.3h.01M174.3 362.4h.01M177.1 362.1h.01M134.4 65.9h.01M172.6 367.6h.01M193.9 327.6h.01M171.5 361.4h.01M137.3 66.9h.01M149.2 57.6h.01M180.7 344.6h.01M193.2 335.0h.01M190.1 342.1h.01M170.2 348.9h.01M133.7 99.7h.01M189.6 328.9h.01M117.1 87.8h.01M162.2 74.8h.01M182.2 347.3h.01M181.4 320.9h.01M121.3 82.5h.01M167.4 376.8h.01M168.5 349.5h.01M158.3 354.2h.01M128.4 114.8h.01M119.3 107.0h.01M168.0 374.7h.01M201.7 345.9h.01M117.6 110.5h.01M193.2 320.9h.01M163.2 360.7h.01M133.8 101.8h.01M184.1 367.7h.01M174.5 345.4h.01M126.5 96.5h.01M136.6 97.4h.01M121.2 80.4h.01M154.7 55.6h.01M146.0 50.5h.01M122.8 108.2h.01M160.9 81.9h.01M177.9 343.8h.01M115.1 101.6h.01M203.3 341.1h.01M143.7 77.4h.01M113.2 92.5h.01M139.6 66.0h.01M127.4 74.7h.01M195.2 336.3h.01M137.3 95.9h.01M155.3 361.6h.01M204.5 339.2h.01M156.9 354.8h.01M153.1 61.3h.01" stroke="#0072BD" stroke-width="4.0" stroke-linecap="round" fill="none"/>
<path d="M164.3 362.4h.01M196.1 326.6h.01M137.0 81.8h.01M162.2 348.9h.01M161.5 362.5h.01M126.4 104.9h.01M156.7 84.7h.01M149.2 69.3h.01M190.4 328.7h.01M131.4 109.7h.01M149.9 50.1h.01M155.1 80.7h.01M148.0 82.5h.01M154.3 353.5h.01M146.5 51.3h.01M129.3 80.2h.01M130.2 83.9h.01M168.4 349.8h.01M122.6 103.7h.01M164.8 347.6h.01M193.2 354.0h.01M125.5 104.6h.01M191.7 327.8h.01M202.8 333.1h.01M190.7 329.5h.01M119.2 81.4h.01M163.1 368.4h.01M164.0 361.5h.01M164.3 371.1h.01M165.5 352.4h.01M135.3 107.0h.01M182.1 361.1h.01M133.4 98.4h.01M172.3 367.7h.01M123.1 112.0h.01M162.3 355.3h.01M174.7 357.4h.01M137.4 100.2h.01M117.0 104.4h.01M120.3 99.6h.01M156.3 345.1h.01M183.9 346.6h.01M183.9 340.1h.01M128.8 89.9h.01M130.8 77.3h.01M154.5 358.8h.01M125.0 112.8h.01M189.2 347.5h.01M132.8 68.8h.01M168.7 361.9h.01M131.5 91.3h.01M183.7 345.8h.01M117.3 105.9h.01M133.9 107.9h.01M188.8 349.8h.01M166.3 377.7h.01M173.8 368.6h.01M170.0 336.0h.01M132.3 111.2h.01M179.9 323.0h.01M178.3 325.1h.01M174.8 357.0h.01M193.7 350.5h.01M139.6 86.7h.01M149.7 73.5h.01M164.0 64.5h.01M173.9 343.6h.01M170.4 340.7h.01M163.6 376.1h.01M198.8 344.3h.01M169.2 364.0h.01M155.4 350.9h.01M195.4 330.9h.01M180.8 345.2h.01M161.7 75.2h.01M172.6 342.5h.01M155.0 71.2h.01M189.4 347.9h.01M136.8 79.3h.01M132.6 102.2h.01M197.3 337.6h.01M160.4 361.8h.01M133.2 83.8h.01M177.8 358.7h.01M124.6 101.1h.01M161.7 370.3h.01M163.7 354.5h.01M140.8 80.5h.01M137.7 58.1h.01M190.9 344.6h.01M162.9 377.7h.01M151.0 75.9h.01M158.3 348.3h.01M168.6 353.1h.01M152.0 63.1h.01M176.0 320.3h.01M196.6 345.5h.01M199.6 329.8h.01M189.9 340.6h.01M148.7 81.4h.01M155.4 369.8h.01M136.7 101.2h.01M154.5 350.3h.01M166.1 358.1h.01M199.2 331.0h.01M168.1 368.9h.01M162.0 343.2h.01M181.7 345.9h.01M115.9 100.7h.01M126.4 95.2h.01M166.7 357.6h.01M130.9 84.1h.01M162.4 348.8h.01M142.2 52.7h.01M184.5 323.2h.01M163.4 66.1h.01M130.8 78.7h.01M140.8 86.2h.01M169.6 358.3h.01M146.2 89.8h.01M144.8 85.8h.01M172.7 367.7h.01M125.1 82.8h.01M160.5 341.6h.01M173.0 86.0h.01M159.5 78.9h.01M160.1 347.9h.01M124.8 90.8h.01M145.1 72.1h.01M195.3 330.3h.01M169.2 339.8h.01M119.1 111.5h.01M156.9 73.6h.01M161.5 74.9h.01M123.5 104.7h.01M121.2 104.1h.01M168.8 362.2h.01M194.2 348.6h.01M163.9 359.4h.01M159.1 62.1h.01M119.9 91.8h.01M163.4 62.9h.01M181.8 327.6h.01M190.0 322.9h.01M194.7 352.4h.01M155.5 351.6h.01M160.2 364.1h.01M164.5 350.3h.01M118.9 99.8h.01M163.2 354.0h.01M126.9 91.5h.01M126.0 74.6h.01M183.0 317.8h.01M198.4 339.7h.01M122.3 89.3h.01M141.6 71.3h.01M160.6 351.0h.01M179.6 343.4h.01M179.9 319.3h.01M131.9 82.5h.01M175.7 345.0h.01M187.7 345.0h.01M136.2 71.2h.01M129.0 106.0h.01M188.7 336.7h.01M187.2 356.6h.01M182.8 334.1h.01M116.9 102.2h.01M125.7 74.6h.01M150.1 64.7h.01M151.4 69.3h.01M194.7 323.9h.01M122.4 99.2h.01M155.6 367.2h.01M191.6 338.3h.01M165.9 361.6h.01M183.1 342.3h.01M139.9 91.5h.01M181.1 369.1h.01M121.4 85.8h.01M160.6 68.2h.01M161.2 65.0h.01M151.9 52.4h.01M155.9 364.8h.01M125.4 98.4h.01M161.9 76.3h.01M190.6 350.8h.01M128.0 112.2h.01" stroke="#0072BD" stroke-width="4.0" stroke-linecap="round" fill="none"/>
<path d="M181.0 322.3h.01M163.3 357.1h.01M125.3 107.7h.01M155.8 79.1h.01M141.0 87.0h.01M169.0 360.2h.01M152.3 71.1h.01M179.4 355.5h.01M149.1 60.1h.01M142.2 83.2h.01M133.7 71.4h.01M137.4 73.8h.01M186.5 325.1h.01M130.4 96.5h.01M181.0 326.6h.01M162.4 357.1h.01M120.2 97.6h.01M162.0 355.3h.01M184.1 330.3h.01M166.9 75.9h.01M193.3 326.3h.01M133.6 102.1h.01M136.1 99.8h.01M136.5 63.5h.01M157.7 348.7h.01M123.3 79.4h.01M178.4 316.5h.01M180.3 359.3h.01M153.6 57.4h.01M176.4 351.0h.01M128.7 113.5h.01M157.0 84.1h.01M168.5 345.3h.01M183.5 342.3h.01M200.4 333.3h.01M168.1 361.1h.01M183.5 342.2h.01M182.1 321.9h.01M131.3 95.9h.01M159.4 67.5h.01M122.2 110.3h.01M151.2 66.7h.01M125.0 74.8h.01M200.8 347.0h.01M147.9 50.1h.01M135.8 70.7h.01M122.1 85.4h.01M124.3 91.2h.01M132.2 108.4h.01M157.5 361.7h.01M176.2 372.1h.01M187.7 355.9h.01M182.6 320.5h.01M166.9 358.6h.01M170.8 344.6h.01M178.3 346.2h.01M180.3 344.4h.01M143.2 63.7h.01M195.1 349.8h.01M176.3 363.9h.01M170.3 346.8h.01M128.6 112.8h.01M170.0 78.0h.01M165.9 371.3h.01M155.1 80.4h.01M180.5 349.4h.01M181.6 336.4h.01M118.0 95.9h.01M149.5 61.6h.01M159.0 370.1h.01M176.1 374.9h.01M173.2 353.3h.01M167.2 353.0h.01M190.8 318.6h.01M147.6 77.3h.01M134.7 86.2h.01M194.9 327.6h.01M149.3 77.2h.01M119.2 94.7h.01M134.5 110.9h.01M159.8 79.0h.01M158.3 346.7h.01M153.0 60.6h.01M150.1 60.1h.01M152.6 356.6h.01M153.0 60.3h.01M167.7 370.0h.01M202.5 343.7h.01M177.3 367.3h.01M175.7 375.0h.01M179.0 316.9h.01M116.7 86.2h.01M181.8 315.2h.01M171.1 376.2h.01M179.5 314.1h.01M137.1 70.0h.01M198.2 341.6h.01M134.9 97.4h.01M130.4 105.1h.01M155.4 368.2h.01M125.8 83.3h.01M180.7 338.1h.01M161.1 370.7h.01M156.1 369.2h.01M154.1 68.9h.01M180.2 369.5h.01M189.0 323.7h.01M179.1 365.0h.01M194.2 331.8h.01M171.8 376.3h.01M126.6 96.9h.01M176.0 319.6h.01M163.4 363.1h.01M137.9 100.3h.01M168.2 368.8h.01M161.5 368.8h.01M202.3 338.9h.01M158.4 366.1h.01M174.3 345.2h.01M128.4 110.8h.01M161.0 357.7h.01M127.4 96.7h.01M171.3 341.9h.01M180.0 338.7h.01M157.6 356.5h.01M181.4 351.3h.01M195.6 333.5h.01M118.4 112.7h.01M177.5 352.3h.01M169.6 373.0h.01M152.1 78.8h.01M160.4 359.4h.01M125.4 78.4h.01M182.3 371.3h.01M150.0 66.9h.01M168.9 371.0h.01M187.6 355.1h.01M188.6 352.6h.01M124.9 96.0h.01M175.3 352.0h.01M143.1 68.8h.01M191.3 339.4h.01M181.4 338.3h.01M162.7 354.0h.01M116.3 99.7h.01M137.2 96.5h.01M118.9 105.0h.01M142.0 65.7h.01M174.0 376.7h.01M132.0 113.0h.01M189.6 350.2h.01M175.9 327.8h.01M169.2 340.6h.01M176.9 358.9h.01M128.1 97.5h.01M123.9 103.4h.01M174.3 361.6h.01M183.9 321.4h.01M161.3 81.2h.01M199.9 346.8h.01M186.6 330.0h.01M134.2 74.6h.01M166.8 367.9h.01M182.6 370.1h.01M142.6 89.2h.01M153.2 54.5h.01M171.3 344.7h.01M192.6 339.9h.01M174.9 344.5h.01M120.5 83.3h.01M177.8 370.8h.01M147.5 85.4h.01M194.9 351.6h.01M139.7 82.0h.01M180.3 325.5h.01M189.5 323.0h.01M181.2 366.4h.01M118.8 88.3h.01M184.5 333.5h.01M182.7 330.6h.01M127.8 104.8h.01M159.6 344.1h.01M130.2 99.2h.01M177.7 349.4h.01M125.3 78.9h.01M183.8 368.4h.01M141.7 65.3h.01M170.9 367.9h.01" stroke="#0072BD" stroke-width="4.0" stroke-linecap="round" fill="none"/>
<path d="M159.0 347.3h.01M160.4 376.2h.01M195.6 340.5h.01M157.0 82.9h.01M161.8 345.5h.01M188.3 350.4h.01M172.0 361.1h.01M138.5 98.0h.01M118.7 98.6h.01M155.8 66.8h.01M137.2 96.7h.01M140.0 100.8h.01M175.2 351.3h.01M164.0 65.6h.01M185.1 314.7h.01M137.1 88.0h.01M162.3 352.3h.01M185.3 319.4h.01M199.4 333.5h.01M183.5 323.6h.01M169.0 377.5h.01M176.3 360.3h.01M201.3 335.9h.01M144.1 51.9h.01M190.7 347.5h.01M128.9 80.3h.01M196.3 325.5h.01M171.7 345.9h.01M147.8 57.3h.01M162.4 77.0h.01M129.8 96.3h.01M181.8 318.2h.01M136.2 96.2h.01M178.2 373.6h.01M141.5 64.9h.01M164.2 65.0h.01M170.7 345.0h.01M187.6 348.5h.01M174.2 369.5h.01M181.4 347.5h.01M130.6 77.9h.01M190.7 343.9h.01M146.3 67.2h.01M181.1 325.2h.01M203.6 339.4h.01M178.7 358.0h.01M153.6 51.4h.01M179.3 327.5h.01M136.3 75.5h.01M178.6 327.4h.01M147.7 78.9h.01M162.8 68.1h.01M178.6 352.0h.01M154.4 76.7h.01M164.3 76.6h.01M169.8 361.0h.01M165.4 345.7h.01M181.3 358.1h.01M141.6 87.8h.01M139.5 95.9h.01M171.4 375.2h.01M131.9 82.3h.01M199.1 344.1h.01M124.7 115.8h.01M155.2 359.6h.01M143.1 60.8h.01M128.2 90.2h.01M163.4 372.9h.01M161.0 359.9h.01M131.7 73.6h.01M177.7 367.8h.01M183.5 327.5h.01M148.6 67.7h.01M125.7 79.9h.01M149.5 53.9h.01M130.4 72.6h.01M161.1 341.2h.01M163.1 374.7h.01M172.1 359.7h.01M205.2 333.2h.01M192.7 353.9h.01M166.1 344.6h.01M183.7 324.6h.01M187.3 324.2h.01M124.4 105.8h.01M190.5 324.3h.01M152.6 61.1h.01M125.9 89.2h.01M137.7 94.5h.01M179.2 345.1h.01M150.4 82.0h.01M181.6 366.6h.01M135.3 83.8h.01M142.5 76.5h.01M169.8 352.7h.01M194.2 323.7h.01M192.3 347.1h.01M138.1 89.9h.01M136.0 101.1h.01M132.5 76.6h.01M139.5 78.6h.01M176.1 327.0h.01M123.6 95.9h.01M136.9 75.3h.01M163.6 355.7h.01M132.9 76.6h.01M160.6 66.5h.01M153.0 62.4h.01M187.3 313.2h.01M190.2 320.3h.01M126.5 77.5h.01M175.7 358.6h.01M193.1 330.8h.01M125.6 102.0h.01M144.3 61.8h.01M162.3 341.3h.01M121.8 79.1h.01M112.4 94.9h.01M165.1 373.3h.01M158.3 58.1h.01M142.7 59.0h.01M178.8 322.8h.01M184.5 318.6h.01M149.6 86.1h.01M132.9 107.2h.01M157.9 347.3h.01M129.7 73.1h.01M154.6 353.9h.01M185.9 330.6h.01M190.6 331.4h.01M125.8 80.1h.01M202.2 333.2h.01M116.2 101.0h.01M184.4 345.0h.01M166.3 353.9h.01M198.1 337.1h.01M192.3 338.8h.01M149.9 58.9h.01M187.3 346.0h.01M122.4 97.2h.01M177.1 319.8h.01M197.2 327.5h.01M173.6 349.3h.01M151.8 55.3h.01M161.3 359.9h.01M127.5 96.7h.01M161.5 363.0h.01M141.0 76.2h.01M113.3 104.6h.01M155.0 81.1h.01M188.6 343.4h.01M158.6 81.2h.01M159.2 62.0h.01M155.2 355.0h.01M176.0 320.8h.01M167.8 73.5h.01M126.3 90.1h.01M163.3 349.2h.01M197.8 344.0h.01M192.3 354.6h.01M125.7 78.0h.01M161.8 65.8h.01M130.6 114.3h.01M123.7 105.9h.01M116.1 100.6h.01M124.1 91.5h.01M134.6 90.4h.01M144.6 68.8h.01M157.5 362.8h.01M147.2 76.2h.01M152.5 70.7h.01M159.8 343.4h.01M195.5 348.4h.01M194.4 324.5h.01M178.7 331.2h.01M118.5 107.2h.01M119.2 94.1h.01M154.5 57.9h.01M141.9 96.4h.01M182.7 334.0h.01M174.2 355.8h.01M157.0 78.3h.01M167.1 348.4h.01M150.5 77.2h.01M126.1 111.0h.01M186.0 314.5h.01M137.8 65.6h.01M186.8 328.4h.01" stroke="#0072BD" stroke-width="4.0" stroke-linecap="round" fill="none"/>
<path d="M118.3 94.3h.01M114.8 106.2h.01M129.9 78.9h.01M191.7 330.6h.01M193.8 331.6h.01M191.4 335.6h.01M185.0 341.5h.01M157.9 75.6h.01M181.9 324.0h.01M164.7 364.2h.01M158.9 344.0h.01M127.8 105.4h.01M134.5 111.6h.01M182.6 327.8h.01M137.8 71.9h.01M115.3 86.9h.01M155.6 61.2h.01M168.9 341.0h.01M192.7 318.5h.01M129.2 89.1h.01M144.3 83.9h.01M119.7 89.1h.01M180.2 370.6h.01M123.8 90.9h.01M175.6 372.5h.01M184.1 325.9h.01M129.7 97.2h.01M162.1 348.3h.01M121.4 81.4h.01M152.9 69.3h.01M132.6 89.1h.01M162.0 352.0h.01M174.2 372.7h.01M135.3 103.8h.01M169.8 369.1h.01M187.9 333.9h.01M147.3 63.8h.01M193.7 322.6h.01M180.0 69.0h.01M144.2 63.3h.01M164.0 347.4h.01M160.8 75.2h.01M195.6 351.5h.01M140.7 61.8h.01M164.3 345.1h.01M159.6 68.0h.01M144.5 78.5h.01M197.0 342.6h.01M142.2 73.2h.01M197.6 338.0h.01M178.6 359.4h.01M169.7 352.4h.01M160.5 358.6h.01M156.2 77.7h.01M135.9 62.0h.01M129.5 82.1h.01M136.7 65.6h.01M163.4 339.6h.01M146.6 58.1h.01M157.0 347.8h.01M175.8 344.8h.01M148.2 70.5h.01M193.0 331.9h.01M118.5 83.2h.01M184.3 328.5h.01M159.6 67.1h.01M164.3 348.9h.01M155.3 83.5h.01M136.0 64.8h.01M117.2 87.7h.01M165.9 369.6h.01M119.6 94.8h.01M176.0 73.0h.01M179.6 329.4h.01M166.3 76.1h.01M168.8 348.8h.01M160.0 353.5h.01M128.7 83.7h.01M159.2 341.7h.01M186.2 328.4h.01M127.1 80.9h.01M201.6 339.6h.01M205.3 335.9h.01M201.7 336.0h.01M170.8 360.3h.01M112.8 91.6h.01M135.2 81.5h.01M169.0 345.9h.01M121.9 87.4h.01M135.7 112.6h.01M147.8 62.6h.01M192.0 318.4h.01M166.6 377.8h.01M161.2 356.6h.01M183.0 314.0h.01M179.4 339.0h.01M123.0 97.9h.01M123.0 103.2h.01M132.7 78.9h.01M138.9 84.7h.01M117.1 97.1h.01M122.0 96.1h.01M180.0 348.6h.01M168.5 371.9h.01M138.2 103.3h.01M181.1 370.8h.01M161.0 81.5h.01M180.6 331.0h.01M154.7 76.7h.01M179.8 314.5h.01M193.9 326.2h.01M188.7 356.8h.01M118.7 91.5h.01M174.1 364.9h.01M192.2 322.7h.01M164.7 73.6h.01M194.6 331.6h.01M131.0 94.4h.01M159.6 343.7h.01M154.7 55.3h.01M189.6 352.8h.01M173.9 365.1h.01M195.5 348.1h.01M123.7 108.2h.01M172.8 365.1h.01M144.1 93.2h.01M198.7 337.4h.01M196.0 338.3h.01M160.3 355.2h.01M177.9 353.5h.01M192.9 325.8h.01M154.9 366.1h.01M163.2 366.7h.01M129.7 101.2h.01M189.8 330.8h.01M162.4 72.1h.01M190.5 330.5h.01M157.0 347.4h.01M180.4 314.7h.01M158.2 360.5h.01M127.7 88.1h.01M166.1 75.6h.01M128.9 85.3h.01M190.0 324.3h.01M131.8 112.9h.01M212.7 333.0h.01M134.5 109.9h.01M179.6 369.7h.01M132.3 81.7h.01M154.4 63.9h.01M185.0 332.4h.01M186.6 322.7h.01M133.8 93.1h.01M177.3 353.3h.01M188.2 349.3h.01M140.6 60.0h.01M151.9 53.1h.01M135.4 60.6h.01M161.7 81.7h.01M144.3 57.4h.01M171.8 342.2h.01M201.7 343.6h.01M155.7 76.7h.01M157.2 353.9h.01M162.3 64.8h.01M164.3 360.8h.01M171.7 341.8h.01M167.4 369.9h.01M127.2 104.8h.01M147.7 63.4h.01M140.6 88.3h.01M175.8 354.0h.01M183.8 365.3h.01M180.0 338.0h.01M182.4 322.6h.01M179.2 355.0h.01M139.7 62.2h.01M181.5 366.3h.01M163.4 353.5h.01M176.8 356.3h.01M142.2 55.5h.01M190.3 325.6h.01M169.1 371.3h.01M134.2 71.8h.01M203.9 335.8h.01M163.4 352.5h.01M137.8 77.3h.01M178.3 358.9h.01" stroke="#0072BD" stroke-width="4.0" stroke-linecap="round" fill="none"/>
<line x1="73.4" y1="186.3" x2="73.4" y2="52.3" stroke="#3c3c3c" stroke-width="1"/>
<line x1="73.4" y1="186.3" x2="218.9" y2="213.7" stroke="#3c3c3c" stroke-width="1"/>
<line x1="218.9" y1="213.7" x2="393.6" y2="191.1" stroke="#3c3c3c" stroke-width="1"/>
<line x1="67.7" y1="185.2" x2="73.4" y2="186.3" stroke="#3c3c3c" stroke-width="1"/>
<line x1="67.7" y1="118.2" x2="73.4" y2="119.3" stroke="#3c3c3c" stroke-width="1"/>
<line x1="67.7" y1="51.2" x2="73.4" y2="52.3" stroke="#3c3c3c" stroke-width="1"/>
<line x1="112.8" y1="193.7" x2="107.8" y2="194.4" stroke="#3c3c3c" stroke-width="1"/>
<line x1="171.3" y1="204.7" x2="166.3" y2="205.4" stroke="#3c3c3c" stroke-width="1"/>
<line x1="254.9" y1="209.0" x2="259.8" y2="210.0" stroke="#3c3c3c" stroke-width="1"/>
<line x1="311.0" y1="201.8" x2="315.9" y2="202.7" stroke="#3c3c3c" stroke-width="1"/>
<line x1="367.1" y1="194.5" x2="372.0" y2="195.5" stroke="#3c3c3c" stroke-width="1"/>
<line x1="117.4" y1="457.2" x2="117.4" y2="303.0" stroke="#3c3c3c" stroke-width="1"/>
<line x1="117.4" y1="457.2" x2="204.4" y2="481.9" stroke="#3c3c3c" stroke-width="1"/>
<line x1="204.4" y1="481.9" x2="434.2" y2="473.2" stroke="#3c3c3c" stroke-width="1"/>
<line x1="111.9" y1="455.6" x2="117.4" y2="457.2" stroke="#3c3c3c" stroke-width="1"/>
<line x1="111.9" y1="417.1" x2="117.4" y2="418.6" stroke="#3c3c3c" stroke-width="1"/>
<line x1="111.9" y1="378.5" x2="117.4" y2="380.1" stroke="#3c3c3c" stroke-width="1"/>
<line x1="111.9" y1="340.0" x2="117.4" y2="341.6" stroke="#3c3c3c" stroke-width="1"/>
<line x1="111.9" y1="301.4" x2="117.4" y2="303.0" stroke="#3c3c3c" stroke-width="1"/>
<line x1="117.4" y1="457.2" x2="117.4" y2="463.2" stroke="#3c3c3c" stroke-width="1"/>
<line x1="139.7" y1="463.5" x2="139.7" y2="469.5" stroke="#3c3c3c" stroke-width="1"/>
<line x1="161.8" y1="469.8" x2="161.8" y2="475.8" stroke="#3c3c3c" stroke-width="1"/>
<line x1="183.8" y1="476.1" x2="183.8" y2="482.1" stroke="#3c3c3c" stroke-width="1"/>
<line x1="241.0" y1="480.5" x2="241.0" y2="486.5" stroke="#3c3c3c" stroke-width="1"/>
<line x1="282.0" y1="479.0" x2="282.0" y2="485.0" stroke="#3c3c3c" stroke-width="1"/>
<line x1="323.0" y1="477.4" x2="323.0" y2="483.4" stroke="#3c3c3c" stroke-width="1"/>
<line x1="364.4" y1="475.8" x2="364.4" y2="481.8" stroke="#3c3c3c" stroke-width="1"/>
<line x1="406.0" y1="474.3" x2="406.0" y2="480.3" stroke="#3c3c3c" stroke-width="1"/>
<text x="107.47" y="22.70" font-size="17.5" font-weight="bold" font-family="Liberation Sans, Arial, sans-serif" fill="#000" textLength="253.36" lengthAdjust="spacingAndGlyphs">PCA - Training data SENSOR 3</text>
<text x="53.34" y="56.70" font-size="16.3" font-weight="normal" font-family="Liberation Sans, Arial, sans-serif" fill="#262626" textLength="9.25" lengthAdjust="spacingAndGlyphs">0</text>
<text x="39.77" y="123.80" font-size="16.3" font-weight="normal" font-family="Liberation Sans, Arial, sans-serif" fill="#262626" textLength="23.37" lengthAdjust="spacingAndGlyphs">-10</text>
<text x="39.77" y="190.90" font-size="16.3" font-weight="normal" font-family="Liberation Sans, Arial, sans-serif" fill="#262626" textLength="23.37" lengthAdjust="spacingAndGlyphs">-20</text>
<text x="85.79" y="211.60" font-size="16.3" font-weight="normal" font-family="Liberation Sans, Arial, sans-serif" fill="#262626" textLength="17.99" lengthAdjust="spacingAndGlyphs">60</text>
<text x="144.58" y="223.00" font-size="16.3" font-weight="normal" font-family="Liberation Sans, Arial, sans-serif" fill="#262626" textLength="18.73" lengthAdjust="spacingAndGlyphs">40</text>
<text x="262.07" y="227.70" font-size="16.3" font-weight="normal" font-family="Liberation Sans, Arial, sans-serif" fill="#262626" textLength="32.51" lengthAdjust="spacingAndGlyphs">-100</text>
<text x="319.17" y="219.60" font-size="16.3" font-weight="normal" font-family="Liberation Sans, Arial, sans-serif" fill="#262626" textLength="23.37" lengthAdjust="spacingAndGlyphs">-80</text>
<text x="375.08" y="212.50" font-size="16.3" font-weight="normal" font-family="Liberation Sans, Arial, sans-serif" fill="#262626" textLength="23.16" lengthAdjust="spacingAndGlyphs">-60</text>
<text x="10.03" y="249.20" font-size="17.4" font-weight="normal" font-family="Liberation Sans, Arial, sans-serif" fill="#262626" textLength="129.64" lengthAdjust="spacingAndGlyphs">2nd f component</text>
<text x="319.61" y="250.00" font-size="17.4" font-weight="normal" font-family="Liberation Sans, Arial, sans-serif" fill="#262626" textLength="122.27" lengthAdjust="spacingAndGlyphs">1st f component</text>
<text x="161.03" y="286.60" font-size="18" font-weight="bold" font-family="Liberation Sans, Arial, sans-serif" fill="#000" textLength="228.80" lengthAdjust="spacingAndGlyphs">PCA - Test Data SENSOR 3</text>
<text x="95.94" y="307.10" font-size="16.3" font-weight="normal" font-family="Liberation Sans, Arial, sans-serif" fill="#262626" textLength="9.25" lengthAdjust="spacingAndGlyphs">0</text>
<text x="90.98" y="345.90" font-size="16.3" font-weight="normal" font-family="Liberation Sans, Arial, sans-serif" fill="#262626" textLength="14.14" lengthAdjust="spacingAndGlyphs">-5</text>
<text x="81.77" y="384.60" font-size="16.3" font-weight="normal" font-family="Liberation Sans, Arial, sans-serif" fill="#262626" textLength="23.37" lengthAdjust="spacingAndGlyphs">-10</text>
<text x="81.77" y="423.40" font-size="16.3" font-weight="normal" font-family="Liberation Sans, Arial, sans-serif" fill="#262626" textLength="23.37" lengthAdjust="spacingAndGlyphs">-15</text>
<text x="81.77" y="462.10" font-size="16.3" font-weight="normal" font-family="Liberation Sans, Arial, sans-serif" fill="#262626" textLength="23.37" lengthAdjust="spacingAndGlyphs">-20</text>
<text x="99.09" y="486.30" font-size="16.3" font-weight="normal" font-family="Liberation Sans, Arial, sans-serif" fill="#262626" textLength="17.47" lengthAdjust="spacingAndGlyphs">80</text>
<text x="120.59" y="491.90" font-size="16.3" font-weight="normal" font-family="Liberation Sans, Arial, sans-serif" fill="#262626" textLength="18.10" lengthAdjust="spacingAndGlyphs">60</text>
<text x="142.61" y="498.50" font-size="16.3" font-weight="normal" font-family="Liberation Sans, Arial, sans-serif" fill="#262626" textLength="17.56" lengthAdjust="spacingAndGlyphs">40</text>
<text x="164.72" y="504.40" font-size="16.3" font-weight="normal" font-family="Liberation Sans, Arial, sans-serif" fill="#262626" textLength="17.44" lengthAdjust="spacingAndGlyphs">20</text>
<text x="240.45" y="508.80" font-size="16.3" font-weight="normal" font-family="Liberation Sans, Arial, sans-serif" fill="#262626" textLength="33.14" lengthAdjust="spacingAndGlyphs">-100</text>
<text x="282.15" y="507.00" font-size="16.3" font-weight="normal" font-family="Liberation Sans, Arial, sans-serif" fill="#262626" textLength="24.01" lengthAdjust="spacingAndGlyphs">-80</text>
<text x="322.53" y="504.90" font-size="16.3" font-weight="normal" font-family="Liberation Sans, Arial, sans-serif" fill="#262626" textLength="24.65" lengthAdjust="spacingAndGlyphs">-60</text>
<text x="363.13" y="503.20" font-size="16.3" font-weight="normal" font-family="Liberation Sans, Arial, sans-serif" fill="#262626" textLength="24.76" lengthAdjust="spacingAndGlyphs">-40</text>
<text x="404.33" y="501.50" font-size="16.3" font-weight="normal" font-family="Liberation Sans, Arial, sans-serif" fill="#262626" textLength="24.65" lengthAdjust="spacingAndGlyphs">-20</text>
<text x="5.42" y="520.30" font-size="17.4" font-weight="normal" font-family="Liberation Sans, Arial, sans-serif" fill="#262626" textLength="131.76" lengthAdjust="spacingAndGlyphs">2nd f component</text>
<text x="320.67" y="523.70" font-size="17.4" font-weight="normal" font-family="Liberation Sans, Arial, sans-serif" fill="#262626" textLength="126.42" lengthAdjust="spacingAndGlyphs">1st f component</text>
<text transform="translate(73.90,444.70) rotate(-90)" font-size="17.4" font-weight="normal" font-family="Liberation Sans, Arial, sans-serif" fill="#262626" textLength="127.33" lengthAdjust="spacingAndGlyphs">3rd f component</text>
<text x="226.5" y="269.4" font-size="12" font-weight="bold" text-anchor="middle" font-family="Liberation Serif, Times New Roman, serif" fill="#1a1a1a">(c)</text>
<text x="226.5" y="543.8" font-size="12.4" font-weight="bold" text-anchor="middle" font-family="Liberation Serif, Times New Roman, serif" fill="#1a1a1a">(d)</text>
<rect x="254.9" y="132.6" width="113.4" height="61.099999999999994" fill="#fff" stroke="#262626" stroke-width="1"/>
<circle cx="284.1" cy="144.4" r="4.9" fill="#0072BD"/>
<text x="312.46" y="149.30" font-size="13.8" font-weight="normal" font-family="Liberation Sans, Arial, sans-serif" fill="#262626" textLength="45.80" lengthAdjust="spacingAndGlyphs">Normal</text>
<circle cx="284.1" cy="164.0" r="4.9" fill="#D95319"/>
<text x="312.48" y="169.00" font-size="13.8" font-weight="normal" font-family="Liberation Sans, Arial, sans-serif" fill="#262626" textLength="49.64" lengthAdjust="spacingAndGlyphs">Faulty 1</text>
<circle cx="284.1" cy="183.3" r="4.9" fill="#EDB120"/>
<text x="312.48" y="188.50" font-size="13.8" font-weight="normal" font-family="Liberation Sans, Arial, sans-serif" fill="#262626" textLength="49.64" lengthAdjust="spacingAndGlyphs">Faulty 2</text>
<rect x="297.7" y="407.7" width="117.19999999999999" height="60.10000000000002" fill="#fff" stroke="#262626" stroke-width="1"/>
<circle cx="327.8" cy="419.8" r="4.9" fill="#0072BD"/>
<text x="357.22" y="424.90" font-size="13.8" font-weight="normal" font-family="Liberation Sans, Arial, sans-serif" fill="#262626" textLength="47.48" lengthAdjust="spacingAndGlyphs">Normal</text>
<circle cx="327.8" cy="438.5" r="4.9" fill="#D95319"/>
<text x="357.24" y="444.20" font-size="13.8" font-weight="normal" font-family="Liberation Sans, Arial, sans-serif" fill="#262626" textLength="51.51" lengthAdjust="spacingAndGlyphs">Faulty 1</text>
<circle cx="327.8" cy="456.4" r="4.9" fill="#EDB120"/>
<text x="357.24" y="462.70" font-size="13.8" font-weight="normal" font-family="Liberation Sans, Arial, sans-serif" fill="#262626" textLength="51.51" lengthAdjust="spacingAndGlyphs">Faulty 2</text>
</svg>
</body></html>
